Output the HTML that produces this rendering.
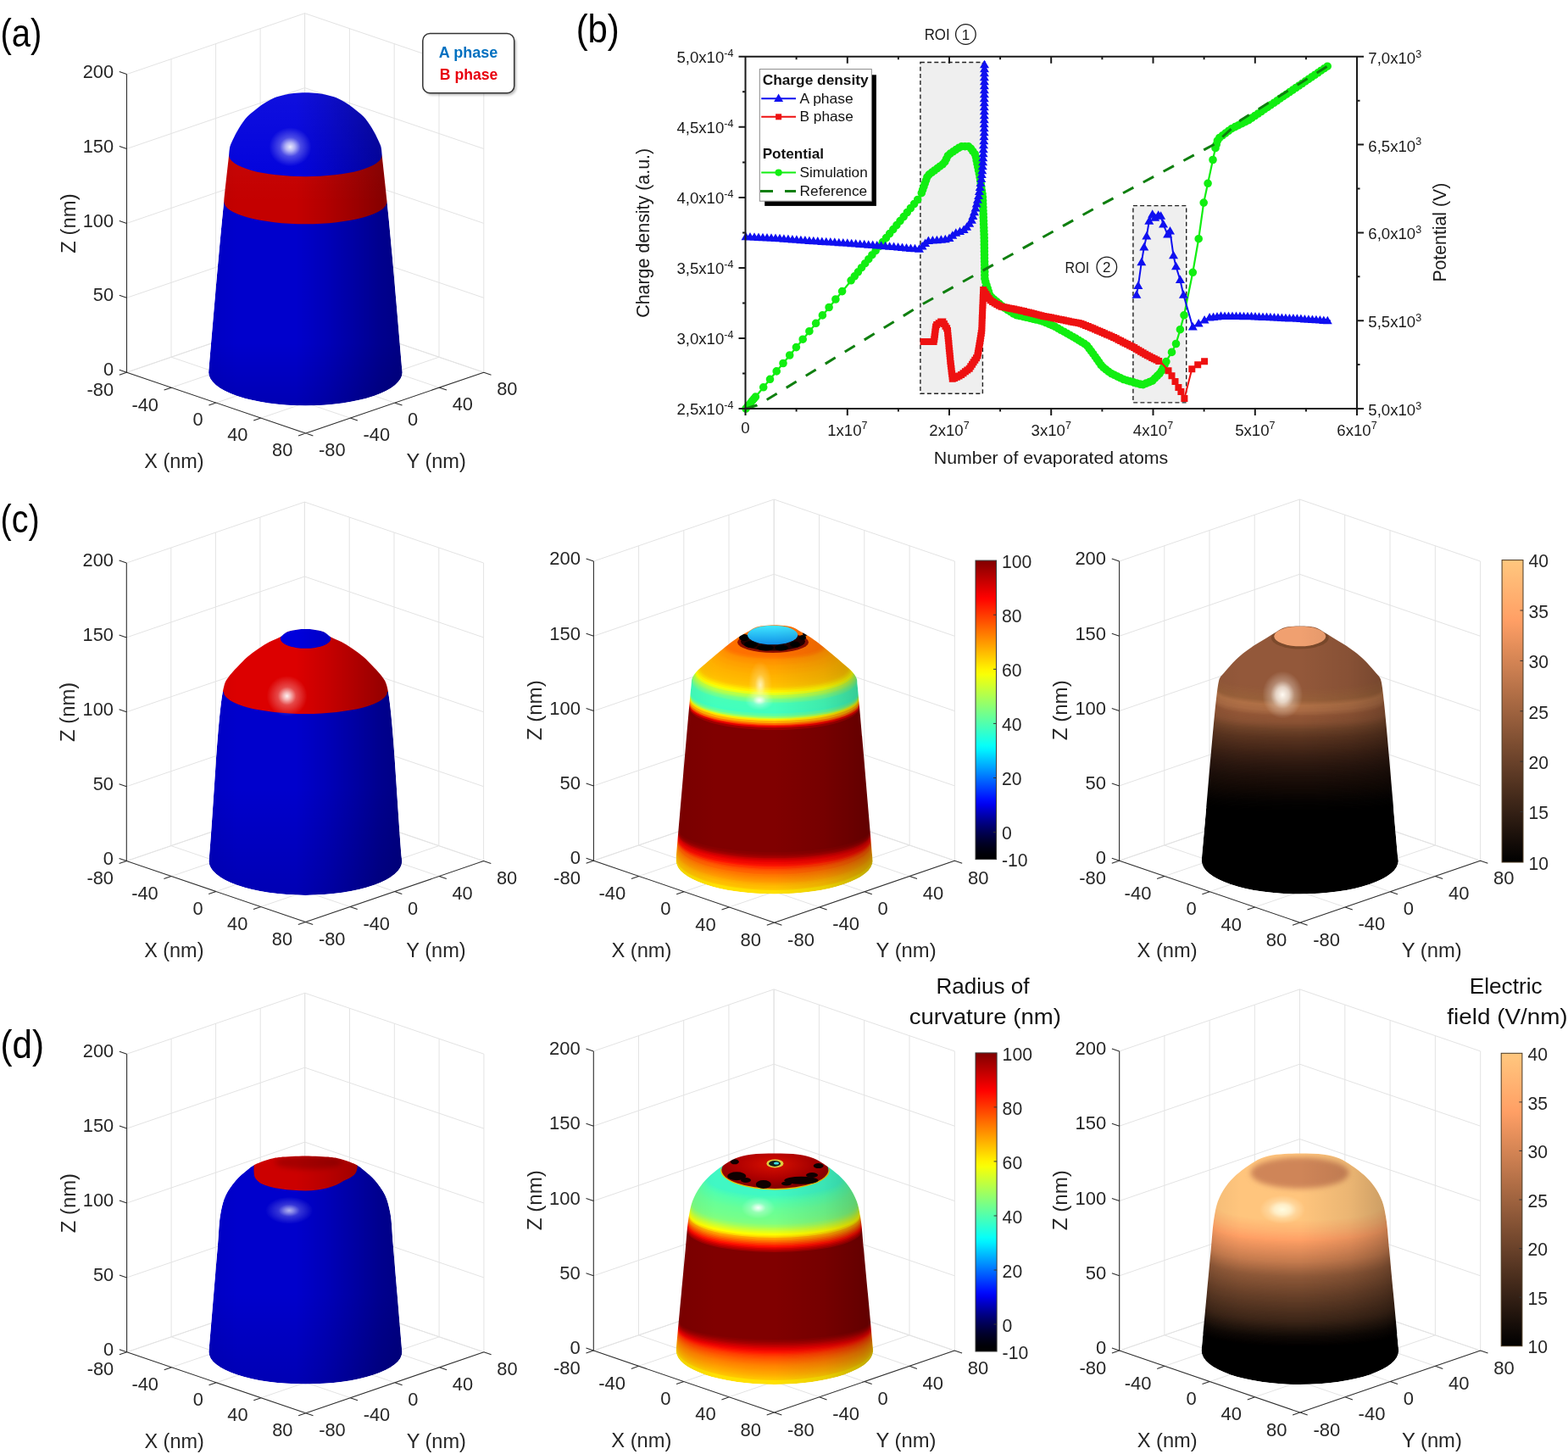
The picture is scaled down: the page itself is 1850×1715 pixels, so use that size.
<!DOCTYPE html><html><head><meta charset="utf-8"><title>Figure</title><style>html,body{margin:0;padding:0;background:#fff;}svg{display:block;}</style></head><body><svg xmlns="http://www.w3.org/2000/svg" width="1850" height="1715" viewBox="0 0 1850 1715" font-family="'Liberation Sans', Arial, Helvetica, sans-serif"><defs><mask id="cla" maskUnits="userSpaceOnUse" x="0" y="0" width="1850" height="1715"><path d="M246.1 439.2C250.1 392.8 254.8 337.2 258.2 300C260.5 275.1 262.1 257.8 264.2 237.7C266.1 218.9 269.1 193.1 270.1 183.1C270.5 179.3 270.5 177.4 270.9 175.2C271.2 173.6 271.2 173 271.9 171.2C273.4 167 278.3 157.1 281.9 151.2C285 146.1 288.2 141.4 291.9 137.5C295.3 133.9 299.2 131.1 302.9 128.2C306.5 125.4 310.2 122.7 313.9 120.5C317.2 118.5 320.4 116.7 323.9 115.3C327.5 113.8 331.6 112.8 335.4 111.9C339.1 111 342.5 110.4 346.4 109.9C350.8 109.4 355.7 109.2 360.4 109.2C365.1 109.2 370 109.4 374.4 109.9C378.3 110.4 381.7 111 385.4 111.9C389.2 112.8 393.3 113.8 396.9 115.3C400.4 116.7 403.6 118.5 406.9 120.5C410.6 122.7 414.3 125.4 417.9 128.2C421.6 131.1 425.5 133.9 428.9 137.5C432.6 141.4 435.8 146.1 438.9 151.2C442.5 157.1 447.4 167 448.9 171.2C449.6 173 449.6 173.6 449.9 175.2C450.3 177.4 450.3 179.3 450.7 183.1C451.7 193.1 454.7 218.9 456.6 237.7C458.7 257.8 460.3 275.1 462.6 300C466 337.2 470.7 392.8 474.7 439.2A114.3 39.2 0 0 1 246.1 439.2Z" fill="#fff"/></mask><linearGradient id="vsa" gradientUnits="userSpaceOnUse" x1="0" y1="109" x2="0" y2="478"><stop offset="0" stop-color="#fff" stop-opacity="0.06"/><stop offset="0.35" stop-color="#fff" stop-opacity="0.0"/><stop offset="0.8" stop-color="#000" stop-opacity="0.0"/><stop offset="1" stop-color="#000" stop-opacity="0.12"/></linearGradient><linearGradient id="sha" gradientUnits="userSpaceOnUse" x1="246.1" y1="0" x2="474.7" y2="0"><stop offset="0" stop-color="#000" stop-opacity="0.05"/><stop offset="0.15" stop-color="#000" stop-opacity="0.0"/><stop offset="0.45" stop-color="#000" stop-opacity="0.0"/><stop offset="0.6" stop-color="#000" stop-opacity="0.09"/><stop offset="0.75" stop-color="#000" stop-opacity="0.2"/><stop offset="0.88" stop-color="#000" stop-opacity="0.3"/><stop offset="1" stop-color="#000" stop-opacity="0.36"/></linearGradient><radialGradient id="hla_0"><stop offset="0" stop-color="#ffffff" stop-opacity="0.92"/><stop offset="0.22" stop-color="#ffffff" stop-opacity="0.6900000000000001"/><stop offset="0.49" stop-color="#ffffff" stop-opacity="0.276"/><stop offset="1" stop-color="#ffffff" stop-opacity="0"/></radialGradient><mask id="clc1" maskUnits="userSpaceOnUse" x="0" y="0" width="1850" height="1715"><path d="M246.5 1015.6C252.5 946.5 257.1 833.3 264.6 808.2C266.4 802.2 267.9 801.1 270.2 797.8C272.7 794.2 275.9 791.1 279.3 787.5C283.2 783.4 287.8 778.4 292.3 774.5C296.5 770.9 300.8 767.9 305.1 765C309.4 762.1 313.7 759.4 318.1 757C322.4 754.7 327.6 753.2 331.2 751C334.1 749.3 335.5 747 338.4 745.6C341.8 744 346.6 743.3 350.4 742.7C353.9 742.2 357.1 742.1 360.4 742.1C363.7 742.1 366.9 742.2 370.4 742.7C374.2 743.3 379 744 382.4 745.6C385.3 747 386.7 749.3 389.6 751C393.2 753.2 398.4 754.7 402.7 757C407.1 759.4 411.4 762.1 415.7 765C420 767.9 424.3 770.9 428.5 774.5C433 778.4 437.6 783.4 441.5 787.5C444.9 791.1 448.1 794.2 450.6 797.8C452.9 801.1 454.4 802.2 456.2 808.2C463.7 833.3 468.3 946.5 474.3 1015.6A113.9 40.3 0 0 1 246.5 1015.6Z" fill="#fff"/></mask><linearGradient id="vsc1" gradientUnits="userSpaceOnUse" x1="0" y1="742" x2="0" y2="1056"><stop offset="0" stop-color="#fff" stop-opacity="0.0"/><stop offset="0.6" stop-color="#000" stop-opacity="0.0"/><stop offset="1" stop-color="#000" stop-opacity="0.12"/></linearGradient><linearGradient id="shc1" gradientUnits="userSpaceOnUse" x1="246.5" y1="0" x2="474.3" y2="0"><stop offset="0" stop-color="#000" stop-opacity="0.05"/><stop offset="0.15" stop-color="#000" stop-opacity="0.0"/><stop offset="0.45" stop-color="#000" stop-opacity="0.0"/><stop offset="0.6" stop-color="#000" stop-opacity="0.09"/><stop offset="0.75" stop-color="#000" stop-opacity="0.2"/><stop offset="0.88" stop-color="#000" stop-opacity="0.3"/><stop offset="1" stop-color="#000" stop-opacity="0.36"/></linearGradient><radialGradient id="hlc1_0"><stop offset="0" stop-color="#ffffff" stop-opacity="0.95"/><stop offset="0.18" stop-color="#ffffff" stop-opacity="0.7124999999999999"/><stop offset="0.45" stop-color="#ffffff" stop-opacity="0.285"/><stop offset="1" stop-color="#ffffff" stop-opacity="0"/></radialGradient><mask id="cld1" maskUnits="userSpaceOnUse" x="0" y="0" width="1850" height="1715"><path d="M246.4 1594.8C249.9 1553 254.3 1499.3 256.9 1469.4C258.3 1452.7 258.3 1441.3 260.4 1430.4C261.9 1422.4 263.4 1416.1 266.4 1409.8C269.3 1403.6 273.5 1397.8 277.9 1392.7C282.1 1387.8 288 1383.1 292 1379.8C294.6 1377.6 296.5 1376.1 299.1 1374.6C301.7 1373.1 304.2 1372.1 307.6 1370.8C312.3 1369 320.7 1366.5 325 1365.6C327.4 1365.1 328.1 1365.1 330.9 1364.9C336.9 1364.4 350.5 1363.6 360.4 1363.6C370.2 1363.6 383.8 1364.4 389.9 1364.9C392.6 1365.1 393.3 1365.1 395.8 1365.6C400 1366.5 408.4 1369 413.2 1370.8C416.5 1372.1 419 1373.1 421.7 1374.6C424.2 1376.1 426.1 1377.6 428.8 1379.8C432.7 1383.1 438.6 1387.8 442.9 1392.7C447.2 1397.8 451.4 1403.6 454.4 1409.8C457.3 1416.1 458.8 1422.4 460.4 1430.4C462.4 1441.3 462.4 1452.7 463.9 1469.4C466.4 1499.3 470.9 1553 474.4 1594.8A114 37.8 0 0 1 246.4 1594.8Z" fill="#fff"/></mask><linearGradient id="vsd1" gradientUnits="userSpaceOnUse" x1="0" y1="1363" x2="0" y2="1633"><stop offset="0" stop-color="#fff" stop-opacity="0.0"/><stop offset="0.6" stop-color="#000" stop-opacity="0.0"/><stop offset="1" stop-color="#000" stop-opacity="0.12"/></linearGradient><linearGradient id="shd1" gradientUnits="userSpaceOnUse" x1="246.4" y1="0" x2="474.4" y2="0"><stop offset="0" stop-color="#000" stop-opacity="0.05"/><stop offset="0.15" stop-color="#000" stop-opacity="0.0"/><stop offset="0.45" stop-color="#000" stop-opacity="0.0"/><stop offset="0.6" stop-color="#000" stop-opacity="0.09"/><stop offset="0.75" stop-color="#000" stop-opacity="0.2"/><stop offset="0.88" stop-color="#000" stop-opacity="0.3"/><stop offset="1" stop-color="#000" stop-opacity="0.36"/></linearGradient><radialGradient id="hld1_0"><stop offset="0" stop-color="#ffffff" stop-opacity="0.7"/><stop offset="0.18" stop-color="#ffffff" stop-opacity="0.5249999999999999"/><stop offset="0.45" stop-color="#ffffff" stop-opacity="0.21"/><stop offset="1" stop-color="#ffffff" stop-opacity="0"/></radialGradient><mask id="clc2" maskUnits="userSpaceOnUse" x="0" y="0" width="1850" height="1715"><path d="M797.6 1015.2C803.6 946.1 813.2 830.7 815.6 808C816.1 803.5 815.7 802.5 816.6 800C817.6 797.5 819.1 795.4 821.1 793C823.9 789.8 828.2 786.5 832.1 783C836.5 779.2 841.5 774.9 846.1 771C850.7 767.2 855.1 763.5 859.6 760C864.2 756.5 869.3 752.7 873.6 750C877.2 747.8 880.5 746.2 883.6 744.5C886.5 742.9 888.2 741.1 891.6 740C897 738.2 906.3 737.3 913.6 737.3C921 737.3 930.3 738.2 935.6 740C939.1 741.1 940.8 742.9 943.6 744.5C946.8 746.2 950.1 747.8 953.6 750C958 752.7 963.1 756.5 967.6 760C972.2 763.5 976.6 767.2 981.1 771C985.8 774.9 990.8 779.2 995.1 783C999.1 786.5 1003.4 789.8 1006.1 793C1008.2 795.4 1009.7 797.5 1010.6 800C1011.6 802.5 1011.2 803.5 1011.6 808C1014.1 830.7 1023.7 946.1 1029.7 1015.2A116 39.4 0 0 1 797.6 1015.2Z" fill="#fff"/></mask><linearGradient id="cyc2" x1="0" y1="0" x2="0" y2="1"><stop offset="0" stop-color="#40e8ff"/><stop offset="1" stop-color="#1090e8"/></linearGradient><linearGradient id="shc2" gradientUnits="userSpaceOnUse" x1="797.6" y1="0" x2="1029.7" y2="0"><stop offset="0" stop-color="#000" stop-opacity="0.06"/><stop offset="0.2" stop-color="#000" stop-opacity="0.0"/><stop offset="0.5" stop-color="#000" stop-opacity="0.0"/><stop offset="0.75" stop-color="#000" stop-opacity="0.08"/><stop offset="0.9" stop-color="#000" stop-opacity="0.18"/><stop offset="1" stop-color="#000" stop-opacity="0.25"/></linearGradient><radialGradient id="hlc2_0"><stop offset="0" stop-color="#ffffe0" stop-opacity="0.8"/><stop offset="0.18" stop-color="#ffffe0" stop-opacity="0.6000000000000001"/><stop offset="0.45" stop-color="#ffffe0" stop-opacity="0.24"/><stop offset="1" stop-color="#ffffe0" stop-opacity="0"/></radialGradient><radialGradient id="hlc2_1"><stop offset="0" stop-color="#ffffff" stop-opacity="0.95"/><stop offset="0.18" stop-color="#ffffff" stop-opacity="0.7124999999999999"/><stop offset="0.45" stop-color="#ffffff" stop-opacity="0.285"/><stop offset="1" stop-color="#ffffff" stop-opacity="0"/></radialGradient><mask id="cld2" maskUnits="userSpaceOnUse" x="0" y="0" width="1850" height="1715"><path d="M797.6 1593.1C801.3 1553.5 806 1502.7 808.7 1474.3C810.2 1458.4 810.7 1447.5 812.4 1437.1C813.7 1429.4 814.6 1423.4 816.9 1417.1C819.2 1410.9 822.4 1404.9 826.1 1399.7C829.6 1394.6 833.9 1390.2 838.3 1386.1C842.8 1382 847.8 1378.3 852.8 1374.9C857.7 1371.6 862.4 1368.4 867.8 1366.2C873.4 1364 879.2 1362.8 885.9 1361.8C894.2 1360.6 904.6 1360.6 913.9 1360.6C923.2 1360.6 933.6 1360.6 941.9 1361.8C948.6 1362.8 954.4 1364 960 1366.2C965.4 1368.4 970.1 1371.6 975 1374.9C980 1378.3 985 1382 989.5 1386.1C993.9 1390.2 998.2 1394.6 1001.7 1399.7C1005.4 1404.9 1008.6 1410.9 1010.9 1417.1C1013.2 1423.4 1014.1 1429.4 1015.4 1437.1C1017.1 1447.5 1017.6 1458.4 1019.1 1474.3C1021.8 1502.7 1026.5 1553.5 1030.2 1593.1A116.3 40 0 0 1 797.6 1593.1Z" fill="#fff"/></mask><radialGradient id="rcd2" cx="0.5" cy="0.35" r="0.6"><stop offset="0" stop-color="#d81000"/><stop offset="0.6" stop-color="#b00000"/><stop offset="1" stop-color="#880000"/></radialGradient><linearGradient id="shd2" gradientUnits="userSpaceOnUse" x1="797.6" y1="0" x2="1030.2" y2="0"><stop offset="0" stop-color="#000" stop-opacity="0.06"/><stop offset="0.2" stop-color="#000" stop-opacity="0.0"/><stop offset="0.5" stop-color="#000" stop-opacity="0.0"/><stop offset="0.75" stop-color="#000" stop-opacity="0.08"/><stop offset="0.9" stop-color="#000" stop-opacity="0.18"/><stop offset="1" stop-color="#000" stop-opacity="0.25"/></linearGradient><radialGradient id="hld2_0"><stop offset="0" stop-color="#ffffff" stop-opacity="0.95"/><stop offset="0.18" stop-color="#ffffff" stop-opacity="0.7124999999999999"/><stop offset="0.45" stop-color="#ffffff" stop-opacity="0.285"/><stop offset="1" stop-color="#ffffff" stop-opacity="0"/></radialGradient><mask id="clc3" maskUnits="userSpaceOnUse" x="0" y="0" width="1850" height="1715"><path d="M1417.8 1015.2C1424.4 944.9 1433.6 822.9 1437.8 804.2C1438.4 801.2 1438.6 800.9 1439.5 799.2C1440.8 797 1443 794.9 1445.3 792.2C1448.7 788.3 1453.6 782.5 1457.8 778.4C1461.7 774.7 1465.4 771.6 1469.5 768.5C1473.5 765.4 1477.9 762.5 1482.2 759.8C1486.3 757.1 1490.7 754.7 1494.7 752.3C1498.2 750.1 1501.5 748.1 1504.8 746.1C1508.1 744.2 1510.5 741.8 1514.5 740.5C1519.6 738.8 1527.3 738.6 1533.8 738.6C1540.2 738.6 1547.9 738.8 1553 740.5C1557 741.8 1559.4 744.2 1562.7 746.1C1566 748.1 1569.3 750.1 1572.8 752.3C1576.8 754.7 1581.2 757.1 1585.3 759.8C1589.6 762.5 1594 765.4 1598 768.5C1602.1 771.6 1605.8 774.7 1609.7 778.4C1613.9 782.5 1618.8 788.3 1622.2 792.2C1624.5 794.9 1626.7 797 1628 799.2C1628.9 800.9 1629.1 801.2 1629.8 804.2C1633.9 822.9 1643.1 944.9 1649.8 1015.2A116 39.4 0 0 1 1417.8 1015.2Z" fill="#fff"/></mask><linearGradient id="shc3" gradientUnits="userSpaceOnUse" x1="1417.8" y1="0" x2="1649.8" y2="0"><stop offset="0" stop-color="#000" stop-opacity="0.06"/><stop offset="0.2" stop-color="#000" stop-opacity="0.0"/><stop offset="0.5" stop-color="#000" stop-opacity="0.0"/><stop offset="0.75" stop-color="#000" stop-opacity="0.08"/><stop offset="0.9" stop-color="#000" stop-opacity="0.18"/><stop offset="1" stop-color="#000" stop-opacity="0.25"/></linearGradient><radialGradient id="hlc3_0"><stop offset="0" stop-color="#fffaf2" stop-opacity="1.0"/><stop offset="0.32" stop-color="#fffaf2" stop-opacity="0.75"/><stop offset="0.59" stop-color="#fffaf2" stop-opacity="0.3"/><stop offset="1" stop-color="#fffaf2" stop-opacity="0"/></radialGradient><mask id="cld3" maskUnits="userSpaceOnUse" x="0" y="0" width="1850" height="1715"><path d="M1417.6 1593.1C1421.3 1553.5 1426 1502.7 1428.7 1474.3C1430.2 1458.4 1430.7 1447.5 1432.4 1437.1C1433.7 1429.4 1434.6 1423.4 1436.9 1417.1C1439.2 1410.9 1442.4 1404.9 1446.1 1399.7C1449.6 1394.6 1453.9 1390.2 1458.3 1386.1C1462.8 1382 1467.8 1378.3 1472.8 1374.9C1477.7 1371.6 1482.4 1368.4 1487.8 1366.2C1493.4 1364 1499.2 1362.8 1505.9 1361.8C1514.2 1360.6 1524.6 1360.6 1533.9 1360.6C1543.2 1360.6 1553.6 1360.6 1561.9 1361.8C1568.6 1362.8 1574.4 1364 1580 1366.2C1585.4 1368.4 1590.1 1371.6 1595 1374.9C1600 1378.3 1605 1382 1609.5 1386.1C1613.9 1390.2 1618.2 1394.6 1621.7 1399.7C1625.4 1404.9 1628.6 1410.9 1630.9 1417.1C1633.2 1423.4 1634.1 1429.4 1635.4 1437.1C1637.1 1447.5 1637.6 1458.4 1639.1 1474.3C1641.8 1502.7 1646.5 1553.5 1650.2 1593.1A116.3 40 0 0 1 1417.6 1593.1Z" fill="#fff"/></mask><filter id="blur3" x="-20%" y="-50%" width="140%" height="200%"><feGaussianBlur stdDeviation="3"/></filter><linearGradient id="shd3" gradientUnits="userSpaceOnUse" x1="1417.6" y1="0" x2="1650.2" y2="0"><stop offset="0" stop-color="#000" stop-opacity="0.06"/><stop offset="0.2" stop-color="#000" stop-opacity="0.0"/><stop offset="0.5" stop-color="#000" stop-opacity="0.0"/><stop offset="0.75" stop-color="#000" stop-opacity="0.08"/><stop offset="0.9" stop-color="#000" stop-opacity="0.18"/><stop offset="1" stop-color="#000" stop-opacity="0.25"/></linearGradient><radialGradient id="hld3_0"><stop offset="0" stop-color="#fffce0" stop-opacity="1.0"/><stop offset="0.35" stop-color="#fffce0" stop-opacity="0.75"/><stop offset="0.62" stop-color="#fffce0" stop-opacity="0.3"/><stop offset="1" stop-color="#fffce0" stop-opacity="0"/></radialGradient><linearGradient id="gjet" x1="0" y1="0" x2="0" y2="1"><stop offset="0.0000" stop-color="#800000"/><stop offset="0.0182" stop-color="#920000"/><stop offset="0.0364" stop-color="#a50000"/><stop offset="0.0545" stop-color="#b70000"/><stop offset="0.0727" stop-color="#ca0000"/><stop offset="0.0909" stop-color="#dc0000"/><stop offset="0.1091" stop-color="#ef0000"/><stop offset="0.1273" stop-color="#ff0200"/><stop offset="0.1455" stop-color="#ff1500"/><stop offset="0.1636" stop-color="#ff2700"/><stop offset="0.1818" stop-color="#ff3a00"/><stop offset="0.2000" stop-color="#ff4c00"/><stop offset="0.2182" stop-color="#ff5f00"/><stop offset="0.2364" stop-color="#ff7200"/><stop offset="0.2545" stop-color="#ff8400"/><stop offset="0.2727" stop-color="#ff9700"/><stop offset="0.2909" stop-color="#ffa900"/><stop offset="0.3091" stop-color="#ffbc00"/><stop offset="0.3273" stop-color="#ffce00"/><stop offset="0.3455" stop-color="#ffe100"/><stop offset="0.3636" stop-color="#fff300"/><stop offset="0.3818" stop-color="#f8ff07"/><stop offset="0.4000" stop-color="#e5ff1a"/><stop offset="0.4182" stop-color="#d3ff2c"/><stop offset="0.4364" stop-color="#c0ff3f"/><stop offset="0.4545" stop-color="#aeff51"/><stop offset="0.4727" stop-color="#9bff64"/><stop offset="0.4909" stop-color="#89ff76"/><stop offset="0.5091" stop-color="#76ff89"/><stop offset="0.5273" stop-color="#64ff9b"/><stop offset="0.5455" stop-color="#51ffae"/><stop offset="0.5636" stop-color="#3fffc0"/><stop offset="0.5818" stop-color="#2cffd3"/><stop offset="0.6000" stop-color="#1affe5"/><stop offset="0.6182" stop-color="#07fff8"/><stop offset="0.6364" stop-color="#00efff"/><stop offset="0.6545" stop-color="#00d6ff"/><stop offset="0.6727" stop-color="#00bdff"/><stop offset="0.6909" stop-color="#00a4ff"/><stop offset="0.7091" stop-color="#008bff"/><stop offset="0.7273" stop-color="#0071ff"/><stop offset="0.7455" stop-color="#0058ff"/><stop offset="0.7636" stop-color="#003fff"/><stop offset="0.7818" stop-color="#0026ff"/><stop offset="0.8000" stop-color="#000dff"/><stop offset="0.8182" stop-color="#0000ed"/><stop offset="0.8364" stop-color="#0000ca"/><stop offset="0.8545" stop-color="#0000aa"/><stop offset="0.8727" stop-color="#00008b"/><stop offset="0.8909" stop-color="#00006e"/><stop offset="0.9091" stop-color="#000054"/><stop offset="0.9273" stop-color="#00003c"/><stop offset="0.9455" stop-color="#000027"/><stop offset="0.9636" stop-color="#000015"/><stop offset="0.9818" stop-color="#000007"/><stop offset="1.0000" stop-color="#000000"/></linearGradient><linearGradient id="gcop" x1="0" y1="0" x2="0" y2="1"><stop offset="0.0000" stop-color="#ffc77e"/><stop offset="0.0500" stop-color="#ffbd78"/><stop offset="0.1000" stop-color="#ffb372"/><stop offset="0.1500" stop-color="#ffa96b"/><stop offset="0.2000" stop-color="#ff9f65"/><stop offset="0.2500" stop-color="#ef955f"/><stop offset="0.3000" stop-color="#df8b58"/><stop offset="0.3500" stop-color="#cf8152"/><stop offset="0.4000" stop-color="#bf774c"/><stop offset="0.4500" stop-color="#af6d45"/><stop offset="0.5000" stop-color="#9f633f"/><stop offset="0.5500" stop-color="#8f5939"/><stop offset="0.6000" stop-color="#7f4f32"/><stop offset="0.6500" stop-color="#6f452c"/><stop offset="0.7000" stop-color="#5f3b26"/><stop offset="0.7500" stop-color="#4f311f"/><stop offset="0.8000" stop-color="#3f2719"/><stop offset="0.8500" stop-color="#2f1d13"/><stop offset="0.9000" stop-color="#1f130c"/><stop offset="0.9500" stop-color="#0f0906"/><stop offset="1.0000" stop-color="#000000"/></linearGradient><filter id="blur2" x="-20%" y="-20%" width="140%" height="140%"><feGaussianBlur stdDeviation="1.8"/></filter></defs><rect width="1850" height="1715" fill="#fff"/><path d="M149.5 439.2L359.6 367.3M202.3 457.2L412.4 385.3M255.1 475.1L465.2 403.2M307.9 493.1L518 421.2M202 421.2L413.2 493.1M254.6 403.2L465.8 475.2M307.1 385.3L518.3 457.2M359.6 367.3L570.8 439.2M202 421.2L202 69.6M254.6 403.2L254.6 51.6M307.1 385.3L307.1 33.7M359.6 367.3L359.6 15.7M149.5 439.2L359.6 367.3M149.5 351.3L359.6 279.4M149.5 263.4L359.6 191.5M149.5 175.5L359.6 103.6M149.5 87.6L359.6 15.7M359.6 367.3L359.6 15.7M412.4 385.3L412.4 33.7M465.2 403.2L465.2 51.6M518 421.2L518 69.6M570.8 439.2L570.8 87.6M359.6 367.3L570.8 439.2M359.6 279.4L570.8 351.3M359.6 191.5L570.8 263.4M359.6 103.6L570.8 175.5M359.6 15.7L570.8 87.6" stroke="#e3e3e3" stroke-width="1" fill="none"/><g mask="url(#cla)"><path d="M246.1 439.2C250.1 392.8 254.8 337.2 258.2 300C260.5 275.1 262.1 257.8 264.2 237.7C266.1 218.9 269.1 193.1 270.1 183.1C270.5 179.3 270.5 177.4 270.9 175.2C271.2 173.6 271.2 173 271.9 171.2C273.4 167 278.3 157.1 281.9 151.2C285 146.1 288.2 141.4 291.9 137.5C295.3 133.9 299.2 131.1 302.9 128.2C306.5 125.4 310.2 122.7 313.9 120.5C317.2 118.5 320.4 116.7 323.9 115.3C327.5 113.8 331.6 112.8 335.4 111.9C339.1 111 342.5 110.4 346.4 109.9C350.8 109.4 355.7 109.2 360.4 109.2C365.1 109.2 370 109.4 374.4 109.9C378.3 110.4 381.7 111 385.4 111.9C389.2 112.8 393.3 113.8 396.9 115.3C400.4 116.7 403.6 118.5 406.9 120.5C410.6 122.7 414.3 125.4 417.9 128.2C421.6 131.1 425.5 133.9 428.9 137.5C432.6 141.4 435.8 146.1 438.9 151.2C442.5 157.1 447.4 167 448.9 171.2C449.6 173 449.6 173.6 449.9 175.2C450.3 177.4 450.3 179.3 450.7 183.1C451.7 193.1 454.7 218.9 456.6 237.7C458.7 257.8 460.3 275.1 462.6 300C466 337.2 470.7 392.8 474.7 439.2A114.3 39.2 0 0 1 246.1 439.2Z" fill="#0000cc"/><path d="M206.1 237.7L264.2 237.7A96.2 26.6 0 0 0 456.6 237.7L514.7 237.7L514.7 79.2L206.1 79.2Z" fill="#c40000"/><path d="M206.1 183.1L270.1 183.1A90.3 25.2 0 0 0 450.7 183.1L514.7 183.1L514.7 79.2L206.1 79.2Z" fill="#0000dc"/><path d="M246.1 439.2C250.1 392.8 254.8 337.2 258.2 300C260.5 275.1 262.1 257.8 264.2 237.7C266.1 218.9 269.1 193.1 270.1 183.1C270.5 179.3 270.5 177.4 270.9 175.2C271.2 173.6 271.2 173 271.9 171.2C273.4 167 278.3 157.1 281.9 151.2C285 146.1 288.2 141.4 291.9 137.5C295.3 133.9 299.2 131.1 302.9 128.2C306.5 125.4 310.2 122.7 313.9 120.5C317.2 118.5 320.4 116.7 323.9 115.3C327.5 113.8 331.6 112.8 335.4 111.9C339.1 111 342.5 110.4 346.4 109.9C350.8 109.4 355.7 109.2 360.4 109.2C365.1 109.2 370 109.4 374.4 109.9C378.3 110.4 381.7 111 385.4 111.9C389.2 112.8 393.3 113.8 396.9 115.3C400.4 116.7 403.6 118.5 406.9 120.5C410.6 122.7 414.3 125.4 417.9 128.2C421.6 131.1 425.5 133.9 428.9 137.5C432.6 141.4 435.8 146.1 438.9 151.2C442.5 157.1 447.4 167 448.9 171.2C449.6 173 449.6 173.6 449.9 175.2C450.3 177.4 450.3 179.3 450.7 183.1C451.7 193.1 454.7 218.9 456.6 237.7C458.7 257.8 460.3 275.1 462.6 300C466 337.2 470.7 392.8 474.7 439.2A114.3 39.2 0 0 1 246.1 439.2Z" fill="url(#vsa)"/><path d="M246.1 439.2C250.1 392.8 254.8 337.2 258.2 300C260.5 275.1 262.1 257.8 264.2 237.7C266.1 218.9 269.1 193.1 270.1 183.1C270.5 179.3 270.5 177.4 270.9 175.2C271.2 173.6 271.2 173 271.9 171.2C273.4 167 278.3 157.1 281.9 151.2C285 146.1 288.2 141.4 291.9 137.5C295.3 133.9 299.2 131.1 302.9 128.2C306.5 125.4 310.2 122.7 313.9 120.5C317.2 118.5 320.4 116.7 323.9 115.3C327.5 113.8 331.6 112.8 335.4 111.9C339.1 111 342.5 110.4 346.4 109.9C350.8 109.4 355.7 109.2 360.4 109.2C365.1 109.2 370 109.4 374.4 109.9C378.3 110.4 381.7 111 385.4 111.9C389.2 112.8 393.3 113.8 396.9 115.3C400.4 116.7 403.6 118.5 406.9 120.5C410.6 122.7 414.3 125.4 417.9 128.2C421.6 131.1 425.5 133.9 428.9 137.5C432.6 141.4 435.8 146.1 438.9 151.2C442.5 157.1 447.4 167 448.9 171.2C449.6 173 449.6 173.6 449.9 175.2C450.3 177.4 450.3 179.3 450.7 183.1C451.7 193.1 454.7 218.9 456.6 237.7C458.7 257.8 460.3 275.1 462.6 300C466 337.2 470.7 392.8 474.7 439.2A114.3 39.2 0 0 1 246.1 439.2Z" fill="url(#sha)"/><ellipse cx="342.4" cy="173.3" rx="25" ry="23" fill="url(#hla_0)"/></g><path d="M149.5 439.2L149.5 87.6M149.5 439.2L360.7 511.1M360.7 511.1L570.8 439.2M149.5 439.2L140.8 436.2M149.5 351.3L140.8 348.3M149.5 263.4L140.8 260.4M149.5 175.5L140.8 172.5M149.5 87.6L140.8 84.6M149.5 439.2L140.8 442.2M202.3 457.2L193.6 460.1M255.1 475.1L246.4 478.1M307.9 493.1L299.2 496.1M360.7 511.1L352 514.1M360.7 511.1L369.4 514.1M413.2 493.1L421.9 496.1M465.8 475.2L474.5 478.1M518.3 457.2L527 460.1M570.8 439.2L579.5 442.2" stroke="#2e2e2e" stroke-width="1.1" fill="none"/><text x="134.1" y="443.3" font-size="21.8" text-anchor="end" fill="#262626">0</text><text x="134.1" y="355.4" font-size="21.8" text-anchor="end" fill="#262626">50</text><text x="134.1" y="267.5" font-size="21.8" text-anchor="end" fill="#262626">100</text><text x="134.1" y="179.6" font-size="21.8" text-anchor="end" fill="#262626">150</text><text x="134.1" y="91.7" font-size="21.8" text-anchor="end" fill="#262626">200</text><text x="134.1" y="466.5" font-size="21.8" text-anchor="end" fill="#262626">-80</text><text x="186.9" y="484.5" font-size="21.8" text-anchor="end" fill="#262626">-40</text><text x="239.7" y="502.4" font-size="21.8" text-anchor="end" fill="#262626">0</text><text x="292.5" y="520.4" font-size="21.8" text-anchor="end" fill="#262626">40</text><text x="345.3" y="538.4" font-size="21.8" text-anchor="end" fill="#262626">80</text><text x="376.1" y="538.3" font-size="21.8" fill="#262626">-80</text><text x="428.6" y="520.3" font-size="21.8" fill="#262626">-40</text><text x="481.1" y="502.3" font-size="21.8" fill="#262626">0</text><text x="533.7" y="484.4" font-size="21.8" fill="#262626">40</text><text x="586.2" y="466.4" font-size="21.8" fill="#262626">80</text><text x="205.5" y="552.4" font-size="23" text-anchor="middle" fill="#262626" textLength="70.3" lengthAdjust="spacingAndGlyphs">X (nm)</text><text x="514.7" y="552.4" font-size="23" text-anchor="middle" fill="#262626" textLength="70.3" lengthAdjust="spacingAndGlyphs">Y (nm)</text><text transform="translate(88.6 263.5) rotate(-90)" font-size="23" text-anchor="middle" fill="#262626" textLength="70.3" lengthAdjust="spacingAndGlyphs">Z (nm)</text><path d="M149.3 1015.6L359.4 943.7M202.1 1033.6L412.2 961.7M254.9 1051.5L465 979.6M307.7 1069.5L517.8 997.6M201.8 997.6L413 1069.5M254.4 979.6L465.6 1051.5M306.9 961.7L518.1 1033.6M359.4 943.7L570.6 1015.6M201.8 997.6L201.8 646M254.4 979.6L254.4 628M306.9 961.7L306.9 610.1M359.4 943.7L359.4 592.1M149.3 1015.6L359.4 943.7M149.3 927.7L359.4 855.8M149.3 839.8L359.4 767.9M149.3 751.9L359.4 680M149.3 664L359.4 592.1M359.4 943.7L359.4 592.1M412.2 961.7L412.2 610.1M465 979.6L465 628M517.8 997.6L517.8 646M570.6 1015.6L570.6 664M359.4 943.7L570.6 1015.6M359.4 855.8L570.6 927.7M359.4 767.9L570.6 839.8M359.4 680L570.6 751.9M359.4 592.1L570.6 664" stroke="#e3e3e3" stroke-width="1" fill="none"/><g mask="url(#clc1)"><path d="M246.5 1015.6C252.5 946.5 257.1 833.3 264.6 808.2C266.4 802.2 267.9 801.1 270.2 797.8C272.7 794.2 275.9 791.1 279.3 787.5C283.2 783.4 287.8 778.4 292.3 774.5C296.5 770.9 300.8 767.9 305.1 765C309.4 762.1 313.7 759.4 318.1 757C322.4 754.7 327.6 753.2 331.2 751C334.1 749.3 335.5 747 338.4 745.6C341.8 744 346.6 743.3 350.4 742.7C353.9 742.2 357.1 742.1 360.4 742.1C363.7 742.1 366.9 742.2 370.4 742.7C374.2 743.3 379 744 382.4 745.6C385.3 747 386.7 749.3 389.6 751C393.2 753.2 398.4 754.7 402.7 757C407.1 759.4 411.4 762.1 415.7 765C420 767.9 424.3 770.9 428.5 774.5C433 778.4 437.6 783.4 441.5 787.5C444.9 791.1 448.1 794.2 450.6 797.8C452.9 801.1 454.4 802.2 456.2 808.2C463.7 833.3 468.3 946.5 474.3 1015.6A113.9 40.3 0 0 1 246.5 1015.6Z" fill="#0000cc"/><path d="M206.5 816L263.9 816A96.5 26 0 0 0 456.9 816L514.3 816L514.3 712.1L206.5 712.1Z" fill="#dc0000"/><ellipse cx="360.6" cy="753.2" rx="29.7" ry="11.6" fill="#0000dc"/><path d="M246.5 1015.6C252.5 946.5 257.1 833.3 264.6 808.2C266.4 802.2 267.9 801.1 270.2 797.8C272.7 794.2 275.9 791.1 279.3 787.5C283.2 783.4 287.8 778.4 292.3 774.5C296.5 770.9 300.8 767.9 305.1 765C309.4 762.1 313.7 759.4 318.1 757C322.4 754.7 327.6 753.2 331.2 751C334.1 749.3 335.5 747 338.4 745.6C341.8 744 346.6 743.3 350.4 742.7C353.9 742.2 357.1 742.1 360.4 742.1C363.7 742.1 366.9 742.2 370.4 742.7C374.2 743.3 379 744 382.4 745.6C385.3 747 386.7 749.3 389.6 751C393.2 753.2 398.4 754.7 402.7 757C407.1 759.4 411.4 762.1 415.7 765C420 767.9 424.3 770.9 428.5 774.5C433 778.4 437.6 783.4 441.5 787.5C444.9 791.1 448.1 794.2 450.6 797.8C452.9 801.1 454.4 802.2 456.2 808.2C463.7 833.3 468.3 946.5 474.3 1015.6A113.9 40.3 0 0 1 246.5 1015.6Z" fill="url(#vsc1)"/><path d="M246.5 1015.6C252.5 946.5 257.1 833.3 264.6 808.2C266.4 802.2 267.9 801.1 270.2 797.8C272.7 794.2 275.9 791.1 279.3 787.5C283.2 783.4 287.8 778.4 292.3 774.5C296.5 770.9 300.8 767.9 305.1 765C309.4 762.1 313.7 759.4 318.1 757C322.4 754.7 327.6 753.2 331.2 751C334.1 749.3 335.5 747 338.4 745.6C341.8 744 346.6 743.3 350.4 742.7C353.9 742.2 357.1 742.1 360.4 742.1C363.7 742.1 366.9 742.2 370.4 742.7C374.2 743.3 379 744 382.4 745.6C385.3 747 386.7 749.3 389.6 751C393.2 753.2 398.4 754.7 402.7 757C407.1 759.4 411.4 762.1 415.7 765C420 767.9 424.3 770.9 428.5 774.5C433 778.4 437.6 783.4 441.5 787.5C444.9 791.1 448.1 794.2 450.6 797.8C452.9 801.1 454.4 802.2 456.2 808.2C463.7 833.3 468.3 946.5 474.3 1015.6A113.9 40.3 0 0 1 246.5 1015.6Z" fill="url(#shc1)"/><ellipse cx="338.6" cy="821" rx="24" ry="24" fill="url(#hlc1_0)"/></g><path d="M149.3 1015.6L149.3 664M149.3 1015.6L360.5 1087.5M360.5 1087.5L570.6 1015.6M149.3 1015.6L140.6 1012.6M149.3 927.7L140.6 924.7M149.3 839.8L140.6 836.8M149.3 751.9L140.6 748.9M149.3 664L140.6 661M149.3 1015.6L140.6 1018.6M202.1 1033.6L193.4 1036.5M254.9 1051.5L246.2 1054.5M307.7 1069.5L299 1072.5M360.5 1087.5L351.8 1090.5M360.5 1087.5L369.2 1090.5M413 1069.5L421.7 1072.5M465.6 1051.5L474.3 1054.5M518.1 1033.6L526.8 1036.5M570.6 1015.6L579.3 1018.6" stroke="#2e2e2e" stroke-width="1.1" fill="none"/><text x="133.9" y="1019.7" font-size="21.8" text-anchor="end" fill="#262626">0</text><text x="133.9" y="931.8" font-size="21.8" text-anchor="end" fill="#262626">50</text><text x="133.9" y="843.9" font-size="21.8" text-anchor="end" fill="#262626">100</text><text x="133.9" y="756" font-size="21.8" text-anchor="end" fill="#262626">150</text><text x="133.9" y="668.1" font-size="21.8" text-anchor="end" fill="#262626">200</text><text x="133.9" y="1042.9" font-size="21.8" text-anchor="end" fill="#262626">-80</text><text x="186.7" y="1060.9" font-size="21.8" text-anchor="end" fill="#262626">-40</text><text x="239.5" y="1078.8" font-size="21.8" text-anchor="end" fill="#262626">0</text><text x="292.3" y="1096.8" font-size="21.8" text-anchor="end" fill="#262626">40</text><text x="345.1" y="1114.8" font-size="21.8" text-anchor="end" fill="#262626">80</text><text x="375.9" y="1114.7" font-size="21.8" fill="#262626">-80</text><text x="428.4" y="1096.7" font-size="21.8" fill="#262626">-40</text><text x="480.9" y="1078.7" font-size="21.8" fill="#262626">0</text><text x="533.5" y="1060.8" font-size="21.8" fill="#262626">40</text><text x="586" y="1042.8" font-size="21.8" fill="#262626">80</text><text x="205.3" y="1128.8" font-size="23" text-anchor="middle" fill="#262626" textLength="70.3" lengthAdjust="spacingAndGlyphs">X (nm)</text><text x="514.5" y="1128.8" font-size="23" text-anchor="middle" fill="#262626" textLength="70.3" lengthAdjust="spacingAndGlyphs">Y (nm)</text><text transform="translate(88.4 839.9) rotate(-90)" font-size="23" text-anchor="middle" fill="#262626" textLength="70.3" lengthAdjust="spacingAndGlyphs">Z (nm)</text><path d="M149.6 1594.8L359.7 1522.9M202.4 1612.8L412.5 1540.9M255.2 1630.8L465.3 1558.8M308 1648.7L518.1 1576.8M202.1 1576.8L413.3 1648.7M254.6 1558.8L465.8 1630.8M307.2 1540.9L518.4 1612.8M359.7 1522.9L570.9 1594.8M202.1 1576.8L202.1 1225.2M254.6 1558.8L254.6 1207.2M307.2 1540.9L307.2 1189.3M359.7 1522.9L359.7 1171.3M149.6 1594.8L359.7 1522.9M149.6 1506.9L359.7 1435M149.6 1419L359.7 1347.1M149.6 1331.1L359.7 1259.2M149.6 1243.2L359.7 1171.3M359.7 1522.9L359.7 1171.3M412.5 1540.9L412.5 1189.3M465.3 1558.8L465.3 1207.2M518.1 1576.8L518.1 1225.2M570.9 1594.8L570.9 1243.2M359.7 1522.9L570.9 1594.8M359.7 1435L570.9 1506.9M359.7 1347.1L570.9 1419M359.7 1259.2L570.9 1331.1M359.7 1171.3L570.9 1243.2" stroke="#e3e3e3" stroke-width="1" fill="none"/><g mask="url(#cld1)"><path d="M246.4 1594.8C249.9 1553 254.3 1499.3 256.9 1469.4C258.3 1452.7 258.3 1441.3 260.4 1430.4C261.9 1422.4 263.4 1416.1 266.4 1409.8C269.3 1403.6 273.5 1397.8 277.9 1392.7C282.1 1387.8 288 1383.1 292 1379.8C294.6 1377.6 296.5 1376.1 299.1 1374.6C301.7 1373.1 304.2 1372.1 307.6 1370.8C312.3 1369 320.7 1366.5 325 1365.6C327.4 1365.1 328.1 1365.1 330.9 1364.9C336.9 1364.4 350.5 1363.6 360.4 1363.6C370.2 1363.6 383.8 1364.4 389.9 1364.9C392.6 1365.1 393.3 1365.1 395.8 1365.6C400 1366.5 408.4 1369 413.2 1370.8C416.5 1372.1 419 1373.1 421.7 1374.6C424.2 1376.1 426.1 1377.6 428.8 1379.8C432.7 1383.1 438.6 1387.8 442.9 1392.7C447.2 1397.8 451.4 1403.6 454.4 1409.8C457.3 1416.1 458.8 1422.4 460.4 1430.4C462.4 1441.3 462.4 1452.7 463.9 1469.4C466.4 1499.3 470.9 1553 474.4 1594.8A114 37.8 0 0 1 246.4 1594.8Z" fill="#0000cc"/><path d="M299.7 1383.7C299 1378 300 1362 304 1350L418 1350C421 1362 423 1374 421 1380C420 1386 414 1389 405 1393C395 1400 380 1404 360.7 1404.5C340 1404 320 1402 308 1396C302 1392 299.5 1388 299.7 1383.7Z" fill="#cc0000"/><ellipse cx="364" cy="1371" rx="40" ry="8" fill="#800000" opacity="0.5" filter="url(#blur3)"/><path d="M246.4 1594.8C249.9 1553 254.3 1499.3 256.9 1469.4C258.3 1452.7 258.3 1441.3 260.4 1430.4C261.9 1422.4 263.4 1416.1 266.4 1409.8C269.3 1403.6 273.5 1397.8 277.9 1392.7C282.1 1387.8 288 1383.1 292 1379.8C294.6 1377.6 296.5 1376.1 299.1 1374.6C301.7 1373.1 304.2 1372.1 307.6 1370.8C312.3 1369 320.7 1366.5 325 1365.6C327.4 1365.1 328.1 1365.1 330.9 1364.9C336.9 1364.4 350.5 1363.6 360.4 1363.6C370.2 1363.6 383.8 1364.4 389.9 1364.9C392.6 1365.1 393.3 1365.1 395.8 1365.6C400 1366.5 408.4 1369 413.2 1370.8C416.5 1372.1 419 1373.1 421.7 1374.6C424.2 1376.1 426.1 1377.6 428.8 1379.8C432.7 1383.1 438.6 1387.8 442.9 1392.7C447.2 1397.8 451.4 1403.6 454.4 1409.8C457.3 1416.1 458.8 1422.4 460.4 1430.4C462.4 1441.3 462.4 1452.7 463.9 1469.4C466.4 1499.3 470.9 1553 474.4 1594.8A114 37.8 0 0 1 246.4 1594.8Z" fill="url(#vsd1)"/><path d="M246.4 1594.8C249.9 1553 254.3 1499.3 256.9 1469.4C258.3 1452.7 258.3 1441.3 260.4 1430.4C261.9 1422.4 263.4 1416.1 266.4 1409.8C269.3 1403.6 273.5 1397.8 277.9 1392.7C282.1 1387.8 288 1383.1 292 1379.8C294.6 1377.6 296.5 1376.1 299.1 1374.6C301.7 1373.1 304.2 1372.1 307.6 1370.8C312.3 1369 320.7 1366.5 325 1365.6C327.4 1365.1 328.1 1365.1 330.9 1364.9C336.9 1364.4 350.5 1363.6 360.4 1363.6C370.2 1363.6 383.8 1364.4 389.9 1364.9C392.6 1365.1 393.3 1365.1 395.8 1365.6C400 1366.5 408.4 1369 413.2 1370.8C416.5 1372.1 419 1373.1 421.7 1374.6C424.2 1376.1 426.1 1377.6 428.8 1379.8C432.7 1383.1 438.6 1387.8 442.9 1392.7C447.2 1397.8 451.4 1403.6 454.4 1409.8C457.3 1416.1 458.8 1422.4 460.4 1430.4C462.4 1441.3 462.4 1452.7 463.9 1469.4C466.4 1499.3 470.9 1553 474.4 1594.8A114 37.8 0 0 1 246.4 1594.8Z" fill="url(#shd1)"/><ellipse cx="341.2" cy="1427.8" rx="28" ry="16" fill="url(#hld1_0)"/></g><path d="M149.6 1594.8L149.6 1243.2M149.6 1594.8L360.8 1666.7M360.8 1666.7L570.9 1594.8M149.6 1594.8L140.9 1591.8M149.6 1506.9L140.9 1503.9M149.6 1419L140.9 1416M149.6 1331.1L140.9 1328.1M149.6 1243.2L140.9 1240.2M149.6 1594.8L140.9 1597.8M202.4 1612.8L193.7 1615.7M255.2 1630.8L246.5 1633.7M308 1648.7L299.3 1651.7M360.8 1666.7L352.1 1669.7M360.8 1666.7L369.5 1669.7M413.3 1648.7L422 1651.7M465.8 1630.8L474.6 1633.7M518.4 1612.8L527.1 1615.7M570.9 1594.8L579.6 1597.8" stroke="#2e2e2e" stroke-width="1.1" fill="none"/><text x="134.2" y="1598.9" font-size="21.8" text-anchor="end" fill="#262626">0</text><text x="134.2" y="1511" font-size="21.8" text-anchor="end" fill="#262626">50</text><text x="134.2" y="1423.1" font-size="21.8" text-anchor="end" fill="#262626">100</text><text x="134.2" y="1335.2" font-size="21.8" text-anchor="end" fill="#262626">150</text><text x="134.2" y="1247.3" font-size="21.8" text-anchor="end" fill="#262626">200</text><text x="134.2" y="1622.1" font-size="21.8" text-anchor="end" fill="#262626">-80</text><text x="187" y="1640.1" font-size="21.8" text-anchor="end" fill="#262626">-40</text><text x="239.8" y="1658" font-size="21.8" text-anchor="end" fill="#262626">0</text><text x="292.6" y="1676" font-size="21.8" text-anchor="end" fill="#262626">40</text><text x="345.4" y="1694" font-size="21.8" text-anchor="end" fill="#262626">80</text><text x="376.2" y="1693.9" font-size="21.8" fill="#262626">-80</text><text x="428.7" y="1675.9" font-size="21.8" fill="#262626">-40</text><text x="481.2" y="1657.9" font-size="21.8" fill="#262626">0</text><text x="533.8" y="1640" font-size="21.8" fill="#262626">40</text><text x="586.3" y="1622" font-size="21.8" fill="#262626">80</text><text x="205.6" y="1708" font-size="23" text-anchor="middle" fill="#262626" textLength="70.3" lengthAdjust="spacingAndGlyphs">X (nm)</text><text x="514.8" y="1708" font-size="23" text-anchor="middle" fill="#262626" textLength="70.3" lengthAdjust="spacingAndGlyphs">Y (nm)</text><text transform="translate(88.7 1419.1) rotate(-90)" font-size="23" text-anchor="middle" fill="#262626" textLength="70.3" lengthAdjust="spacingAndGlyphs">Z (nm)</text><path d="M700.4 1015.2L913.2 942.2M753.7 1033.5L966.5 960.5M807 1051.7L1019.8 978.7M860.3 1070L1073.1 997M753.6 997L966.8 1070M806.8 978.7L1020 1051.7M860 960.5L1073.2 1033.5M913.2 942.2L1126.4 1015.2M753.6 997L753.6 643.8M806.8 978.7L806.8 625.5M860 960.5L860 607.2M913.2 942.2L913.2 589M700.4 1015.2L913.2 942.2M700.4 926.9L913.2 853.9M700.4 838.6L913.2 765.6M700.4 750.3L913.2 677.3M700.4 662L913.2 589M913.2 942.2L913.2 589M966.5 960.5L966.5 607.2M1019.8 978.7L1019.8 625.5M1073.1 997L1073.1 643.8M1126.4 1015.2L1126.4 662M913.2 942.2L1126.4 1015.2M913.2 853.9L1126.4 926.9M913.2 765.6L1126.4 838.6M913.2 677.3L1126.4 750.3M913.2 589L1126.4 662" stroke="#e3e3e3" stroke-width="1" fill="none"/><g mask="url(#clc2)"><path d="M797.6 1015.2C803.6 946.1 813.2 830.7 815.6 808C816.1 803.5 815.7 802.5 816.6 800C817.6 797.5 819.1 795.4 821.1 793C823.9 789.8 828.2 786.5 832.1 783C836.5 779.2 841.5 774.9 846.1 771C850.7 767.2 855.1 763.5 859.6 760C864.2 756.5 869.3 752.7 873.6 750C877.2 747.8 880.5 746.2 883.6 744.5C886.5 742.9 888.2 741.1 891.6 740C897 738.2 906.3 737.3 913.6 737.3C921 737.3 930.3 738.2 935.6 740C939.1 741.1 940.8 742.9 943.6 744.5C946.8 746.2 950.1 747.8 953.6 750C958 752.7 963.1 756.5 967.6 760C972.2 763.5 976.6 767.2 981.1 771C985.8 774.9 990.8 779.2 995.1 783C999.1 786.5 1003.4 789.8 1006.1 793C1008.2 795.4 1009.7 797.5 1010.6 800C1011.6 802.5 1011.2 803.5 1011.6 808C1014.1 830.7 1023.7 946.1 1029.7 1015.2A116 39.4 0 0 1 797.6 1015.2Z" fill="#ffe000"/><path d="M757.6 1012L797.9 1012A115.7 38 0 0 0 1029.4 1012L1069.7 1012L1069.7 707.3L757.6 707.3Z" fill="#ffc800"/><path d="M757.6 1011L798 1011A115.6 37.8 0 0 0 1029.3 1011L1069.7 1011L1069.7 707.3L757.6 707.3Z" fill="#ffc200"/><path d="M757.6 1010L798.1 1010A115.5 37.5 0 0 0 1029.2 1010L1069.7 1010L1069.7 707.3L757.6 707.3Z" fill="#ffbc00"/><path d="M757.6 1009L798.2 1009A115.5 37.2 0 0 0 1029.1 1009L1069.7 1009L1069.7 707.3L757.6 707.3Z" fill="#ffb600"/><path d="M757.6 1008L798.3 1008A115.4 37 0 0 0 1029 1008L1069.7 1008L1069.7 707.3L757.6 707.3Z" fill="#ffb000"/><path d="M757.6 1006.8L798.4 1006.8A115.3 37 0 0 0 1028.9 1006.8L1069.7 1006.8L1069.7 707.3L757.6 707.3Z" fill="#ffaa00"/><path d="M757.6 1005.5L798.5 1005.5A115.2 37 0 0 0 1028.8 1005.5L1069.7 1005.5L1069.7 707.3L757.6 707.3Z" fill="#ffa400"/><path d="M757.6 1004.2L798.6 1004.2A115 37 0 0 0 1028.7 1004.2L1069.7 1004.2L1069.7 707.3L757.6 707.3Z" fill="#ff9e00"/><path d="M757.6 1003L798.7 1003A114.9 37 0 0 0 1028.6 1003L1069.7 1003L1069.7 707.3L757.6 707.3Z" fill="#ff9800"/><path d="M757.6 1001.8L798.8 1001.8A114.8 37 0 0 0 1028.5 1001.8L1069.7 1001.8L1069.7 707.3L757.6 707.3Z" fill="#ff9200"/><path d="M757.6 1000.5L798.9 1000.5A114.7 37 0 0 0 1028.4 1000.5L1069.7 1000.5L1069.7 707.3L757.6 707.3Z" fill="#ff8c00"/><path d="M757.6 999.2L799 999.2A114.6 37 0 0 0 1028.3 999.2L1069.7 999.2L1069.7 707.3L757.6 707.3Z" fill="#ff8600"/><path d="M757.6 998L799.1 998A114.5 37 0 0 0 1028.2 998L1069.7 998L1069.7 707.3L757.6 707.3Z" fill="#ff8000"/><path d="M757.6 997.2L799.2 997.2A114.4 36.5 0 0 0 1028.1 997.2L1069.7 997.2L1069.7 707.3L757.6 707.3Z" fill="#ff7800"/><path d="M757.6 996.5L799.3 996.5A114.4 36 0 0 0 1028 996.5L1069.7 996.5L1069.7 707.3L757.6 707.3Z" fill="#ff7000"/><path d="M757.6 995.8L799.3 995.8A114.3 35.5 0 0 0 1028 995.8L1069.7 995.8L1069.7 707.3L757.6 707.3Z" fill="#ff6800"/><path d="M757.6 995L799.4 995A114.2 35 0 0 0 1027.9 995L1069.7 995L1069.7 707.3L757.6 707.3Z" fill="#ff6000"/><path d="M757.6 994L799.5 994A114.2 34.7 0 0 0 1027.8 994L1069.7 994L1069.7 707.3L757.6 707.3Z" fill="#ff5500"/><path d="M757.6 993L799.6 993A114.1 34.3 0 0 0 1027.7 993L1069.7 993L1069.7 707.3L757.6 707.3Z" fill="#ff4b00"/><path d="M757.6 992L799.7 992A114 34 0 0 0 1027.6 992L1069.7 992L1069.7 707.3L757.6 707.3Z" fill="#ff4000"/><path d="M757.6 991.3L799.7 991.3A113.9 33.3 0 0 0 1027.6 991.3L1069.7 991.3L1069.7 707.3L757.6 707.3Z" fill="#ff3300"/><path d="M757.6 990.7L799.8 990.7A113.9 32.7 0 0 0 1027.5 990.7L1069.7 990.7L1069.7 707.3L757.6 707.3Z" fill="#ff2500"/><path d="M757.6 990L799.8 990A113.8 32 0 0 0 1027.5 990L1069.7 990L1069.7 707.3L757.6 707.3Z" fill="#ff1800"/><path d="M757.6 989L799.9 989A113.7 31.7 0 0 0 1027.4 989L1069.7 989L1069.7 707.3L757.6 707.3Z" fill="#f71000"/><path d="M757.6 988L800 988A113.6 31.3 0 0 0 1027.3 988L1069.7 988L1069.7 707.3L757.6 707.3Z" fill="#f00800"/><path d="M757.6 987L800.1 987A113.6 31 0 0 0 1027.2 987L1069.7 987L1069.7 707.3L757.6 707.3Z" fill="#e80000"/><path d="M757.6 986L800.2 986A113.5 30.5 0 0 0 1027.1 986L1069.7 986L1069.7 707.3L757.6 707.3Z" fill="#d80000"/><path d="M757.6 985L800.3 985A113.4 30 0 0 0 1027 985L1069.7 985L1069.7 707.3L757.6 707.3Z" fill="#c80000"/><path d="M757.6 984L800.4 984A113.3 29.5 0 0 0 1026.9 984L1069.7 984L1069.7 707.3L757.6 707.3Z" fill="#b80000"/><path d="M757.6 983L800.4 983A113.2 29 0 0 0 1026.9 983L1069.7 983L1069.7 707.3L757.6 707.3Z" fill="#a80000"/><path d="M757.6 982L800.5 982A113.1 28.5 0 0 0 1026.8 982L1069.7 982L1069.7 707.3L757.6 707.3Z" fill="#9c0000"/><path d="M757.6 981L800.6 981A113 28 0 0 0 1026.7 981L1069.7 981L1069.7 707.3L757.6 707.3Z" fill="#900000"/><path d="M757.6 980L800.7 980A112.9 27.5 0 0 0 1026.6 980L1069.7 980L1069.7 707.3L757.6 707.3Z" fill="#880000"/><path d="M757.6 979L800.8 979A112.9 27 0 0 0 1026.5 979L1069.7 979L1069.7 707.3L757.6 707.3Z" fill="#800000"/><path d="M757.6 836L813.2 836A100.4 26.5 0 0 0 1014.1 836L1069.7 836L1069.7 707.3L757.6 707.3Z" fill="#800000"/><path d="M757.6 835L813.3 835A100.3 26 0 0 0 1014 835L1069.7 835L1069.7 707.3L757.6 707.3Z" fill="#a00000"/><path d="M757.6 834L813.4 834A100.3 25 0 0 0 1013.9 834L1069.7 834L1069.7 707.3L757.6 707.3Z" fill="#e00000"/><path d="M757.6 832L813.6 832A100.1 25 0 0 0 1013.7 832L1069.7 832L1069.7 707.3L757.6 707.3Z" fill="#ff3000"/><path d="M757.6 830L813.7 830A99.9 25 0 0 0 1013.6 830L1069.7 830L1069.7 707.3L757.6 707.3Z" fill="#ff7000"/><path d="M757.6 828L813.9 828A99.7 25 0 0 0 1013.4 828L1069.7 828L1069.7 707.3L757.6 707.3Z" fill="#ffb000"/><path d="M757.6 826L814.1 826A99.6 25 0 0 0 1013.2 826L1069.7 826L1069.7 707.3L757.6 707.3Z" fill="#ffe800"/><path d="M757.6 824L814.3 824A99.4 25 0 0 0 1013 824L1069.7 824L1069.7 707.3L757.6 707.3Z" fill="#d0ff30"/><path d="M757.6 822L814.4 822A99.2 25 0 0 0 1012.9 822L1069.7 822L1069.7 707.3L757.6 707.3Z" fill="#90ff70"/><path d="M757.6 820L814.6 820A99 25 0 0 0 1012.7 820L1069.7 820L1069.7 707.3L757.6 707.3Z" fill="#60ffa0"/><path d="M757.6 819L814.7 819A99 24.5 0 0 0 1012.6 819L1069.7 819L1069.7 707.3L757.6 707.3Z" fill="#50ffb0"/><path d="M757.6 818L814.8 818A98.9 24 0 0 0 1012.5 818L1069.7 818L1069.7 707.3L757.6 707.3Z" fill="#40ffc0"/><path d="M757.6 816.7L814.9 816.7A98.8 24.1 0 0 0 1012.4 816.7L1069.7 816.7L1069.7 707.3L757.6 707.3Z" fill="#41ffbf"/><path d="M757.6 815.3L815 815.3A98.6 24.2 0 0 0 1012.3 815.3L1069.7 815.3L1069.7 707.3L757.6 707.3Z" fill="#42ffbe"/><path d="M757.6 814L815.1 814A98.5 24.3 0 0 0 1012.2 814L1069.7 814L1069.7 707.3L757.6 707.3Z" fill="#43ffbd"/><path d="M757.6 812.7L815.2 812.7A98.4 24.4 0 0 0 1012.1 812.7L1069.7 812.7L1069.7 707.3L757.6 707.3Z" fill="#44ffbc"/><path d="M757.6 811.3L815.4 811.3A98.3 24.6 0 0 0 1011.9 811.3L1069.7 811.3L1069.7 707.3L757.6 707.3Z" fill="#44ffbc"/><path d="M757.6 810L815.5 810A98.2 24.7 0 0 0 1011.8 810L1069.7 810L1069.7 707.3L757.6 707.3Z" fill="#45ffbb"/><path d="M757.6 808.7L815.6 808.7A98.1 24.8 0 0 0 1011.7 808.7L1069.7 808.7L1069.7 707.3L757.6 707.3Z" fill="#46ffba"/><path d="M757.6 807.3L815.7 807.3A97.9 24.9 0 0 0 1011.6 807.3L1069.7 807.3L1069.7 707.3L757.6 707.3Z" fill="#47ffb9"/><path d="M757.6 806L815.9 806A97.8 25 0 0 0 1011.4 806L1069.7 806L1069.7 707.3L757.6 707.3Z" fill="#48ffb8"/><path d="M757.6 804L816.1 804A97.5 25.5 0 0 0 1011.1 804L1069.7 804L1069.7 707.3L757.6 707.3Z" fill="#5cffa4"/><path d="M757.6 802L816.4 802A97.2 26 0 0 0 1010.9 802L1069.7 802L1069.7 707.3L757.6 707.3Z" fill="#70ff90"/><path d="M757.6 800.7L816.6 800.7A97.1 26 0 0 0 1010.7 800.7L1069.7 800.7L1069.7 707.3L757.6 707.3Z" fill="#80ff80"/><path d="M757.6 799.3L817.1 799.3A96.6 26 0 0 0 1010.2 799.3L1069.7 799.3L1069.7 707.3L757.6 707.3Z" fill="#90ff70"/><path d="M757.6 798L817.9 798A95.7 26 0 0 0 1009.4 798L1069.7 798L1069.7 707.3L757.6 707.3Z" fill="#a0ff60"/><path d="M757.6 796.5L818.9 796.5A94.7 26 0 0 0 1008.4 796.5L1069.7 796.5L1069.7 707.3L757.6 707.3Z" fill="#b8ff48"/><path d="M757.6 795L819.9 795A93.8 26 0 0 0 1007.4 795L1069.7 795L1069.7 707.3L757.6 707.3Z" fill="#d0ff30"/><path d="M757.6 794L820.5 794A93.1 25.5 0 0 0 1006.8 794L1069.7 794L1069.7 707.3L757.6 707.3Z" fill="#e8ff18"/><path d="M757.6 793L821.2 793A92.5 25 0 0 0 1006.1 793L1069.7 793L1069.7 707.3L757.6 707.3Z" fill="#ffff00"/><path d="M757.6 792L822.2 792A91.4 24.5 0 0 0 1005 792L1069.7 792L1069.7 707.3L757.6 707.3Z" fill="#fff000"/><path d="M757.6 791L823.4 791A90.3 24 0 0 0 1003.9 791L1069.7 791L1069.7 707.3L757.6 707.3Z" fill="#ffe000"/><path d="M757.6 790L824.5 790A89.2 23.5 0 0 0 1002.8 790L1069.7 790L1069.7 707.3L757.6 707.3Z" fill="#ffd400"/><path d="M757.6 789L825.6 789A88.1 23 0 0 0 1001.7 789L1069.7 789L1069.7 707.3L757.6 707.3Z" fill="#ffc800"/><path d="M757.6 788.2L826.4 788.2A87.3 22.5 0 0 0 1000.9 788.2L1069.7 788.2L1069.7 707.3L757.6 707.3Z" fill="#ffc500"/><path d="M757.6 787.5L827.2 787.5A86.4 22 0 0 0 1000.1 787.5L1069.7 787.5L1069.7 707.3L757.6 707.3Z" fill="#ffc200"/><path d="M757.6 786.8L828 786.8A85.6 21.5 0 0 0 999.3 786.8L1069.7 786.8L1069.7 707.3L757.6 707.3Z" fill="#ffbf00"/><path d="M757.6 786L828.9 786A84.8 21 0 0 0 998.4 786L1069.7 786L1069.7 707.3L757.6 707.3Z" fill="#ffbc00"/><path d="M757.6 785L830 785A83.7 20.8 0 0 0 997.3 785L1069.7 785L1069.7 707.3L757.6 707.3Z" fill="#ffba00"/><path d="M757.6 784L831.1 784A82.6 20.5 0 0 0 996.2 784L1069.7 784L1069.7 707.3L757.6 707.3Z" fill="#ffb900"/><path d="M757.6 783L832.2 783A81.5 20.2 0 0 0 995.1 783L1069.7 783L1069.7 707.3L757.6 707.3Z" fill="#ffb800"/><path d="M757.6 782L833.3 782A80.3 20 0 0 0 994 782L1069.7 782L1069.7 707.3L757.6 707.3Z" fill="#ffb600"/><path d="M757.6 781L834.5 781A79.2 19.8 0 0 0 992.8 781L1069.7 781L1069.7 707.3L757.6 707.3Z" fill="#ffb400"/><path d="M757.6 780L835.7 780A78 19.5 0 0 0 991.6 780L1069.7 780L1069.7 707.3L757.6 707.3Z" fill="#ffb300"/><path d="M757.6 779L836.8 779A76.8 19.2 0 0 0 990.5 779L1069.7 779L1069.7 707.3L757.6 707.3Z" fill="#ffb200"/><path d="M757.6 778L838 778A75.7 19 0 0 0 989.3 778L1069.7 778L1069.7 707.3L757.6 707.3Z" fill="#ffb000"/><path d="M757.6 777.1L839 777.1A74.6 18.6 0 0 0 988.3 777.1L1069.7 777.1L1069.7 707.3L757.6 707.3Z" fill="#ffae00"/><path d="M757.6 776.2L840 776.2A73.6 18.2 0 0 0 987.3 776.2L1069.7 776.2L1069.7 707.3L757.6 707.3Z" fill="#ffac00"/><path d="M757.6 775.4L841 775.4A72.6 17.9 0 0 0 986.3 775.4L1069.7 775.4L1069.7 707.3L757.6 707.3Z" fill="#ffaa00"/><path d="M757.6 774.5L842.1 774.5A71.6 17.5 0 0 0 985.2 774.5L1069.7 774.5L1069.7 707.3L757.6 707.3Z" fill="#ffa800"/><path d="M757.6 773.6L843.1 773.6A70.6 17.1 0 0 0 984.2 773.6L1069.7 773.6L1069.7 707.3L757.6 707.3Z" fill="#ffa600"/><path d="M757.6 772.8L844.1 772.8A69.5 16.8 0 0 0 983.2 772.8L1069.7 772.8L1069.7 707.3L757.6 707.3Z" fill="#ffa400"/><path d="M757.6 771.9L845.1 771.9A68.5 16.4 0 0 0 982.2 771.9L1069.7 771.9L1069.7 707.3L757.6 707.3Z" fill="#ffa200"/><path d="M757.6 771L846.2 771A67.5 16 0 0 0 981.1 771L1069.7 771L1069.7 707.3L757.6 707.3Z" fill="#ffa000"/><path d="M757.6 770L847.4 770A66.3 15.6 0 0 0 979.9 770L1069.7 770L1069.7 707.3L757.6 707.3Z" fill="#ff9d00"/><path d="M757.6 769L848.6 769A65 15.2 0 0 0 978.7 769L1069.7 769L1069.7 707.3L757.6 707.3Z" fill="#ff9a00"/><path d="M757.6 768L849.8 768A63.8 14.8 0 0 0 977.5 768L1069.7 768L1069.7 707.3L757.6 707.3Z" fill="#ff9600"/><path d="M757.6 767L851.1 767A62.6 14.4 0 0 0 976.2 767L1069.7 767L1069.7 707.3L757.6 707.3Z" fill="#ff9300"/><path d="M757.6 766L852.3 766A61.4 14 0 0 0 975 766L1069.7 766L1069.7 707.3L757.6 707.3Z" fill="#ff9000"/><path d="M757.6 765.2L853.3 765.2A60.4 13.6 0 0 0 974 765.2L1069.7 765.2L1069.7 707.3L757.6 707.3Z" fill="#ff8a00"/><path d="M757.6 764.4L854.3 764.4A59.4 13.2 0 0 0 973 764.4L1069.7 764.4L1069.7 707.3L757.6 707.3Z" fill="#ff8300"/><path d="M757.6 763.6L855.2 763.6A58.4 12.8 0 0 0 972.1 763.6L1069.7 763.6L1069.7 707.3L757.6 707.3Z" fill="#ff7d00"/><path d="M757.6 762.8L856.2 762.8A57.4 12.4 0 0 0 971.1 762.8L1069.7 762.8L1069.7 707.3L757.6 707.3Z" fill="#ff7600"/><path d="M757.6 762L857.2 762A56.5 12 0 0 0 970.1 762L1069.7 762L1069.7 707.3L757.6 707.3Z" fill="#ff7000"/><ellipse cx="912" cy="757.5" rx="42" ry="12.5" fill="#901000"/><ellipse cx="912" cy="756.5" rx="38" ry="11" fill="#200000"/><ellipse cx="878" cy="752" rx="6" ry="4" fill="#000"/><ellipse cx="886" cy="760" rx="8" ry="4" fill="#000"/><ellipse cx="903" cy="764" rx="10" ry="3.5" fill="#000"/><ellipse cx="922" cy="764" rx="8" ry="3.5" fill="#000"/><ellipse cx="938" cy="760" rx="6" ry="3.5" fill="#000"/><ellipse cx="947" cy="752" rx="4" ry="3" fill="#000"/><ellipse cx="950" cy="747" rx="3" ry="3" fill="#000"/><ellipse cx="911.6" cy="749" rx="29.7" ry="11.3" fill="url(#cyc2)"/><path d="M797.6 1015.2C803.6 946.1 813.2 830.7 815.6 808C816.1 803.5 815.7 802.5 816.6 800C817.6 797.5 819.1 795.4 821.1 793C823.9 789.8 828.2 786.5 832.1 783C836.5 779.2 841.5 774.9 846.1 771C850.7 767.2 855.1 763.5 859.6 760C864.2 756.5 869.3 752.7 873.6 750C877.2 747.8 880.5 746.2 883.6 744.5C886.5 742.9 888.2 741.1 891.6 740C897 738.2 906.3 737.3 913.6 737.3C921 737.3 930.3 738.2 935.6 740C939.1 741.1 940.8 742.9 943.6 744.5C946.8 746.2 950.1 747.8 953.6 750C958 752.7 963.1 756.5 967.6 760C972.2 763.5 976.6 767.2 981.1 771C985.8 774.9 990.8 779.2 995.1 783C999.1 786.5 1003.4 789.8 1006.1 793C1008.2 795.4 1009.7 797.5 1010.6 800C1011.6 802.5 1011.2 803.5 1011.6 808C1014.1 830.7 1023.7 946.1 1029.7 1015.2A116 39.4 0 0 1 797.6 1015.2Z" fill="url(#shc2)"/><ellipse cx="897" cy="808" rx="14" ry="28" fill="url(#hlc2_0)"/><ellipse cx="896" cy="826" rx="17" ry="12" fill="url(#hlc2_1)"/></g><path d="M700.4 1015.2L700.4 662M700.4 1015.2L913.6 1088.2M913.6 1088.2L1126.4 1015.2M700.4 1015.2L691.6 1012.2M700.4 926.9L691.6 923.9M700.4 838.6L691.6 835.6M700.4 750.3L691.6 747.3M700.4 662L691.6 659M700.4 1015.2L691.6 1018.2M753.7 1033.5L744.9 1036.5M807 1051.7L798.2 1054.7M860.3 1070L851.5 1073M913.6 1088.2L904.8 1091.2M913.6 1088.2L922.4 1091.2M966.8 1070L975.6 1073M1020 1051.7L1028.8 1054.7M1073.2 1033.5L1082 1036.5M1126.4 1015.2L1135.2 1018.2" stroke="#2e2e2e" stroke-width="1.1" fill="none"/><text x="684.9" y="1019.4" font-size="22" text-anchor="end" fill="#262626">0</text><text x="684.9" y="931.1" font-size="22" text-anchor="end" fill="#262626">50</text><text x="684.9" y="842.8" font-size="22" text-anchor="end" fill="#262626">100</text><text x="684.9" y="754.5" font-size="22" text-anchor="end" fill="#262626">150</text><text x="684.9" y="666.2" font-size="22" text-anchor="end" fill="#262626">200</text><text x="684.9" y="1042.8" font-size="22" text-anchor="end" fill="#262626">-80</text><text x="738.2" y="1061" font-size="22" text-anchor="end" fill="#262626">-40</text><text x="791.5" y="1079.3" font-size="22" text-anchor="end" fill="#262626">0</text><text x="844.8" y="1097.5" font-size="22" text-anchor="end" fill="#262626">40</text><text x="898.1" y="1115.8" font-size="22" text-anchor="end" fill="#262626">80</text><text x="929.1" y="1115.7" font-size="22" fill="#262626">-80</text><text x="982.3" y="1097.4" font-size="22" fill="#262626">-40</text><text x="1035.5" y="1079.2" font-size="22" fill="#262626">0</text><text x="1088.7" y="1060.9" font-size="22" fill="#262626">40</text><text x="1141.9" y="1042.7" font-size="22" fill="#262626">80</text><text x="756.9" y="1129.4" font-size="23.2" text-anchor="middle" fill="#262626" textLength="71" lengthAdjust="spacingAndGlyphs">X (nm)</text><text x="1069.1" y="1129.4" font-size="23.2" text-anchor="middle" fill="#262626" textLength="71" lengthAdjust="spacingAndGlyphs">Y (nm)</text><text transform="translate(638.9 837.8) rotate(-90)" font-size="23.2" text-anchor="middle" fill="#262626" textLength="71" lengthAdjust="spacingAndGlyphs">Z (nm)</text><path d="M1320.6 1015.2L1533.4 942.2M1373.9 1033.5L1586.7 960.5M1427.2 1051.7L1640 978.7M1480.5 1070L1693.3 997M1373.8 997L1587 1070M1427 978.7L1640.2 1051.7M1480.2 960.5L1693.4 1033.5M1533.4 942.2L1746.6 1015.2M1373.8 997L1373.8 643.8M1427 978.7L1427 625.5M1480.2 960.5L1480.2 607.2M1533.4 942.2L1533.4 589M1320.6 1015.2L1533.4 942.2M1320.6 926.9L1533.4 853.9M1320.6 838.6L1533.4 765.6M1320.6 750.3L1533.4 677.3M1320.6 662L1533.4 589M1533.4 942.2L1533.4 589M1586.7 960.5L1586.7 607.2M1640 978.7L1640 625.5M1693.3 997L1693.3 643.8M1746.6 1015.2L1746.6 662M1533.4 942.2L1746.6 1015.2M1533.4 853.9L1746.6 926.9M1533.4 765.6L1746.6 838.6M1533.4 677.3L1746.6 750.3M1533.4 589L1746.6 662" stroke="#e3e3e3" stroke-width="1" fill="none"/><g mask="url(#clc3)"><path d="M1417.8 1015.2C1424.4 944.9 1433.6 822.9 1437.8 804.2C1438.4 801.2 1438.6 800.9 1439.5 799.2C1440.8 797 1443 794.9 1445.3 792.2C1448.7 788.3 1453.6 782.5 1457.8 778.4C1461.7 774.7 1465.4 771.6 1469.5 768.5C1473.5 765.4 1477.9 762.5 1482.2 759.8C1486.3 757.1 1490.7 754.7 1494.7 752.3C1498.2 750.1 1501.5 748.1 1504.8 746.1C1508.1 744.2 1510.5 741.8 1514.5 740.5C1519.6 738.8 1527.3 738.6 1533.8 738.6C1540.2 738.6 1547.9 738.8 1553 740.5C1557 741.8 1559.4 744.2 1562.7 746.1C1566 748.1 1569.3 750.1 1572.8 752.3C1576.8 754.7 1581.2 757.1 1585.3 759.8C1589.6 762.5 1594 765.4 1598 768.5C1602.1 771.6 1605.8 774.7 1609.7 778.4C1613.9 782.5 1618.8 788.3 1622.2 792.2C1624.5 794.9 1626.7 797 1628 799.2C1628.9 800.9 1629.1 801.2 1629.8 804.2C1633.9 822.9 1643.1 944.9 1649.8 1015.2A116 39.4 0 0 1 1417.8 1015.2Z" fill="#000000"/><path d="M1377.8 952L1423.7 952A110 6 0 0 0 1643.8 952L1689.8 952L1689.8 708.6L1377.8 708.6Z" fill="#000000"/><path d="M1377.8 950.8L1423.9 950.8A109.9 6 0 0 0 1643.6 950.8L1689.8 950.8L1689.8 708.6L1377.8 708.6Z" fill="#010000"/><path d="M1377.8 949.6L1424 949.6A109.8 6 0 0 0 1643.5 949.6L1689.8 949.6L1689.8 708.6L1377.8 708.6Z" fill="#010100"/><path d="M1377.8 948.3L1424.1 948.3A109.7 6 0 0 0 1643.4 948.3L1689.8 948.3L1689.8 708.6L1377.8 708.6Z" fill="#020101"/><path d="M1377.8 947.1L1424.2 947.1A109.5 6 0 0 0 1643.3 947.1L1689.8 947.1L1689.8 708.6L1377.8 708.6Z" fill="#020101"/><path d="M1377.8 945.9L1424.3 945.9A109.4 6 0 0 0 1643.2 945.9L1689.8 945.9L1689.8 708.6L1377.8 708.6Z" fill="#030201"/><path d="M1377.8 944.7L1424.4 944.7A109.3 6 0 0 0 1643.1 944.7L1689.8 944.7L1689.8 708.6L1377.8 708.6Z" fill="#030201"/><path d="M1377.8 943.4L1424.6 943.4A109.2 6 0 0 0 1642.9 943.4L1689.8 943.4L1689.8 708.6L1377.8 708.6Z" fill="#040202"/><path d="M1377.8 942.2L1424.7 942.2A109.1 6 0 0 0 1642.8 942.2L1689.8 942.2L1689.8 708.6L1377.8 708.6Z" fill="#040302"/><path d="M1377.8 941L1424.8 941A109 6 0 0 0 1642.7 941L1689.8 941L1689.8 708.6L1377.8 708.6Z" fill="#050302"/><path d="M1377.8 939.8L1424.9 939.8A108.9 6 0 0 0 1642.6 939.8L1689.8 939.8L1689.8 708.6L1377.8 708.6Z" fill="#060302"/><path d="M1377.8 938.6L1425 938.6A108.7 6 0 0 0 1642.5 938.6L1689.8 938.6L1689.8 708.6L1377.8 708.6Z" fill="#070403"/><path d="M1377.8 937.4L1425.1 937.4A108.6 6 0 0 0 1642.4 937.4L1689.8 937.4L1689.8 708.6L1377.8 708.6Z" fill="#080403"/><path d="M1377.8 936.2L1425.2 936.2A108.5 6 0 0 0 1642.3 936.2L1689.8 936.2L1689.8 708.6L1377.8 708.6Z" fill="#090503"/><path d="M1377.8 935L1425.4 935A108.4 6 0 0 0 1642.1 935L1689.8 935L1689.8 708.6L1377.8 708.6Z" fill="#0a0503"/><path d="M1377.8 933.8L1425.5 933.8A108.3 6 0 0 0 1642 933.8L1689.8 933.8L1689.8 708.6L1377.8 708.6Z" fill="#0b0604"/><path d="M1377.8 932.6L1425.6 932.6A108.2 6 0 0 0 1641.9 932.6L1689.8 932.6L1689.8 708.6L1377.8 708.6Z" fill="#0c0604"/><path d="M1377.8 931.4L1425.7 931.4A108.1 6 0 0 0 1641.8 931.4L1689.8 931.4L1689.8 708.6L1377.8 708.6Z" fill="#0d0704"/><path d="M1377.8 930.2L1425.8 930.2A107.9 6 0 0 0 1641.7 930.2L1689.8 930.2L1689.8 708.6L1377.8 708.6Z" fill="#0e0704"/><path d="M1377.8 929L1425.9 929A107.8 6 0 0 0 1641.6 929L1689.8 929L1689.8 708.6L1377.8 708.6Z" fill="#0f0805"/><path d="M1377.8 927.8L1426 927.8A107.7 6 0 0 0 1641.5 927.8L1689.8 927.8L1689.8 708.6L1377.8 708.6Z" fill="#100805"/><path d="M1377.8 926.6L1426.1 926.6A107.6 6 0 0 0 1641.4 926.6L1689.8 926.6L1689.8 708.6L1377.8 708.6Z" fill="#110905"/><path d="M1377.8 925.4L1426.3 925.4A107.5 6 0 0 0 1641.2 925.4L1689.8 925.4L1689.8 708.6L1377.8 708.6Z" fill="#120905"/><path d="M1377.8 924.2L1426.4 924.2A107.4 6 0 0 0 1641.1 924.2L1689.8 924.2L1689.8 708.6L1377.8 708.6Z" fill="#130a06"/><path d="M1377.8 923L1426.5 923A107.3 6 0 0 0 1641 923L1689.8 923L1689.8 708.6L1377.8 708.6Z" fill="#140a06"/><path d="M1377.8 921.7L1426.6 921.7A107.1 6 0 0 0 1640.9 921.7L1689.8 921.7L1689.8 708.6L1377.8 708.6Z" fill="#150b06"/><path d="M1377.8 920.4L1426.7 920.4A107 6.1 0 0 0 1640.8 920.4L1689.8 920.4L1689.8 708.6L1377.8 708.6Z" fill="#160b07"/><path d="M1377.8 919.1L1426.9 919.1A106.9 6.1 0 0 0 1640.6 919.1L1689.8 919.1L1689.8 708.6L1377.8 708.6Z" fill="#170c07"/><path d="M1377.8 917.8L1427 917.8A106.8 6.2 0 0 0 1640.5 917.8L1689.8 917.8L1689.8 708.6L1377.8 708.6Z" fill="#180c08"/><path d="M1377.8 916.5L1427.1 916.5A106.6 6.2 0 0 0 1640.4 916.5L1689.8 916.5L1689.8 708.6L1377.8 708.6Z" fill="#190d08"/><path d="M1377.8 915.2L1427.2 915.2A106.5 6.3 0 0 0 1640.3 915.2L1689.8 915.2L1689.8 708.6L1377.8 708.6Z" fill="#1a0e08"/><path d="M1377.8 913.9L1427.4 913.9A106.4 6.4 0 0 0 1640.1 913.9L1689.8 913.9L1689.8 708.6L1377.8 708.6Z" fill="#1b0e09"/><path d="M1377.8 912.6L1427.5 912.6A106.3 6.4 0 0 0 1640 912.6L1689.8 912.6L1689.8 708.6L1377.8 708.6Z" fill="#1c0f09"/><path d="M1377.8 911.3L1427.6 911.3A106.2 6.5 0 0 0 1639.9 911.3L1689.8 911.3L1689.8 708.6L1377.8 708.6Z" fill="#1d0f0a"/><path d="M1377.8 910L1427.7 910A106 6.5 0 0 0 1639.8 910L1689.8 910L1689.8 708.6L1377.8 708.6Z" fill="#1e100a"/><path d="M1377.8 908.7L1427.8 908.7A105.9 6.5 0 0 0 1639.7 908.7L1689.8 908.7L1689.8 708.6L1377.8 708.6Z" fill="#1f110b"/><path d="M1377.8 907.5L1428 907.5A105.8 6.5 0 0 0 1639.5 907.5L1689.8 907.5L1689.8 708.6L1377.8 708.6Z" fill="#21110b"/><path d="M1377.8 906.2L1428.1 906.2A105.7 6.5 0 0 0 1639.4 906.2L1689.8 906.2L1689.8 708.6L1377.8 708.6Z" fill="#22120c"/><path d="M1377.8 904.9L1428.2 904.9A105.5 6.5 0 0 0 1639.3 904.9L1689.8 904.9L1689.8 708.6L1377.8 708.6Z" fill="#23130c"/><path d="M1377.8 903.6L1428.3 903.6A105.4 6.5 0 0 0 1639.2 903.6L1689.8 903.6L1689.8 708.6L1377.8 708.6Z" fill="#24140d"/><path d="M1377.8 902.4L1428.4 902.4A105.3 6.5 0 0 0 1639.1 902.4L1689.8 902.4L1689.8 708.6L1377.8 708.6Z" fill="#26140d"/><path d="M1377.8 901.1L1428.6 901.1A105.2 6.5 0 0 0 1638.9 901.1L1689.8 901.1L1689.8 708.6L1377.8 708.6Z" fill="#27150e"/><path d="M1377.8 899.8L1428.7 899.8A105.1 6.5 0 0 0 1638.8 899.8L1689.8 899.8L1689.8 708.6L1377.8 708.6Z" fill="#28160e"/><path d="M1377.8 898.5L1428.8 898.5A104.9 6.5 0 0 0 1638.7 898.5L1689.8 898.5L1689.8 708.6L1377.8 708.6Z" fill="#29170f"/><path d="M1377.8 897.3L1428.9 897.3A104.8 6.5 0 0 0 1638.6 897.3L1689.8 897.3L1689.8 708.6L1377.8 708.6Z" fill="#2b170f"/><path d="M1377.8 896L1429 896A104.7 6.5 0 0 0 1638.5 896L1689.8 896L1689.8 708.6L1377.8 708.6Z" fill="#2c1810"/><path d="M1377.8 894.6L1429.2 894.6A104.6 6.6 0 0 0 1638.3 894.6L1689.8 894.6L1689.8 708.6L1377.8 708.6Z" fill="#2e1910"/><path d="M1377.8 893.2L1429.3 893.2A104.4 6.6 0 0 0 1638.2 893.2L1689.8 893.2L1689.8 708.6L1377.8 708.6Z" fill="#301a11"/><path d="M1377.8 891.9L1429.4 891.9A104.3 6.7 0 0 0 1638.1 891.9L1689.8 891.9L1689.8 708.6L1377.8 708.6Z" fill="#311b12"/><path d="M1377.8 890.5L1429.6 890.5A104.2 6.8 0 0 0 1637.9 890.5L1689.8 890.5L1689.8 708.6L1377.8 708.6Z" fill="#331c12"/><path d="M1377.8 889.1L1429.7 889.1A104 6.8 0 0 0 1637.8 889.1L1689.8 889.1L1689.8 708.6L1377.8 708.6Z" fill="#351d12"/><path d="M1377.8 887.8L1429.8 887.8A103.9 6.9 0 0 0 1637.7 887.8L1689.8 887.8L1689.8 708.6L1377.8 708.6Z" fill="#361e13"/><path d="M1377.8 886.4L1430 886.4A103.8 6.9 0 0 0 1637.5 886.4L1689.8 886.4L1689.8 708.6L1377.8 708.6Z" fill="#381f14"/><path d="M1377.8 885L1430.1 885A103.7 7 0 0 0 1637.4 885L1689.8 885L1689.8 708.6L1377.8 708.6Z" fill="#3a2014"/><path d="M1377.8 883.6L1430.2 883.6A103.5 7.1 0 0 0 1637.3 883.6L1689.8 883.6L1689.8 708.6L1377.8 708.6Z" fill="#3c2115"/><path d="M1377.8 882.2L1430.4 882.2A103.4 7.1 0 0 0 1637.1 882.2L1689.8 882.2L1689.8 708.6L1377.8 708.6Z" fill="#3e2216"/><path d="M1377.8 880.9L1430.5 880.9A103.3 7.2 0 0 0 1637 880.9L1689.8 880.9L1689.8 708.6L1377.8 708.6Z" fill="#402416"/><path d="M1377.8 879.5L1430.6 879.5A103.1 7.2 0 0 0 1636.9 879.5L1689.8 879.5L1689.8 708.6L1377.8 708.6Z" fill="#422517"/><path d="M1377.8 878.1L1430.7 878.1A103 7.3 0 0 0 1636.8 878.1L1689.8 878.1L1689.8 708.6L1377.8 708.6Z" fill="#442618"/><path d="M1377.8 876.8L1430.9 876.8A102.9 7.4 0 0 0 1636.6 876.8L1689.8 876.8L1689.8 708.6L1377.8 708.6Z" fill="#462818"/><path d="M1377.8 875.4L1431 875.4A102.7 7.4 0 0 0 1636.5 875.4L1689.8 875.4L1689.8 708.6L1377.8 708.6Z" fill="#482919"/><path d="M1377.8 874L1431.1 874A102.6 7.5 0 0 0 1636.4 874L1689.8 874L1689.8 708.6L1377.8 708.6Z" fill="#4a2a1a"/><path d="M1377.8 872.6L1431.3 872.6A102.5 7.6 0 0 0 1636.2 872.6L1689.8 872.6L1689.8 708.6L1377.8 708.6Z" fill="#4c2b1b"/><path d="M1377.8 871.2L1431.4 871.2A102.4 7.6 0 0 0 1636.1 871.2L1689.8 871.2L1689.8 708.6L1377.8 708.6Z" fill="#4e2c1c"/><path d="M1377.8 869.9L1431.5 869.9A102.2 7.7 0 0 0 1636 869.9L1689.8 869.9L1689.8 708.6L1377.8 708.6Z" fill="#502e1c"/><path d="M1377.8 868.5L1431.7 868.5A102.1 7.8 0 0 0 1635.8 868.5L1689.8 868.5L1689.8 708.6L1377.8 708.6Z" fill="#522f1d"/><path d="M1377.8 867.1L1431.8 867.1A102 7.8 0 0 0 1635.7 867.1L1689.8 867.1L1689.8 708.6L1377.8 708.6Z" fill="#54301e"/><path d="M1377.8 865.8L1431.9 865.8A101.8 7.9 0 0 0 1635.6 865.8L1689.8 865.8L1689.8 708.6L1377.8 708.6Z" fill="#56321e"/><path d="M1377.8 864.4L1432 864.4A101.7 7.9 0 0 0 1635.5 864.4L1689.8 864.4L1689.8 708.6L1377.8 708.6Z" fill="#58331f"/><path d="M1377.8 863L1432.2 863A101.6 8 0 0 0 1635.3 863L1689.8 863L1689.8 708.6L1377.8 708.6Z" fill="#5a3420"/><path d="M1377.8 861.6L1432.3 861.6A101.4 8.1 0 0 0 1635.2 861.6L1689.8 861.6L1689.8 708.6L1377.8 708.6Z" fill="#5d3621"/><path d="M1377.8 860.1L1432.4 860.1A101.3 8.3 0 0 0 1635.1 860.1L1689.8 860.1L1689.8 708.6L1377.8 708.6Z" fill="#603822"/><path d="M1377.8 858.7L1432.6 858.7A101.2 8.4 0 0 0 1634.9 858.7L1689.8 858.7L1689.8 708.6L1377.8 708.6Z" fill="#633a23"/><path d="M1377.8 857.3L1432.7 857.3A101 8.6 0 0 0 1634.8 857.3L1689.8 857.3L1689.8 708.6L1377.8 708.6Z" fill="#653c25"/><path d="M1377.8 855.9L1432.9 855.9A100.9 8.7 0 0 0 1634.6 855.9L1689.8 855.9L1689.8 708.6L1377.8 708.6Z" fill="#683e26"/><path d="M1377.8 854.4L1433 854.4A100.8 8.9 0 0 0 1634.5 854.4L1689.8 854.4L1689.8 708.6L1377.8 708.6Z" fill="#6b4027"/><path d="M1377.8 853L1433.1 853A100.6 9 0 0 0 1634.4 853L1689.8 853L1689.8 708.6L1377.8 708.6Z" fill="#6e4228"/><path d="M1377.8 851.6L1433.3 851.6A100.5 9.1 0 0 0 1634.2 851.6L1689.8 851.6L1689.8 708.6L1377.8 708.6Z" fill="#72442a"/><path d="M1377.8 850.1L1433.4 850.1A100.4 9.3 0 0 0 1634.1 850.1L1689.8 850.1L1689.8 708.6L1377.8 708.6Z" fill="#76472b"/><path d="M1377.8 848.7L1433.5 848.7A100.2 9.4 0 0 0 1634 848.7L1689.8 848.7L1689.8 708.6L1377.8 708.6Z" fill="#7a492d"/><path d="M1377.8 847.3L1433.7 847.3A100.1 9.6 0 0 0 1633.8 847.3L1689.8 847.3L1689.8 708.6L1377.8 708.6Z" fill="#7e4b2f"/><path d="M1377.8 845.9L1433.8 845.9A99.9 9.7 0 0 0 1633.7 845.9L1689.8 845.9L1689.8 708.6L1377.8 708.6Z" fill="#824d31"/><path d="M1377.8 844.4L1433.9 844.4A99.8 9.9 0 0 0 1633.6 844.4L1689.8 844.4L1689.8 708.6L1377.8 708.6Z" fill="#865032"/><path d="M1377.8 843L1434.1 843A99.7 10 0 0 0 1633.4 843L1689.8 843L1689.8 708.6L1377.8 708.6Z" fill="#8a5234"/><path d="M1377.8 841L1434.3 841A99.5 10.6 0 0 0 1633.2 841L1689.8 841L1689.8 708.6L1377.8 708.6Z" fill="#8c5334"/><path d="M1377.8 839L1434.5 839A99.3 11.2 0 0 0 1633 839L1689.8 839L1689.8 708.6L1377.8 708.6Z" fill="#8d5435"/><path d="M1377.8 837L1434.6 837A99.1 11.8 0 0 0 1632.9 837L1689.8 837L1689.8 708.6L1377.8 708.6Z" fill="#8f5435"/><path d="M1377.8 835L1434.8 835A98.9 12.4 0 0 0 1632.7 835L1689.8 835L1689.8 708.6L1377.8 708.6Z" fill="#905536"/><path d="M1377.8 833L1435 833A98.7 13 0 0 0 1632.5 833L1689.8 833L1689.8 708.6L1377.8 708.6Z" fill="#925636"/><path d="M1377.8 831.6L1435.2 831.6A98.6 13.2 0 0 0 1632.3 831.6L1689.8 831.6L1689.8 708.6L1377.8 708.6Z" fill="#965a39"/><path d="M1377.8 830.2L1435.3 830.2A98.5 13.4 0 0 0 1632.2 830.2L1689.8 830.2L1689.8 708.6L1377.8 708.6Z" fill="#9b5e3c"/><path d="M1377.8 828.8L1435.4 828.8A98.3 13.6 0 0 0 1632.1 828.8L1689.8 828.8L1689.8 708.6L1377.8 708.6Z" fill="#9f623e"/><path d="M1377.8 827.4L1435.6 827.4A98.2 13.8 0 0 0 1631.9 827.4L1689.8 827.4L1689.8 708.6L1377.8 708.6Z" fill="#a46641"/><path d="M1377.8 826L1435.7 826A98.1 14 0 0 0 1631.8 826L1689.8 826L1689.8 708.6L1377.8 708.6Z" fill="#a86a44"/><path d="M1377.8 824.4L1435.8 824.4A97.9 14.2 0 0 0 1631.7 824.4L1689.8 824.4L1689.8 708.6L1377.8 708.6Z" fill="#aa6b44"/><path d="M1377.8 822.8L1436 822.8A97.8 14.4 0 0 0 1631.5 822.8L1689.8 822.8L1689.8 708.6L1377.8 708.6Z" fill="#ab6c45"/><path d="M1377.8 821.2L1436.1 821.2A97.6 14.6 0 0 0 1631.4 821.2L1689.8 821.2L1689.8 708.6L1377.8 708.6Z" fill="#ad6e45"/><path d="M1377.8 819.6L1436.3 819.6A97.5 14.8 0 0 0 1631.2 819.6L1689.8 819.6L1689.8 708.6L1377.8 708.6Z" fill="#ae6f46"/><path d="M1377.8 818L1436.4 818A97.3 15 0 0 0 1631.1 818L1689.8 818L1689.8 708.6L1377.8 708.6Z" fill="#b07046"/><path d="M1377.8 817L1436.5 817A97.2 14.8 0 0 0 1631 817L1689.8 817L1689.8 708.6L1377.8 708.6Z" fill="#ab6d44"/><path d="M1377.8 816L1436.6 816A97.1 14.6 0 0 0 1630.9 816L1689.8 816L1689.8 708.6L1377.8 708.6Z" fill="#a66a41"/><path d="M1377.8 815L1436.7 815A97 14.4 0 0 0 1630.8 815L1689.8 815L1689.8 708.6L1377.8 708.6Z" fill="#a2663f"/><path d="M1377.8 814L1436.8 814A96.9 14.2 0 0 0 1630.7 814L1689.8 814L1689.8 708.6L1377.8 708.6Z" fill="#9d633c"/><path d="M1377.8 813L1436.9 813A96.8 14 0 0 0 1630.6 813L1689.8 813L1689.8 708.6L1377.8 708.6Z" fill="#98603a"/><path d="M1377.8 811.9L1437 811.9A96.7 13.8 0 0 0 1630.5 811.9L1689.8 811.9L1689.8 708.6L1377.8 708.6Z" fill="#985f3a"/><path d="M1377.8 810.8L1437.1 810.8A96.6 13.7 0 0 0 1630.4 810.8L1689.8 810.8L1689.8 708.6L1377.8 708.6Z" fill="#975f3a"/><path d="M1377.8 809.8L1437.2 809.8A96.5 13.5 0 0 0 1630.3 809.8L1689.8 809.8L1689.8 708.6L1377.8 708.6Z" fill="#975e3a"/><path d="M1377.8 808.7L1437.3 808.7A96.4 13.3 0 0 0 1630.2 808.7L1689.8 808.7L1689.8 708.6L1377.8 708.6Z" fill="#965d3a"/><path d="M1377.8 807.6L1437.4 807.6A96.3 13.2 0 0 0 1630.1 807.6L1689.8 807.6L1689.8 708.6L1377.8 708.6Z" fill="#965d3a"/><path d="M1377.8 806.5L1437.5 806.5A96.2 13 0 0 0 1630 806.5L1689.8 806.5L1689.8 708.6L1377.8 708.6Z" fill="#965c3a"/><path d="M1377.8 805.4L1437.6 805.4A96.1 12.8 0 0 0 1629.9 805.4L1689.8 805.4L1689.8 708.6L1377.8 708.6Z" fill="#955b3a"/><path d="M1377.8 804.3L1437.7 804.3A96 12.7 0 0 0 1629.8 804.3L1689.8 804.3L1689.8 708.6L1377.8 708.6Z" fill="#955b3a"/><path d="M1377.8 803.2L1438.1 803.2A95.7 12.5 0 0 0 1629.4 803.2L1689.8 803.2L1689.8 708.6L1377.8 708.6Z" fill="#945a3a"/><path d="M1377.8 802.2L1438.5 802.2A95.3 12.3 0 0 0 1629 802.2L1689.8 802.2L1689.8 708.6L1377.8 708.6Z" fill="#94593a"/><path d="M1377.8 801.1L1438.9 801.1A94.9 12.2 0 0 0 1628.6 801.1L1689.8 801.1L1689.8 708.6L1377.8 708.6Z" fill="#93593a"/><path d="M1377.8 800L1439.3 800A94.5 12 0 0 0 1628.2 800L1689.8 800L1689.8 708.6L1377.8 708.6Z" fill="#93583a"/><ellipse cx="1533.75" cy="752" rx="34" ry="13.5" fill="#7c4a2c"/><ellipse cx="1533.75" cy="750.5" rx="30.5" ry="11.8" fill="#f0a070"/><path d="M1417.8 1015.2C1424.4 944.9 1433.6 822.9 1437.8 804.2C1438.4 801.2 1438.6 800.9 1439.5 799.2C1440.8 797 1443 794.9 1445.3 792.2C1448.7 788.3 1453.6 782.5 1457.8 778.4C1461.7 774.7 1465.4 771.6 1469.5 768.5C1473.5 765.4 1477.9 762.5 1482.2 759.8C1486.3 757.1 1490.7 754.7 1494.7 752.3C1498.2 750.1 1501.5 748.1 1504.8 746.1C1508.1 744.2 1510.5 741.8 1514.5 740.5C1519.6 738.8 1527.3 738.6 1533.8 738.6C1540.2 738.6 1547.9 738.8 1553 740.5C1557 741.8 1559.4 744.2 1562.7 746.1C1566 748.1 1569.3 750.1 1572.8 752.3C1576.8 754.7 1581.2 757.1 1585.3 759.8C1589.6 762.5 1594 765.4 1598 768.5C1602.1 771.6 1605.8 774.7 1609.7 778.4C1613.9 782.5 1618.8 788.3 1622.2 792.2C1624.5 794.9 1626.7 797 1628 799.2C1628.9 800.9 1629.1 801.2 1629.8 804.2C1633.9 822.9 1643.1 944.9 1649.8 1015.2A116 39.4 0 0 1 1417.8 1015.2Z" fill="url(#shc3)"/><ellipse cx="1513.2" cy="819.5" rx="24" ry="28" fill="url(#hlc3_0)"/></g><path d="M1320.6 1015.2L1320.6 662M1320.6 1015.2L1533.8 1088.2M1533.8 1088.2L1746.6 1015.2M1320.6 1015.2L1311.8 1012.2M1320.6 926.9L1311.8 923.9M1320.6 838.6L1311.8 835.6M1320.6 750.3L1311.8 747.3M1320.6 662L1311.8 659M1320.6 1015.2L1311.8 1018.2M1373.9 1033.5L1365.1 1036.5M1427.2 1051.7L1418.4 1054.7M1480.5 1070L1471.7 1073M1533.8 1088.2L1525 1091.2M1533.8 1088.2L1542.6 1091.2M1587 1070L1595.8 1073M1640.2 1051.7L1649 1054.7M1693.4 1033.5L1702.2 1036.5M1746.6 1015.2L1755.4 1018.2" stroke="#2e2e2e" stroke-width="1.1" fill="none"/><text x="1305.1" y="1019.4" font-size="22" text-anchor="end" fill="#262626">0</text><text x="1305.1" y="931.1" font-size="22" text-anchor="end" fill="#262626">50</text><text x="1305.1" y="842.8" font-size="22" text-anchor="end" fill="#262626">100</text><text x="1305.1" y="754.5" font-size="22" text-anchor="end" fill="#262626">150</text><text x="1305.1" y="666.2" font-size="22" text-anchor="end" fill="#262626">200</text><text x="1305.1" y="1042.8" font-size="22" text-anchor="end" fill="#262626">-80</text><text x="1358.4" y="1061" font-size="22" text-anchor="end" fill="#262626">-40</text><text x="1411.7" y="1079.3" font-size="22" text-anchor="end" fill="#262626">0</text><text x="1465" y="1097.5" font-size="22" text-anchor="end" fill="#262626">40</text><text x="1518.3" y="1115.8" font-size="22" text-anchor="end" fill="#262626">80</text><text x="1549.3" y="1115.7" font-size="22" fill="#262626">-80</text><text x="1602.5" y="1097.4" font-size="22" fill="#262626">-40</text><text x="1655.7" y="1079.2" font-size="22" fill="#262626">0</text><text x="1708.9" y="1060.9" font-size="22" fill="#262626">40</text><text x="1762.1" y="1042.7" font-size="22" fill="#262626">80</text><text x="1377.1" y="1129.4" font-size="23.2" text-anchor="middle" fill="#262626" textLength="71" lengthAdjust="spacingAndGlyphs">X (nm)</text><text x="1689.3" y="1129.4" font-size="23.2" text-anchor="middle" fill="#262626" textLength="71" lengthAdjust="spacingAndGlyphs">Y (nm)</text><text transform="translate(1259.1 837.8) rotate(-90)" font-size="23.2" text-anchor="middle" fill="#262626" textLength="71" lengthAdjust="spacingAndGlyphs">Z (nm)</text><path d="M700.3 1593.1L913.1 1520.1M753.6 1611.3L966.4 1538.3M806.9 1629.6L1019.7 1556.6M860.2 1647.8L1073 1574.8M753.5 1574.8L966.7 1647.8M806.7 1556.6L1019.9 1629.6M859.9 1538.3L1073.1 1611.3M913.1 1520.1L1126.3 1593.1M753.5 1574.8L753.5 1221.6M806.7 1556.6L806.7 1203.4M859.9 1538.3L859.9 1185.1M913.1 1520.1L913.1 1166.9M700.3 1593.1L913.1 1520.1M700.3 1504.8L913.1 1431.8M700.3 1416.5L913.1 1343.5M700.3 1328.2L913.1 1255.2M700.3 1239.9L913.1 1166.9M913.1 1520.1L913.1 1166.9M966.4 1538.3L966.4 1185.1M1019.7 1556.6L1019.7 1203.4M1073 1574.8L1073 1221.6M1126.3 1593.1L1126.3 1239.9M913.1 1520.1L1126.3 1593.1M913.1 1431.8L1126.3 1504.8M913.1 1343.5L1126.3 1416.5M913.1 1255.2L1126.3 1328.2M913.1 1166.9L1126.3 1239.9" stroke="#e3e3e3" stroke-width="1" fill="none"/><g mask="url(#cld2)"><path d="M797.6 1593.1C801.3 1553.5 806 1502.7 808.7 1474.3C810.2 1458.4 810.7 1447.5 812.4 1437.1C813.7 1429.4 814.6 1423.4 816.9 1417.1C819.2 1410.9 822.4 1404.9 826.1 1399.7C829.6 1394.6 833.9 1390.2 838.3 1386.1C842.8 1382 847.8 1378.3 852.8 1374.9C857.7 1371.6 862.4 1368.4 867.8 1366.2C873.4 1364 879.2 1362.8 885.9 1361.8C894.2 1360.6 904.6 1360.6 913.9 1360.6C923.2 1360.6 933.6 1360.6 941.9 1361.8C948.6 1362.8 954.4 1364 960 1366.2C965.4 1368.4 970.1 1371.6 975 1374.9C980 1378.3 985 1382 989.5 1386.1C993.9 1390.2 998.2 1394.6 1001.7 1399.7C1005.4 1404.9 1008.6 1410.9 1010.9 1417.1C1013.2 1423.4 1014.1 1429.4 1015.4 1437.1C1017.1 1447.5 1017.6 1458.4 1019.1 1474.3C1021.8 1502.7 1026.5 1553.5 1030.2 1593.1A116.3 40 0 0 1 797.6 1593.1Z" fill="#ffe000"/><path d="M757.6 1590L797.9 1590A116 38 0 0 0 1029.9 1590L1070.2 1590L1070.2 1330.6L757.6 1330.6Z" fill="#ffc800"/><path d="M757.6 1589L798 1589A115.9 37.8 0 0 0 1029.8 1589L1070.2 1589L1070.2 1330.6L757.6 1330.6Z" fill="#ffc200"/><path d="M757.6 1588L798.1 1588A115.8 37.5 0 0 0 1029.7 1588L1070.2 1588L1070.2 1330.6L757.6 1330.6Z" fill="#ffbc00"/><path d="M757.6 1587L798.2 1587A115.7 37.2 0 0 0 1029.6 1587L1070.2 1587L1070.2 1330.6L757.6 1330.6Z" fill="#ffb600"/><path d="M757.6 1586L798.3 1586A115.6 37 0 0 0 1029.5 1586L1070.2 1586L1070.2 1330.6L757.6 1330.6Z" fill="#ffb000"/><path d="M757.6 1585.2L798.3 1585.2A115.6 36.6 0 0 0 1029.5 1585.2L1070.2 1585.2L1070.2 1330.6L757.6 1330.6Z" fill="#ffab00"/><path d="M757.6 1584.4L798.4 1584.4A115.5 36.2 0 0 0 1029.4 1584.4L1070.2 1584.4L1070.2 1330.6L757.6 1330.6Z" fill="#ffa600"/><path d="M757.6 1583.6L798.5 1583.6A115.4 35.8 0 0 0 1029.3 1583.6L1070.2 1583.6L1070.2 1330.6L757.6 1330.6Z" fill="#ffa200"/><path d="M757.6 1582.8L798.6 1582.8A115.3 35.4 0 0 0 1029.2 1582.8L1070.2 1582.8L1070.2 1330.6L757.6 1330.6Z" fill="#ff9d00"/><path d="M757.6 1582L798.6 1582A115.3 35 0 0 0 1029.2 1582L1070.2 1582L1070.2 1330.6L757.6 1330.6Z" fill="#ff9800"/><path d="M757.6 1581.2L798.7 1581.2A115.2 34.6 0 0 0 1029.1 1581.2L1070.2 1581.2L1070.2 1330.6L757.6 1330.6Z" fill="#ff9300"/><path d="M757.6 1580.4L798.8 1580.4A115.1 34.2 0 0 0 1029 1580.4L1070.2 1580.4L1070.2 1330.6L757.6 1330.6Z" fill="#ff8e00"/><path d="M757.6 1579.6L798.9 1579.6A115 33.8 0 0 0 1028.9 1579.6L1070.2 1579.6L1070.2 1330.6L757.6 1330.6Z" fill="#ff8a00"/><path d="M757.6 1578.8L798.9 1578.8A115 33.4 0 0 0 1028.9 1578.8L1070.2 1578.8L1070.2 1330.6L757.6 1330.6Z" fill="#ff8500"/><path d="M757.6 1578L799 1578A114.9 33 0 0 0 1028.8 1578L1070.2 1578L1070.2 1330.6L757.6 1330.6Z" fill="#ff8000"/><path d="M757.6 1577.2L799.1 1577.2A114.8 32.6 0 0 0 1028.7 1577.2L1070.2 1577.2L1070.2 1330.6L757.6 1330.6Z" fill="#ff7a00"/><path d="M757.6 1576.4L799.2 1576.4A114.7 32.2 0 0 0 1028.6 1576.4L1070.2 1576.4L1070.2 1330.6L757.6 1330.6Z" fill="#ff7300"/><path d="M757.6 1575.6L799.2 1575.6A114.7 31.8 0 0 0 1028.6 1575.6L1070.2 1575.6L1070.2 1330.6L757.6 1330.6Z" fill="#ff6d00"/><path d="M757.6 1574.8L799.3 1574.8A114.6 31.4 0 0 0 1028.5 1574.8L1070.2 1574.8L1070.2 1330.6L757.6 1330.6Z" fill="#ff6600"/><path d="M757.6 1574L799.4 1574A114.5 31 0 0 0 1028.4 1574L1070.2 1574L1070.2 1330.6L757.6 1330.6Z" fill="#ff6000"/><path d="M757.6 1573.2L799.5 1573.2A114.4 30.5 0 0 0 1028.3 1573.2L1070.2 1573.2L1070.2 1330.6L757.6 1330.6Z" fill="#ff5800"/><path d="M757.6 1572.5L799.5 1572.5A114.4 30 0 0 0 1028.3 1572.5L1070.2 1572.5L1070.2 1330.6L757.6 1330.6Z" fill="#ff5000"/><path d="M757.6 1571.8L799.6 1571.8A114.3 29.5 0 0 0 1028.2 1571.8L1070.2 1571.8L1070.2 1330.6L757.6 1330.6Z" fill="#ff4800"/><path d="M757.6 1571L799.7 1571A114.2 29 0 0 0 1028.1 1571L1070.2 1571L1070.2 1330.6L757.6 1330.6Z" fill="#ff4000"/><path d="M757.6 1570L799.8 1570A114.1 28.7 0 0 0 1028 1570L1070.2 1570L1070.2 1330.6L757.6 1330.6Z" fill="#ff3300"/><path d="M757.6 1569L799.9 1569A114 28.3 0 0 0 1027.9 1569L1070.2 1569L1070.2 1330.6L757.6 1330.6Z" fill="#ff2500"/><path d="M757.6 1568L799.9 1568A114 28 0 0 0 1027.9 1568L1070.2 1568L1070.2 1330.6L757.6 1330.6Z" fill="#ff1800"/><path d="M757.6 1567.3L800 1567.3A113.9 27.3 0 0 0 1027.8 1567.3L1070.2 1567.3L1070.2 1330.6L757.6 1330.6Z" fill="#f71000"/><path d="M757.6 1566.7L800.1 1566.7A113.8 26.7 0 0 0 1027.7 1566.7L1070.2 1566.7L1070.2 1330.6L757.6 1330.6Z" fill="#f00800"/><path d="M757.6 1566L800.1 1566A113.8 26 0 0 0 1027.7 1566L1070.2 1566L1070.2 1330.6L757.6 1330.6Z" fill="#e80000"/><path d="M757.6 1565L800.2 1565A113.7 25.5 0 0 0 1027.6 1565L1070.2 1565L1070.2 1330.6L757.6 1330.6Z" fill="#d80000"/><path d="M757.6 1564L800.3 1564A113.6 25 0 0 0 1027.5 1564L1070.2 1564L1070.2 1330.6L757.6 1330.6Z" fill="#c80000"/><path d="M757.6 1563L800.4 1563A113.5 24.5 0 0 0 1027.4 1563L1070.2 1563L1070.2 1330.6L757.6 1330.6Z" fill="#b80000"/><path d="M757.6 1562L800.5 1562A113.4 24 0 0 0 1027.3 1562L1070.2 1562L1070.2 1330.6L757.6 1330.6Z" fill="#a80000"/><path d="M757.6 1561L800.6 1561A113.3 23.5 0 0 0 1027.2 1561L1070.2 1561L1070.2 1330.6L757.6 1330.6Z" fill="#9c0000"/><path d="M757.6 1560L800.7 1560A113.2 23 0 0 0 1027.1 1560L1070.2 1560L1070.2 1330.6L757.6 1330.6Z" fill="#900000"/><path d="M757.6 1559L800.8 1559A113.1 22.5 0 0 0 1027 1559L1070.2 1559L1070.2 1330.6L757.6 1330.6Z" fill="#880000"/><path d="M757.6 1558L800.9 1558A113 22 0 0 0 1026.9 1558L1070.2 1558L1070.2 1330.6L757.6 1330.6Z" fill="#800000"/><path d="M757.6 1453L810.8 1453A103.1 25.5 0 0 0 1017 1453L1070.2 1453L1070.2 1330.6L757.6 1330.6Z" fill="#800000"/><path d="M757.6 1452L810.9 1452A103 25 0 0 0 1016.9 1452L1070.2 1452L1070.2 1330.6L757.6 1330.6Z" fill="#a00000"/><path d="M757.6 1450.5L811.1 1450.5A102.8 25 0 0 0 1016.7 1450.5L1070.2 1450.5L1070.2 1330.6L757.6 1330.6Z" fill="#b80000"/><path d="M757.6 1449L811.2 1449A102.7 25 0 0 0 1016.6 1449L1070.2 1449L1070.2 1330.6L757.6 1330.6Z" fill="#d00000"/><path d="M757.6 1447.5L811.4 1447.5A102.5 25 0 0 0 1016.4 1447.5L1070.2 1447.5L1070.2 1330.6L757.6 1330.6Z" fill="#e80800"/><path d="M757.6 1446L811.5 1446A102.4 25 0 0 0 1016.3 1446L1070.2 1446L1070.2 1330.6L757.6 1330.6Z" fill="#ff1000"/><path d="M757.6 1444.5L811.7 1444.5A102.2 25 0 0 0 1016.1 1444.5L1070.2 1444.5L1070.2 1330.6L757.6 1330.6Z" fill="#ff2800"/><path d="M757.6 1443L811.8 1443A102.1 25 0 0 0 1016 1443L1070.2 1443L1070.2 1330.6L757.6 1330.6Z" fill="#ff4000"/><path d="M757.6 1441.5L812 1441.5A101.9 25 0 0 0 1015.8 1441.5L1070.2 1441.5L1070.2 1330.6L757.6 1330.6Z" fill="#ff5800"/><path d="M757.6 1440L812.1 1440A101.8 25 0 0 0 1015.7 1440L1070.2 1440L1070.2 1330.6L757.6 1330.6Z" fill="#ff7000"/><path d="M757.6 1438.5L812.3 1438.5A101.6 25 0 0 0 1015.5 1438.5L1070.2 1438.5L1070.2 1330.6L757.6 1330.6Z" fill="#ff8800"/><path d="M757.6 1437L812.4 1437A101.5 25 0 0 0 1015.4 1437L1070.2 1437L1070.2 1330.6L757.6 1330.6Z" fill="#ffa000"/><path d="M757.6 1435L812.9 1435A101 25 0 0 0 1014.9 1435L1070.2 1435L1070.2 1330.6L757.6 1330.6Z" fill="#ffd000"/><path d="M757.6 1434L813.1 1434A100.8 24.5 0 0 0 1014.7 1434L1070.2 1434L1070.2 1330.6L757.6 1330.6Z" fill="#ffe800"/><path d="M757.6 1433L813.3 1433A100.6 24 0 0 0 1014.5 1433L1070.2 1433L1070.2 1330.6L757.6 1330.6Z" fill="#ffff00"/><path d="M757.6 1431.5L813.7 1431.5A100.2 24 0 0 0 1014.1 1431.5L1070.2 1431.5L1070.2 1330.6L757.6 1330.6Z" fill="#f0ff10"/><path d="M757.6 1430L814 1430A99.9 24 0 0 0 1013.8 1430L1070.2 1430L1070.2 1330.6L757.6 1330.6Z" fill="#e0ff20"/><path d="M757.6 1428.5L814.3 1428.5A99.6 24 0 0 0 1013.5 1428.5L1070.2 1428.5L1070.2 1330.6L757.6 1330.6Z" fill="#d0ff30"/><path d="M757.6 1427L814.7 1427A99.2 24 0 0 0 1013.1 1427L1070.2 1427L1070.2 1330.6L757.6 1330.6Z" fill="#c0ff40"/><path d="M757.6 1425.5L815 1425.5A98.9 24 0 0 0 1012.8 1425.5L1070.2 1425.5L1070.2 1330.6L757.6 1330.6Z" fill="#b0ff50"/><path d="M757.6 1424L815.3 1424A98.6 24 0 0 0 1012.5 1424L1070.2 1424L1070.2 1330.6L757.6 1330.6Z" fill="#a0ff60"/><path d="M757.6 1422.7L815.6 1422.7A98.3 24 0 0 0 1012.2 1422.7L1070.2 1422.7L1070.2 1330.6L757.6 1330.6Z" fill="#95ff6b"/><path d="M757.6 1421.3L815.9 1421.3A98 24 0 0 0 1011.9 1421.3L1070.2 1421.3L1070.2 1330.6L757.6 1330.6Z" fill="#8bff75"/><path d="M757.6 1420L816.2 1420A97.7 24 0 0 0 1011.6 1420L1070.2 1420L1070.2 1330.6L757.6 1330.6Z" fill="#80ff80"/><path d="M757.6 1418.8L816.5 1418.8A97.4 24 0 0 0 1011.3 1418.8L1070.2 1418.8L1070.2 1330.6L757.6 1330.6Z" fill="#7eff82"/><path d="M757.6 1417.6L816.8 1417.6A97.1 24 0 0 0 1011 1417.6L1070.2 1417.6L1070.2 1330.6L757.6 1330.6Z" fill="#7bff85"/><path d="M757.6 1416.4L817.3 1416.4A96.6 24 0 0 0 1010.5 1416.4L1070.2 1416.4L1070.2 1330.6L757.6 1330.6Z" fill="#79ff87"/><path d="M757.6 1415.2L817.9 1415.2A96 24 0 0 0 1009.9 1415.2L1070.2 1415.2L1070.2 1330.6L757.6 1330.6Z" fill="#76ff8a"/><path d="M757.6 1414L818.5 1414A95.4 24 0 0 0 1009.3 1414L1070.2 1414L1070.2 1330.6L757.6 1330.6Z" fill="#74ff8c"/><path d="M757.6 1412.9L819.1 1412.9A94.8 23.9 0 0 0 1008.7 1412.9L1070.2 1412.9L1070.2 1330.6L757.6 1330.6Z" fill="#72ff8e"/><path d="M757.6 1411.8L819.7 1411.8A94.2 23.8 0 0 0 1008.1 1411.8L1070.2 1411.8L1070.2 1330.6L757.6 1330.6Z" fill="#71ff8f"/><path d="M757.6 1410.6L820.3 1410.6A93.6 23.6 0 0 0 1007.5 1410.6L1070.2 1410.6L1070.2 1330.6L757.6 1330.6Z" fill="#70ff90"/><path d="M757.6 1409.5L820.9 1409.5A93 23.5 0 0 0 1006.9 1409.5L1070.2 1409.5L1070.2 1330.6L757.6 1330.6Z" fill="#6eff92"/><path d="M757.6 1408.4L821.5 1408.4A92.4 23.4 0 0 0 1006.3 1408.4L1070.2 1408.4L1070.2 1330.6L757.6 1330.6Z" fill="#6cff94"/><path d="M757.6 1407.2L822.1 1407.2A91.8 23.2 0 0 0 1005.7 1407.2L1070.2 1407.2L1070.2 1330.6L757.6 1330.6Z" fill="#6bff95"/><path d="M757.6 1406.1L822.7 1406.1A91.2 23.1 0 0 0 1005.1 1406.1L1070.2 1406.1L1070.2 1330.6L757.6 1330.6Z" fill="#6aff96"/><path d="M757.6 1405L823.3 1405A90.6 23 0 0 0 1004.5 1405L1070.2 1405L1070.2 1330.6L757.6 1330.6Z" fill="#68ff98"/><path d="M757.6 1403.9L823.9 1403.9A90 22.9 0 0 0 1003.9 1403.9L1070.2 1403.9L1070.2 1330.6L757.6 1330.6Z" fill="#66ff9a"/><path d="M757.6 1402.8L824.5 1402.8A89.4 22.8 0 0 0 1003.3 1402.8L1070.2 1402.8L1070.2 1330.6L757.6 1330.6Z" fill="#63ff9d"/><path d="M757.6 1401.6L825.1 1401.6A88.8 22.6 0 0 0 1002.7 1401.6L1070.2 1401.6L1070.2 1330.6L757.6 1330.6Z" fill="#60ffa0"/><path d="M757.6 1400.5L825.7 1400.5A88.2 22.5 0 0 0 1002.1 1400.5L1070.2 1400.5L1070.2 1330.6L757.6 1330.6Z" fill="#5effa2"/><path d="M757.6 1399.4L826.4 1399.4A87.5 22.4 0 0 0 1001.4 1399.4L1070.2 1399.4L1070.2 1330.6L757.6 1330.6Z" fill="#5cffa4"/><path d="M757.6 1398.2L827.4 1398.2A86.5 22.2 0 0 0 1000.4 1398.2L1070.2 1398.2L1070.2 1330.6L757.6 1330.6Z" fill="#59ffa7"/><path d="M757.6 1397.1L828.4 1397.1A85.5 22.1 0 0 0 999.4 1397.1L1070.2 1397.1L1070.2 1330.6L757.6 1330.6Z" fill="#56ffaa"/><path d="M757.6 1396L829.4 1396A84.5 22 0 0 0 998.4 1396L1070.2 1396L1070.2 1330.6L757.6 1330.6Z" fill="#54ffac"/><path d="M757.6 1395L830.3 1395A83.6 21.7 0 0 0 997.5 1395L1070.2 1395L1070.2 1330.6L757.6 1330.6Z" fill="#51feb0"/><path d="M757.6 1394L831.2 1394A82.7 21.3 0 0 0 996.6 1394L1070.2 1394L1070.2 1330.6L757.6 1330.6Z" fill="#4dfdb4"/><path d="M757.6 1393L832.1 1393A81.8 21 0 0 0 995.7 1393L1070.2 1393L1070.2 1330.6L757.6 1330.6Z" fill="#4afcb8"/><path d="M757.6 1392L833 1392A80.9 20.7 0 0 0 994.8 1392L1070.2 1392L1070.2 1330.6L757.6 1330.6Z" fill="#47fabc"/><path d="M757.6 1391L833.9 1391A80 20.3 0 0 0 993.9 1391L1070.2 1391L1070.2 1330.6L757.6 1330.6Z" fill="#43f9c0"/><path d="M757.6 1390L834.8 1390A79.1 20 0 0 0 993 1390L1070.2 1390L1070.2 1330.6L757.6 1330.6Z" fill="#40f8c4"/><path d="M850 1380A64.5 23.5 0 0 0 979 1380L979 1376A64.5 23.5 0 0 1 850 1376Z" fill="#f0c000"/><ellipse cx="914.4" cy="1380" rx="63" ry="22" fill="url(#rcd2)"/><ellipse cx="869.2" cy="1387.3" rx="11" ry="5" fill="#100000"/><ellipse cx="900.8" cy="1397" rx="9" ry="5" fill="#100000"/><ellipse cx="945.4" cy="1392.2" rx="20" ry="4.5" fill="#100000"/><ellipse cx="965.7" cy="1375.1" rx="6" ry="3" fill="#100000"/><ellipse cx="866.8" cy="1370.3" rx="5" ry="3" fill="#100000"/><ellipse cx="880" cy="1392" rx="6" ry="3" fill="#100000"/><ellipse cx="928" cy="1396" rx="6" ry="2.5" fill="#100000"/><ellipse cx="958" cy="1386" rx="7" ry="3" fill="#100000"/><ellipse cx="914.4" cy="1372.4" rx="10" ry="5" fill="#e0d040"/><ellipse cx="914" cy="1372.4" rx="7" ry="3.5" fill="#102020"/><ellipse cx="916" cy="1372" rx="3" ry="1.6" fill="#40e0e0"/><path d="M797.6 1593.1C801.3 1553.5 806 1502.7 808.7 1474.3C810.2 1458.4 810.7 1447.5 812.4 1437.1C813.7 1429.4 814.6 1423.4 816.9 1417.1C819.2 1410.9 822.4 1404.9 826.1 1399.7C829.6 1394.6 833.9 1390.2 838.3 1386.1C842.8 1382 847.8 1378.3 852.8 1374.9C857.7 1371.6 862.4 1368.4 867.8 1366.2C873.4 1364 879.2 1362.8 885.9 1361.8C894.2 1360.6 904.6 1360.6 913.9 1360.6C923.2 1360.6 933.6 1360.6 941.9 1361.8C948.6 1362.8 954.4 1364 960 1366.2C965.4 1368.4 970.1 1371.6 975 1374.9C980 1378.3 985 1382 989.5 1386.1C993.9 1390.2 998.2 1394.6 1001.7 1399.7C1005.4 1404.9 1008.6 1410.9 1010.9 1417.1C1013.2 1423.4 1014.1 1429.4 1015.4 1437.1C1017.1 1447.5 1017.6 1458.4 1019.1 1474.3C1021.8 1502.7 1026.5 1553.5 1030.2 1593.1A116.3 40 0 0 1 797.6 1593.1Z" fill="url(#shd2)"/><ellipse cx="894.5" cy="1424.6" rx="20" ry="13" fill="url(#hld2_0)"/></g><path d="M700.3 1593.1L700.3 1239.9M700.3 1593.1L913.5 1666.1M913.5 1666.1L1126.3 1593.1M700.3 1593.1L691.5 1590.1M700.3 1504.8L691.5 1501.8M700.3 1416.5L691.5 1413.5M700.3 1328.2L691.5 1325.2M700.3 1239.9L691.5 1236.9M700.3 1593.1L691.5 1596.1M753.6 1611.3L744.8 1614.4M806.9 1629.6L798.1 1632.6M860.2 1647.8L851.4 1650.9M913.5 1666.1L904.7 1669.1M913.5 1666.1L922.3 1669.1M966.7 1647.8L975.5 1650.9M1019.9 1629.6L1028.7 1632.6M1073.1 1611.3L1081.9 1614.4M1126.3 1593.1L1135.1 1596.1" stroke="#2e2e2e" stroke-width="1.1" fill="none"/><text x="684.8" y="1597.3" font-size="22" text-anchor="end" fill="#262626">0</text><text x="684.8" y="1509" font-size="22" text-anchor="end" fill="#262626">50</text><text x="684.8" y="1420.7" font-size="22" text-anchor="end" fill="#262626">100</text><text x="684.8" y="1332.4" font-size="22" text-anchor="end" fill="#262626">150</text><text x="684.8" y="1244.1" font-size="22" text-anchor="end" fill="#262626">200</text><text x="684.8" y="1620.7" font-size="22" text-anchor="end" fill="#262626">-80</text><text x="738.1" y="1638.9" font-size="22" text-anchor="end" fill="#262626">-40</text><text x="791.4" y="1657.2" font-size="22" text-anchor="end" fill="#262626">0</text><text x="844.7" y="1675.4" font-size="22" text-anchor="end" fill="#262626">40</text><text x="898" y="1693.7" font-size="22" text-anchor="end" fill="#262626">80</text><text x="929" y="1693.6" font-size="22" fill="#262626">-80</text><text x="982.2" y="1675.3" font-size="22" fill="#262626">-40</text><text x="1035.4" y="1657.1" font-size="22" fill="#262626">0</text><text x="1088.6" y="1638.8" font-size="22" fill="#262626">40</text><text x="1141.8" y="1620.6" font-size="22" fill="#262626">80</text><text x="756.8" y="1707.3" font-size="23.2" text-anchor="middle" fill="#262626" textLength="71" lengthAdjust="spacingAndGlyphs">X (nm)</text><text x="1069" y="1707.3" font-size="23.2" text-anchor="middle" fill="#262626" textLength="71" lengthAdjust="spacingAndGlyphs">Y (nm)</text><text transform="translate(638.8 1415.7) rotate(-90)" font-size="23.2" text-anchor="middle" fill="#262626" textLength="71" lengthAdjust="spacingAndGlyphs">Z (nm)</text><path d="M1320.7 1593.1L1533.5 1520.1M1374 1611.3L1586.8 1538.3M1427.3 1629.6L1640.1 1556.6M1480.6 1647.8L1693.4 1574.8M1373.9 1574.8L1587.1 1647.8M1427.1 1556.6L1640.3 1629.6M1480.3 1538.3L1693.5 1611.3M1533.5 1520.1L1746.7 1593.1M1373.9 1574.8L1373.9 1221.6M1427.1 1556.6L1427.1 1203.4M1480.3 1538.3L1480.3 1185.1M1533.5 1520.1L1533.5 1166.9M1320.7 1593.1L1533.5 1520.1M1320.7 1504.8L1533.5 1431.8M1320.7 1416.5L1533.5 1343.5M1320.7 1328.2L1533.5 1255.2M1320.7 1239.9L1533.5 1166.9M1533.5 1520.1L1533.5 1166.9M1586.8 1538.3L1586.8 1185.1M1640.1 1556.6L1640.1 1203.4M1693.4 1574.8L1693.4 1221.6M1746.7 1593.1L1746.7 1239.9M1533.5 1520.1L1746.7 1593.1M1533.5 1431.8L1746.7 1504.8M1533.5 1343.5L1746.7 1416.5M1533.5 1255.2L1746.7 1328.2M1533.5 1166.9L1746.7 1239.9" stroke="#e3e3e3" stroke-width="1" fill="none"/><g mask="url(#cld3)"><path d="M1417.6 1593.1C1421.3 1553.5 1426 1502.7 1428.7 1474.3C1430.2 1458.4 1430.7 1447.5 1432.4 1437.1C1433.7 1429.4 1434.6 1423.4 1436.9 1417.1C1439.2 1410.9 1442.4 1404.9 1446.1 1399.7C1449.6 1394.6 1453.9 1390.2 1458.3 1386.1C1462.8 1382 1467.8 1378.3 1472.8 1374.9C1477.7 1371.6 1482.4 1368.4 1487.8 1366.2C1493.4 1364 1499.2 1362.8 1505.9 1361.8C1514.2 1360.6 1524.6 1360.6 1533.9 1360.6C1543.2 1360.6 1553.6 1360.6 1561.9 1361.8C1568.6 1362.8 1574.4 1364 1580 1366.2C1585.4 1368.4 1590.1 1371.6 1595 1374.9C1600 1378.3 1605 1382 1609.5 1386.1C1613.9 1390.2 1618.2 1394.6 1621.7 1399.7C1625.4 1404.9 1628.6 1410.9 1630.9 1417.1C1633.2 1423.4 1634.1 1429.4 1635.4 1437.1C1637.1 1447.5 1637.6 1458.4 1639.1 1474.3C1641.8 1502.7 1646.5 1553.5 1650.2 1593.1A116.3 40 0 0 1 1417.6 1593.1Z" fill="#000000"/><path d="M1377.6 1573L1419.5 1573A114.4 17 0 0 0 1648.3 1573L1690.2 1573L1690.2 1330.6L1377.6 1330.6Z" fill="#000000"/><path d="M1377.6 1571.8L1419.6 1571.8A114.3 17 0 0 0 1648.2 1571.8L1690.2 1571.8L1690.2 1330.6L1377.6 1330.6Z" fill="#010000"/><path d="M1377.6 1570.6L1419.7 1570.6A114.2 17 0 0 0 1648.1 1570.6L1690.2 1570.6L1690.2 1330.6L1377.6 1330.6Z" fill="#030101"/><path d="M1377.6 1569.4L1419.8 1569.4A114.1 17 0 0 0 1648 1569.4L1690.2 1569.4L1690.2 1330.6L1377.6 1330.6Z" fill="#040201"/><path d="M1377.6 1568.2L1419.9 1568.2A114 17 0 0 0 1647.9 1568.2L1690.2 1568.2L1690.2 1330.6L1377.6 1330.6Z" fill="#060302"/><path d="M1377.6 1567L1420 1567A113.9 17 0 0 0 1647.8 1567L1690.2 1567L1690.2 1330.6L1377.6 1330.6Z" fill="#070403"/><path d="M1377.6 1565.8L1420.2 1565.8A113.7 17 0 0 0 1647.6 1565.8L1690.2 1565.8L1690.2 1330.6L1377.6 1330.6Z" fill="#090503"/><path d="M1377.6 1564.6L1420.3 1564.6A113.6 17 0 0 0 1647.5 1564.6L1690.2 1564.6L1690.2 1330.6L1377.6 1330.6Z" fill="#0b0604"/><path d="M1377.6 1563.4L1420.4 1563.4A113.5 17 0 0 0 1647.4 1563.4L1690.2 1563.4L1690.2 1330.6L1377.6 1330.6Z" fill="#0c0705"/><path d="M1377.6 1562.2L1420.5 1562.2A113.4 17 0 0 0 1647.3 1562.2L1690.2 1562.2L1690.2 1330.6L1377.6 1330.6Z" fill="#0e0805"/><path d="M1377.6 1561L1420.6 1561A113.3 17 0 0 0 1647.2 1561L1690.2 1561L1690.2 1330.6L1377.6 1330.6Z" fill="#0f0906"/><path d="M1377.6 1559.7L1420.7 1559.7A113.2 17 0 0 0 1647.1 1559.7L1690.2 1559.7L1690.2 1330.6L1377.6 1330.6Z" fill="#120b07"/><path d="M1377.6 1558.5L1420.8 1558.5A113.1 17 0 0 0 1647 1558.5L1690.2 1558.5L1690.2 1330.6L1377.6 1330.6Z" fill="#150d08"/><path d="M1377.6 1557.2L1421 1557.2A112.9 17 0 0 0 1646.8 1557.2L1690.2 1557.2L1690.2 1330.6L1377.6 1330.6Z" fill="#180f09"/><path d="M1377.6 1555.9L1421.1 1555.9A112.8 17 0 0 0 1646.7 1555.9L1690.2 1555.9L1690.2 1330.6L1377.6 1330.6Z" fill="#1b110b"/><path d="M1377.6 1554.7L1421.2 1554.7A112.7 17 0 0 0 1646.6 1554.7L1690.2 1554.7L1690.2 1330.6L1377.6 1330.6Z" fill="#1e130c"/><path d="M1377.6 1553.4L1421.3 1553.4A112.6 17 0 0 0 1646.5 1553.4L1690.2 1553.4L1690.2 1330.6L1377.6 1330.6Z" fill="#21150d"/><path d="M1377.6 1552.1L1421.4 1552.1A112.5 17 0 0 0 1646.4 1552.1L1690.2 1552.1L1690.2 1330.6L1377.6 1330.6Z" fill="#24160e"/><path d="M1377.6 1550.9L1421.5 1550.9A112.4 17 0 0 0 1646.3 1550.9L1690.2 1550.9L1690.2 1330.6L1377.6 1330.6Z" fill="#27180f"/><path d="M1377.6 1549.6L1421.7 1549.6A112.2 17 0 0 0 1646.1 1549.6L1690.2 1549.6L1690.2 1330.6L1377.6 1330.6Z" fill="#2a1a10"/><path d="M1377.6 1548.3L1421.8 1548.3A112.1 17 0 0 0 1646 1548.3L1690.2 1548.3L1690.2 1330.6L1377.6 1330.6Z" fill="#2d1c12"/><path d="M1377.6 1547.1L1421.9 1547.1A112 17 0 0 0 1645.9 1547.1L1690.2 1547.1L1690.2 1330.6L1377.6 1330.6Z" fill="#301e13"/><path d="M1377.6 1545.8L1422 1545.8A111.9 17 0 0 0 1645.8 1545.8L1690.2 1545.8L1690.2 1330.6L1377.6 1330.6Z" fill="#332014"/><path d="M1377.6 1544.5L1422.1 1544.5A111.8 17 0 0 0 1645.7 1544.5L1690.2 1544.5L1690.2 1330.6L1377.6 1330.6Z" fill="#362215"/><path d="M1377.6 1543.3L1422.3 1543.3A111.6 17 0 0 0 1645.5 1543.3L1690.2 1543.3L1690.2 1330.6L1377.6 1330.6Z" fill="#392316"/><path d="M1377.6 1542L1422.4 1542A111.5 17 0 0 0 1645.4 1542L1690.2 1542L1690.2 1330.6L1377.6 1330.6Z" fill="#3c2518"/><path d="M1377.6 1540.8L1422.5 1540.8A111.4 17 0 0 0 1645.3 1540.8L1690.2 1540.8L1690.2 1330.6L1377.6 1330.6Z" fill="#3e2618"/><path d="M1377.6 1539.6L1422.6 1539.6A111.3 17 0 0 0 1645.2 1539.6L1690.2 1539.6L1690.2 1330.6L1377.6 1330.6Z" fill="#402819"/><path d="M1377.6 1538.4L1422.7 1538.4A111.2 17 0 0 0 1645.1 1538.4L1690.2 1538.4L1690.2 1330.6L1377.6 1330.6Z" fill="#41291a"/><path d="M1377.6 1537.2L1422.8 1537.2A111.1 17 0 0 0 1645 1537.2L1690.2 1537.2L1690.2 1330.6L1377.6 1330.6Z" fill="#432a1a"/><path d="M1377.6 1536L1422.9 1536A111 17 0 0 0 1644.9 1536L1690.2 1536L1690.2 1330.6L1377.6 1330.6Z" fill="#452b1b"/><path d="M1377.6 1534.8L1423 1534.8A110.9 17 0 0 0 1644.8 1534.8L1690.2 1534.8L1690.2 1330.6L1377.6 1330.6Z" fill="#472c1c"/><path d="M1377.6 1533.6L1423.2 1533.6A110.7 17 0 0 0 1644.6 1533.6L1690.2 1533.6L1690.2 1330.6L1377.6 1330.6Z" fill="#492d1d"/><path d="M1377.6 1532.4L1423.3 1532.4A110.6 17 0 0 0 1644.5 1532.4L1690.2 1532.4L1690.2 1330.6L1377.6 1330.6Z" fill="#4a2e1d"/><path d="M1377.6 1531.2L1423.4 1531.2A110.5 17 0 0 0 1644.4 1531.2L1690.2 1531.2L1690.2 1330.6L1377.6 1330.6Z" fill="#4c2f1e"/><path d="M1377.6 1530L1423.5 1530A110.4 17 0 0 0 1644.3 1530L1690.2 1530L1690.2 1330.6L1377.6 1330.6Z" fill="#4e311f"/><path d="M1377.6 1528.8L1423.6 1528.8A110.3 17 0 0 0 1644.2 1528.8L1690.2 1528.8L1690.2 1330.6L1377.6 1330.6Z" fill="#50321f"/><path d="M1377.6 1527.6L1423.7 1527.6A110.2 17 0 0 0 1644.1 1527.6L1690.2 1527.6L1690.2 1330.6L1377.6 1330.6Z" fill="#513320"/><path d="M1377.6 1526.4L1423.8 1526.4A110.1 17 0 0 0 1644 1526.4L1690.2 1526.4L1690.2 1330.6L1377.6 1330.6Z" fill="#533421"/><path d="M1377.6 1525.2L1423.9 1525.2A110 17 0 0 0 1643.9 1525.2L1690.2 1525.2L1690.2 1330.6L1377.6 1330.6Z" fill="#553522"/><path d="M1377.6 1524L1424.1 1524A109.8 17 0 0 0 1643.7 1524L1690.2 1524L1690.2 1330.6L1377.6 1330.6Z" fill="#573622"/><path d="M1377.6 1522.8L1424.2 1522.8A109.7 17 0 0 0 1643.6 1522.8L1690.2 1522.8L1690.2 1330.6L1377.6 1330.6Z" fill="#593723"/><path d="M1377.6 1521.6L1424.3 1521.6A109.6 17 0 0 0 1643.5 1521.6L1690.2 1521.6L1690.2 1330.6L1377.6 1330.6Z" fill="#5a3824"/><path d="M1377.6 1520.4L1424.4 1520.4A109.5 17 0 0 0 1643.4 1520.4L1690.2 1520.4L1690.2 1330.6L1377.6 1330.6Z" fill="#5c3924"/><path d="M1377.6 1519.2L1424.5 1519.2A109.4 17 0 0 0 1643.3 1519.2L1690.2 1519.2L1690.2 1330.6L1377.6 1330.6Z" fill="#5e3b25"/><path d="M1377.6 1518L1424.6 1518A109.3 17 0 0 0 1643.2 1518L1690.2 1518L1690.2 1330.6L1377.6 1330.6Z" fill="#603c26"/><path d="M1377.6 1516.8L1424.7 1516.8A109.2 17 0 0 0 1643.1 1516.8L1690.2 1516.8L1690.2 1330.6L1377.6 1330.6Z" fill="#623d27"/><path d="M1377.6 1515.6L1424.8 1515.6A109.1 17 0 0 0 1643 1515.6L1690.2 1515.6L1690.2 1330.6L1377.6 1330.6Z" fill="#633e27"/><path d="M1377.6 1514.4L1425 1514.4A108.9 17 0 0 0 1642.8 1514.4L1690.2 1514.4L1690.2 1330.6L1377.6 1330.6Z" fill="#653f28"/><path d="M1377.6 1513.2L1425.1 1513.2A108.8 17 0 0 0 1642.7 1513.2L1690.2 1513.2L1690.2 1330.6L1377.6 1330.6Z" fill="#674029"/><path d="M1377.6 1512L1425.2 1512A108.7 17 0 0 0 1642.6 1512L1690.2 1512L1690.2 1330.6L1377.6 1330.6Z" fill="#694129"/><path d="M1377.6 1510.8L1425.3 1510.8A108.6 17 0 0 0 1642.5 1510.8L1690.2 1510.8L1690.2 1330.6L1377.6 1330.6Z" fill="#6b422a"/><path d="M1377.6 1509.6L1425.4 1509.6A108.5 17 0 0 0 1642.4 1509.6L1690.2 1509.6L1690.2 1330.6L1377.6 1330.6Z" fill="#6d442b"/><path d="M1377.6 1508.4L1425.5 1508.4A108.4 17 0 0 0 1642.3 1508.4L1690.2 1508.4L1690.2 1330.6L1377.6 1330.6Z" fill="#6f452c"/><path d="M1377.6 1507.2L1425.6 1507.2A108.3 17 0 0 0 1642.2 1507.2L1690.2 1507.2L1690.2 1330.6L1377.6 1330.6Z" fill="#71462d"/><path d="M1377.6 1505.9L1425.7 1505.9A108.2 17 0 0 0 1642.1 1505.9L1690.2 1505.9L1690.2 1330.6L1377.6 1330.6Z" fill="#73482d"/><path d="M1377.6 1504.7L1425.9 1504.7A108 17 0 0 0 1641.9 1504.7L1690.2 1504.7L1690.2 1330.6L1377.6 1330.6Z" fill="#75492e"/><path d="M1377.6 1503.5L1426 1503.5A107.9 17 0 0 0 1641.8 1503.5L1690.2 1503.5L1690.2 1330.6L1377.6 1330.6Z" fill="#774a2f"/><path d="M1377.6 1502.3L1426.1 1502.3A107.8 17 0 0 0 1641.7 1502.3L1690.2 1502.3L1690.2 1330.6L1377.6 1330.6Z" fill="#794b30"/><path d="M1377.6 1501.1L1426.2 1501.1A107.7 17 0 0 0 1641.6 1501.1L1690.2 1501.1L1690.2 1330.6L1377.6 1330.6Z" fill="#7b4d31"/><path d="M1377.6 1499.9L1426.3 1499.9A107.6 17 0 0 0 1641.5 1499.9L1690.2 1499.9L1690.2 1330.6L1377.6 1330.6Z" fill="#7d4e31"/><path d="M1377.6 1498.7L1426.4 1498.7A107.5 17 0 0 0 1641.4 1498.7L1690.2 1498.7L1690.2 1330.6L1377.6 1330.6Z" fill="#7f4f32"/><path d="M1377.6 1497.5L1426.5 1497.5A107.4 17 0 0 0 1641.3 1497.5L1690.2 1497.5L1690.2 1330.6L1377.6 1330.6Z" fill="#815033"/><path d="M1377.6 1496.3L1426.6 1496.3A107.3 17 0 0 0 1641.2 1496.3L1690.2 1496.3L1690.2 1330.6L1377.6 1330.6Z" fill="#835234"/><path d="M1377.6 1495.1L1426.8 1495.1A107.1 17 0 0 0 1641 1495.1L1690.2 1495.1L1690.2 1330.6L1377.6 1330.6Z" fill="#855335"/><path d="M1377.6 1493.8L1426.9 1493.8A107 17 0 0 0 1640.9 1493.8L1690.2 1493.8L1690.2 1330.6L1377.6 1330.6Z" fill="#875435"/><path d="M1377.6 1492.6L1427 1492.6A106.9 17 0 0 0 1640.8 1492.6L1690.2 1492.6L1690.2 1330.6L1377.6 1330.6Z" fill="#895536"/><path d="M1377.6 1491.4L1427.1 1491.4A106.8 17 0 0 0 1640.7 1491.4L1690.2 1491.4L1690.2 1330.6L1377.6 1330.6Z" fill="#8b5737"/><path d="M1377.6 1490.2L1427.2 1490.2A106.7 17 0 0 0 1640.6 1490.2L1690.2 1490.2L1690.2 1330.6L1377.6 1330.6Z" fill="#8d5838"/><path d="M1377.6 1489L1427.3 1489A106.6 17 0 0 0 1640.5 1489L1690.2 1489L1690.2 1330.6L1377.6 1330.6Z" fill="#8f5939"/><path d="M1377.6 1487.8L1427.4 1487.8A106.5 17 0 0 0 1640.4 1487.8L1690.2 1487.8L1690.2 1330.6L1377.6 1330.6Z" fill="#935c3a"/><path d="M1377.6 1486.6L1427.6 1486.6A106.3 17 0 0 0 1640.2 1486.6L1690.2 1486.6L1690.2 1330.6L1377.6 1330.6Z" fill="#975e3c"/><path d="M1377.6 1485.4L1427.7 1485.4A106.2 17 0 0 0 1640.1 1485.4L1690.2 1485.4L1690.2 1330.6L1377.6 1330.6Z" fill="#9b603d"/><path d="M1377.6 1484.1L1427.8 1484.1A106.1 17 0 0 0 1640 1484.1L1690.2 1484.1L1690.2 1330.6L1377.6 1330.6Z" fill="#9e633f"/><path d="M1377.6 1482.9L1427.9 1482.9A106 17 0 0 0 1639.9 1482.9L1690.2 1482.9L1690.2 1330.6L1377.6 1330.6Z" fill="#a26540"/><path d="M1377.6 1481.7L1428 1481.7A105.9 17 0 0 0 1639.8 1481.7L1690.2 1481.7L1690.2 1330.6L1377.6 1330.6Z" fill="#a66842"/><path d="M1377.6 1480.5L1428.1 1480.5A105.8 17 0 0 0 1639.7 1480.5L1690.2 1480.5L1690.2 1330.6L1377.6 1330.6Z" fill="#aa6a43"/><path d="M1377.6 1479.3L1428.2 1479.3A105.7 17 0 0 0 1639.6 1479.3L1690.2 1479.3L1690.2 1330.6L1377.6 1330.6Z" fill="#ae6c45"/><path d="M1377.6 1478.1L1428.3 1478.1A105.6 17 0 0 0 1639.5 1478.1L1690.2 1478.1L1690.2 1330.6L1377.6 1330.6Z" fill="#b26f46"/><path d="M1377.6 1476.9L1428.5 1476.9A105.4 17 0 0 0 1639.3 1476.9L1690.2 1476.9L1690.2 1330.6L1377.6 1330.6Z" fill="#b67148"/><path d="M1377.6 1475.6L1428.6 1475.6A105.3 17 0 0 0 1639.2 1475.6L1690.2 1475.6L1690.2 1330.6L1377.6 1330.6Z" fill="#ba744a"/><path d="M1377.6 1474.4L1428.7 1474.4A105.2 17 0 0 0 1639.1 1474.4L1690.2 1474.4L1690.2 1330.6L1377.6 1330.6Z" fill="#bd764b"/><path d="M1377.6 1473.2L1428.8 1473.2A105.1 17 0 0 0 1639 1473.2L1690.2 1473.2L1690.2 1330.6L1377.6 1330.6Z" fill="#c1794d"/><path d="M1377.6 1472L1428.9 1472A105 17 0 0 0 1638.9 1472L1690.2 1472L1690.2 1330.6L1377.6 1330.6Z" fill="#c57b4e"/><path d="M1377.6 1470.8L1429 1470.8A104.9 17 0 0 0 1638.8 1470.8L1690.2 1470.8L1690.2 1330.6L1377.6 1330.6Z" fill="#c87d4f"/><path d="M1377.6 1469.6L1429.2 1469.6A104.7 17 0 0 0 1638.6 1469.6L1690.2 1469.6L1690.2 1330.6L1377.6 1330.6Z" fill="#ca7e50"/><path d="M1377.6 1468.4L1429.3 1468.4A104.6 17 0 0 0 1638.5 1468.4L1690.2 1468.4L1690.2 1330.6L1377.6 1330.6Z" fill="#cd8051"/><path d="M1377.6 1467.2L1429.4 1467.2A104.5 17 0 0 0 1638.4 1467.2L1690.2 1467.2L1690.2 1330.6L1377.6 1330.6Z" fill="#d08252"/><path d="M1377.6 1465.9L1429.5 1465.9A104.4 17 0 0 0 1638.3 1465.9L1690.2 1465.9L1690.2 1330.6L1377.6 1330.6Z" fill="#d38353"/><path d="M1377.6 1464.7L1429.7 1464.7A104.2 17 0 0 0 1638.1 1464.7L1690.2 1464.7L1690.2 1330.6L1377.6 1330.6Z" fill="#d58555"/><path d="M1377.6 1463.5L1429.8 1463.5A104.1 17 0 0 0 1638 1463.5L1690.2 1463.5L1690.2 1330.6L1377.6 1330.6Z" fill="#d88756"/><path d="M1377.6 1462.3L1429.9 1462.3A104 17 0 0 0 1637.9 1462.3L1690.2 1462.3L1690.2 1330.6L1377.6 1330.6Z" fill="#db8857"/><path d="M1377.6 1461.1L1430 1461.1A103.9 17 0 0 0 1637.8 1461.1L1690.2 1461.1L1690.2 1330.6L1377.6 1330.6Z" fill="#dd8a58"/><path d="M1377.6 1459.9L1430.1 1459.9A103.8 17 0 0 0 1637.7 1459.9L1690.2 1459.9L1690.2 1330.6L1377.6 1330.6Z" fill="#e08c59"/><path d="M1377.6 1458.7L1430.3 1458.7A103.6 17 0 0 0 1637.5 1458.7L1690.2 1458.7L1690.2 1330.6L1377.6 1330.6Z" fill="#e38d5a"/><path d="M1377.6 1457.5L1430.4 1457.5A103.5 17 0 0 0 1637.4 1457.5L1690.2 1457.5L1690.2 1330.6L1377.6 1330.6Z" fill="#e58f5b"/><path d="M1377.6 1456.3L1430.5 1456.3A103.4 17 0 0 0 1637.3 1456.3L1690.2 1456.3L1690.2 1330.6L1377.6 1330.6Z" fill="#e8915c"/><path d="M1377.6 1455.1L1430.6 1455.1A103.3 17 0 0 0 1637.2 1455.1L1690.2 1455.1L1690.2 1330.6L1377.6 1330.6Z" fill="#eb925d"/><path d="M1377.6 1453.8L1430.7 1453.8A103.2 17 0 0 0 1637.1 1453.8L1690.2 1453.8L1690.2 1330.6L1377.6 1330.6Z" fill="#ed945e"/><path d="M1377.6 1452.6L1430.9 1452.6A103 17 0 0 0 1636.9 1452.6L1690.2 1452.6L1690.2 1330.6L1377.6 1330.6Z" fill="#f0965f"/><path d="M1377.6 1451.4L1431 1451.4A102.9 17 0 0 0 1636.8 1451.4L1690.2 1451.4L1690.2 1330.6L1377.6 1330.6Z" fill="#f39860"/><path d="M1377.6 1450.2L1431.1 1450.2A102.8 17 0 0 0 1636.7 1450.2L1690.2 1450.2L1690.2 1330.6L1377.6 1330.6Z" fill="#f59961"/><path d="M1377.6 1449L1431.2 1449A102.7 17 0 0 0 1636.6 1449L1690.2 1449L1690.2 1330.6L1377.6 1330.6Z" fill="#f89b62"/><path d="M1377.6 1447.7L1431.3 1447.7A102.6 17 0 0 0 1636.5 1447.7L1690.2 1447.7L1690.2 1330.6L1377.6 1330.6Z" fill="#fc9d64"/><path d="M1377.6 1446.4L1431.5 1446.4A102.4 17 0 0 0 1636.3 1446.4L1690.2 1446.4L1690.2 1330.6L1377.6 1330.6Z" fill="#ffa065"/><path d="M1377.6 1445.1L1431.6 1445.1A102.3 17 0 0 0 1636.2 1445.1L1690.2 1445.1L1690.2 1330.6L1377.6 1330.6Z" fill="#ffa267"/><path d="M1377.6 1443.8L1431.7 1443.8A102.2 17 0 0 0 1636.1 1443.8L1690.2 1443.8L1690.2 1330.6L1377.6 1330.6Z" fill="#ffa469"/><path d="M1377.6 1442.5L1431.9 1442.5A102 17 0 0 0 1635.9 1442.5L1690.2 1442.5L1690.2 1330.6L1377.6 1330.6Z" fill="#ffa76a"/><path d="M1377.6 1441.2L1432 1441.2A101.9 17 0 0 0 1635.8 1441.2L1690.2 1441.2L1690.2 1330.6L1377.6 1330.6Z" fill="#ffa96c"/><path d="M1377.6 1439.9L1432.1 1439.9A101.8 17 0 0 0 1635.7 1439.9L1690.2 1439.9L1690.2 1330.6L1377.6 1330.6Z" fill="#ffac6d"/><path d="M1377.6 1438.6L1432.3 1438.6A101.6 17 0 0 0 1635.5 1438.6L1690.2 1438.6L1690.2 1330.6L1377.6 1330.6Z" fill="#ffae6f"/><path d="M1377.6 1437.3L1432.4 1437.3A101.5 17 0 0 0 1635.4 1437.3L1690.2 1437.3L1690.2 1330.6L1377.6 1330.6Z" fill="#ffb070"/><path d="M1377.6 1436L1432.6 1436A101.3 17 0 0 0 1635.2 1436L1690.2 1436L1690.2 1330.6L1377.6 1330.6Z" fill="#ffb372"/><path d="M1377.6 1434.7L1432.9 1434.7A101 17 0 0 0 1634.9 1434.7L1690.2 1434.7L1690.2 1330.6L1377.6 1330.6Z" fill="#ffb573"/><path d="M1377.6 1433.4L1433.2 1433.4A100.7 17 0 0 0 1634.6 1433.4L1690.2 1433.4L1690.2 1330.6L1377.6 1330.6Z" fill="#ffb674"/><path d="M1377.6 1432.1L1433.5 1432.1A100.4 17 0 0 0 1634.3 1432.1L1690.2 1432.1L1690.2 1330.6L1377.6 1330.6Z" fill="#ffb875"/><path d="M1377.6 1430.8L1433.8 1430.8A100.1 17 0 0 0 1634 1430.8L1690.2 1430.8L1690.2 1330.6L1377.6 1330.6Z" fill="#ffba76"/><path d="M1377.6 1429.5L1434.1 1429.5A99.8 17 0 0 0 1633.7 1429.5L1690.2 1429.5L1690.2 1330.6L1377.6 1330.6Z" fill="#ffbc77"/><path d="M1377.6 1428.2L1434.4 1428.2A99.5 17 0 0 0 1633.4 1428.2L1690.2 1428.2L1690.2 1330.6L1377.6 1330.6Z" fill="#ffbe79"/><path d="M1377.6 1426.9L1434.7 1426.9A99.2 17 0 0 0 1633.1 1426.9L1690.2 1426.9L1690.2 1330.6L1377.6 1330.6Z" fill="#ffbf7a"/><path d="M1377.6 1425.6L1435 1425.6A98.9 17 0 0 0 1632.8 1425.6L1690.2 1425.6L1690.2 1330.6L1377.6 1330.6Z" fill="#ffc17b"/><path d="M1377.6 1424.3L1435.3 1424.3A98.6 17 0 0 0 1632.5 1424.3L1690.2 1424.3L1690.2 1330.6L1377.6 1330.6Z" fill="#ffc37c"/><path d="M1377.6 1423L1435.6 1423A98.3 17 0 0 0 1632.2 1423L1690.2 1423L1690.2 1330.6L1377.6 1330.6Z" fill="#ffc57d"/><ellipse cx="1533.5" cy="1383.5" rx="58" ry="18.5" fill="#cf8558" filter="url(#blur3)"/><path d="M1417.6 1593.1C1421.3 1553.5 1426 1502.7 1428.7 1474.3C1430.2 1458.4 1430.7 1447.5 1432.4 1437.1C1433.7 1429.4 1434.6 1423.4 1436.9 1417.1C1439.2 1410.9 1442.4 1404.9 1446.1 1399.7C1449.6 1394.6 1453.9 1390.2 1458.3 1386.1C1462.8 1382 1467.8 1378.3 1472.8 1374.9C1477.7 1371.6 1482.4 1368.4 1487.8 1366.2C1493.4 1364 1499.2 1362.8 1505.9 1361.8C1514.2 1360.6 1524.6 1360.6 1533.9 1360.6C1543.2 1360.6 1553.6 1360.6 1561.9 1361.8C1568.6 1362.8 1574.4 1364 1580 1366.2C1585.4 1368.4 1590.1 1371.6 1595 1374.9C1600 1378.3 1605 1382 1609.5 1386.1C1613.9 1390.2 1618.2 1394.6 1621.7 1399.7C1625.4 1404.9 1628.6 1410.9 1630.9 1417.1C1633.2 1423.4 1634.1 1429.4 1635.4 1437.1C1637.1 1447.5 1637.6 1458.4 1639.1 1474.3C1641.8 1502.7 1646.5 1553.5 1650.2 1593.1A116.3 40 0 0 1 1417.6 1593.1Z" fill="url(#shd3)"/><ellipse cx="1513" cy="1426.7" rx="27" ry="17" fill="url(#hld3_0)"/></g><path d="M1320.7 1593.1L1320.7 1239.9M1320.7 1593.1L1533.9 1666.1M1533.9 1666.1L1746.7 1593.1M1320.7 1593.1L1311.9 1590.1M1320.7 1504.8L1311.9 1501.8M1320.7 1416.5L1311.9 1413.5M1320.7 1328.2L1311.9 1325.2M1320.7 1239.9L1311.9 1236.9M1320.7 1593.1L1311.9 1596.1M1374 1611.3L1365.2 1614.4M1427.3 1629.6L1418.5 1632.6M1480.6 1647.8L1471.8 1650.9M1533.9 1666.1L1525.1 1669.1M1533.9 1666.1L1542.7 1669.1M1587.1 1647.8L1595.9 1650.9M1640.3 1629.6L1649.1 1632.6M1693.5 1611.3L1702.3 1614.4M1746.7 1593.1L1755.5 1596.1" stroke="#2e2e2e" stroke-width="1.1" fill="none"/><text x="1305.2" y="1597.3" font-size="22" text-anchor="end" fill="#262626">0</text><text x="1305.2" y="1509" font-size="22" text-anchor="end" fill="#262626">50</text><text x="1305.2" y="1420.7" font-size="22" text-anchor="end" fill="#262626">100</text><text x="1305.2" y="1332.4" font-size="22" text-anchor="end" fill="#262626">150</text><text x="1305.2" y="1244.1" font-size="22" text-anchor="end" fill="#262626">200</text><text x="1305.2" y="1620.7" font-size="22" text-anchor="end" fill="#262626">-80</text><text x="1358.5" y="1638.9" font-size="22" text-anchor="end" fill="#262626">-40</text><text x="1411.8" y="1657.2" font-size="22" text-anchor="end" fill="#262626">0</text><text x="1465.1" y="1675.4" font-size="22" text-anchor="end" fill="#262626">40</text><text x="1518.4" y="1693.7" font-size="22" text-anchor="end" fill="#262626">80</text><text x="1549.4" y="1693.6" font-size="22" fill="#262626">-80</text><text x="1602.6" y="1675.3" font-size="22" fill="#262626">-40</text><text x="1655.8" y="1657.1" font-size="22" fill="#262626">0</text><text x="1709" y="1638.8" font-size="22" fill="#262626">40</text><text x="1762.2" y="1620.6" font-size="22" fill="#262626">80</text><text x="1377.2" y="1707.3" font-size="23.2" text-anchor="middle" fill="#262626" textLength="71" lengthAdjust="spacingAndGlyphs">X (nm)</text><text x="1689.4" y="1707.3" font-size="23.2" text-anchor="middle" fill="#262626" textLength="71" lengthAdjust="spacingAndGlyphs">Y (nm)</text><text transform="translate(1259.2 1415.7) rotate(-90)" font-size="23.2" text-anchor="middle" fill="#262626" textLength="71" lengthAdjust="spacingAndGlyphs">Z (nm)</text><rect x="1151" y="661.1" width="24.5" height="352.5" fill="url(#gjet)" stroke="#3a3a3a" stroke-width="1"/><text x="1182" y="669.8" font-size="21.2" fill="#262626">100</text><text x="1182" y="733.9" font-size="21.2" fill="#262626">80</text><text x="1182" y="798" font-size="21.2" fill="#262626">60</text><text x="1182" y="862.1" font-size="21.2" fill="#262626">40</text><text x="1182" y="926.2" font-size="21.2" fill="#262626">20</text><text x="1182" y="990.2" font-size="21.2" fill="#262626">0</text><text x="1182" y="1022.3" font-size="21.2" fill="#262626">-10</text><path d="M1172 725.2L1175.5 725.2M1172 789.3L1175.5 789.3M1172 853.4L1175.5 853.4M1172 917.5L1175.5 917.5M1172 981.6L1175.5 981.6" stroke="#333" stroke-width="1"/><rect x="1151" y="1241.9" width="25.1" height="352.1" fill="url(#gjet)" stroke="#3a3a3a" stroke-width="1"/><text x="1182.6" y="1250.6" font-size="21.2" fill="#262626">100</text><text x="1182.6" y="1314.6" font-size="21.2" fill="#262626">80</text><text x="1182.6" y="1378.6" font-size="21.2" fill="#262626">60</text><text x="1182.6" y="1442.6" font-size="21.2" fill="#262626">40</text><text x="1182.6" y="1506.7" font-size="21.2" fill="#262626">20</text><text x="1182.6" y="1570.7" font-size="21.2" fill="#262626">0</text><text x="1182.6" y="1602.7" font-size="21.2" fill="#262626">-10</text><path d="M1172.6 1305.9L1176.1 1305.9M1172.6 1369.9L1176.1 1369.9M1172.6 1434L1176.1 1434M1172.6 1498L1176.1 1498M1172.6 1562L1176.1 1562" stroke="#333" stroke-width="1"/><rect x="1772.1" y="660.6" width="24.9" height="356.4" fill="url(#gcop)" stroke="#4a3820" stroke-width="1"/><text x="1803.5" y="669.3" font-size="21.2" fill="#262626">40</text><text x="1803.5" y="728.7" font-size="21.2" fill="#262626">35</text><text x="1803.5" y="788.1" font-size="21.2" fill="#262626">30</text><text x="1803.5" y="847.5" font-size="21.2" fill="#262626">25</text><text x="1803.5" y="906.9" font-size="21.2" fill="#262626">20</text><text x="1803.5" y="966.3" font-size="21.2" fill="#262626">15</text><text x="1803.5" y="1025.7" font-size="21.2" fill="#262626">10</text><path d="M1793.5 720L1797 720M1793.5 779.4L1797 779.4M1793.5 838.8L1797 838.8M1793.5 898.2L1797 898.2M1793.5 957.6L1797 957.6" stroke="#333" stroke-width="1"/><rect x="1771.2" y="1242.3" width="24.7" height="345.4" fill="url(#gcop)" stroke="#4a3820" stroke-width="1"/><text x="1802.4" y="1251" font-size="21.2" fill="#262626">40</text><text x="1802.4" y="1308.6" font-size="21.2" fill="#262626">35</text><text x="1802.4" y="1366.1" font-size="21.2" fill="#262626">30</text><text x="1802.4" y="1423.7" font-size="21.2" fill="#262626">25</text><text x="1802.4" y="1481.3" font-size="21.2" fill="#262626">20</text><text x="1802.4" y="1538.8" font-size="21.2" fill="#262626">15</text><text x="1802.4" y="1596.4" font-size="21.2" fill="#262626">10</text><path d="M1792.4 1299.9L1795.9 1299.9M1792.4 1357.4L1795.9 1357.4M1792.4 1415L1795.9 1415M1792.4 1472.6L1795.9 1472.6M1792.4 1530.1L1795.9 1530.1" stroke="#333" stroke-width="1"/><rect x="1085.9" y="73.5" width="73.5" height="390.8" fill="#efefef" stroke="#222" stroke-width="1.4" stroke-dasharray="5 3.2"/><rect x="1336.9" y="242.6" width="62.8" height="232.3" fill="#efefef" stroke="#222" stroke-width="1.4" stroke-dasharray="5 3.2"/><path d="M880 482L1086 231.5L1094.5 207L1114.1 192.3L1119 182.5L1133.7 172.7L1143.5 172.7L1150.9 182.5L1155.8 207L1159.4 231.5L1161.2 280.5L1161.9 329.5L1168 349.1L1182.7 361.4L1197.4 371.2L1229.3 378.6L1244 384.8L1269 399L1282 407L1291 419L1300 432L1310 440L1325.5 447.5L1347.8 454L1359.7 449.1L1369.6 439.2L1377.6 423.3L1382.5 415.4L1387.5 405.5L1392.4 388.7L1397 371.8L1407.3 321.3L1414.2 281.7L1420.2 239.1L1425.1 216.3L1431 188.5L1434 174.7L1437 163.8L1452.8 151.9L1472.7 142L1567 77.6" stroke="#11ee11" stroke-width="2.2" fill="none" stroke-linejoin="round"/><path d="M875.2 482a4.8 4.8 0 1 0 9.6 0a4.8 4.8 0 1 0 -9.6 0zM877.1 479.7a4.8 4.8 0 1 0 9.6 0a4.8 4.8 0 1 0 -9.6 0zM879 477.4a4.8 4.8 0 1 0 9.6 0a4.8 4.8 0 1 0 -9.6 0zM880.9 475.1a4.8 4.8 0 1 0 9.6 0a4.8 4.8 0 1 0 -9.6 0zM882.8 472.7a4.8 4.8 0 1 0 9.6 0a4.8 4.8 0 1 0 -9.6 0zM884.7 470.4a4.8 4.8 0 1 0 9.6 0a4.8 4.8 0 1 0 -9.6 0zM886.6 468.1a4.8 4.8 0 1 0 9.6 0a4.8 4.8 0 1 0 -9.6 0zM895.9 456.8a4.8 4.8 0 1 0 9.6 0a4.8 4.8 0 1 0 -9.6 0zM903.7 447.3a4.8 4.8 0 1 0 9.6 0a4.8 4.8 0 1 0 -9.6 0zM911.4 437.9a4.8 4.8 0 1 0 9.6 0a4.8 4.8 0 1 0 -9.6 0zM919.2 428.5a4.8 4.8 0 1 0 9.6 0a4.8 4.8 0 1 0 -9.6 0zM926.9 419a4.8 4.8 0 1 0 9.6 0a4.8 4.8 0 1 0 -9.6 0zM934.6 409.6a4.8 4.8 0 1 0 9.6 0a4.8 4.8 0 1 0 -9.6 0zM942.4 400.2a4.8 4.8 0 1 0 9.6 0a4.8 4.8 0 1 0 -9.6 0zM950.1 390.7a4.8 4.8 0 1 0 9.6 0a4.8 4.8 0 1 0 -9.6 0zM957.8 381.3a4.8 4.8 0 1 0 9.6 0a4.8 4.8 0 1 0 -9.6 0zM965.6 371.9a4.8 4.8 0 1 0 9.6 0a4.8 4.8 0 1 0 -9.6 0zM973.3 362.5a4.8 4.8 0 1 0 9.6 0a4.8 4.8 0 1 0 -9.6 0zM981.1 353a4.8 4.8 0 1 0 9.6 0a4.8 4.8 0 1 0 -9.6 0zM988.8 343.6a4.8 4.8 0 1 0 9.6 0a4.8 4.8 0 1 0 -9.6 0zM999.3 330.8a4.8 4.8 0 1 0 9.6 0a4.8 4.8 0 1 0 -9.6 0zM1003.5 325.8a4.8 4.8 0 1 0 9.6 0a4.8 4.8 0 1 0 -9.6 0zM1007.6 320.8a4.8 4.8 0 1 0 9.6 0a4.8 4.8 0 1 0 -9.6 0zM1011.7 315.7a4.8 4.8 0 1 0 9.6 0a4.8 4.8 0 1 0 -9.6 0zM1015.9 310.7a4.8 4.8 0 1 0 9.6 0a4.8 4.8 0 1 0 -9.6 0zM1020 305.7a4.8 4.8 0 1 0 9.6 0a4.8 4.8 0 1 0 -9.6 0zM1024.1 300.7a4.8 4.8 0 1 0 9.6 0a4.8 4.8 0 1 0 -9.6 0zM1028.3 295.7a4.8 4.8 0 1 0 9.6 0a4.8 4.8 0 1 0 -9.6 0zM1032.4 290.7a4.8 4.8 0 1 0 9.6 0a4.8 4.8 0 1 0 -9.6 0zM1036.6 285.6a4.8 4.8 0 1 0 9.6 0a4.8 4.8 0 1 0 -9.6 0zM1040.7 280.6a4.8 4.8 0 1 0 9.6 0a4.8 4.8 0 1 0 -9.6 0zM1044.8 275.6a4.8 4.8 0 1 0 9.6 0a4.8 4.8 0 1 0 -9.6 0zM1049 270.6a4.8 4.8 0 1 0 9.6 0a4.8 4.8 0 1 0 -9.6 0zM1053.1 265.6a4.8 4.8 0 1 0 9.6 0a4.8 4.8 0 1 0 -9.6 0zM1057.2 260.6a4.8 4.8 0 1 0 9.6 0a4.8 4.8 0 1 0 -9.6 0zM1061.4 255.6a4.8 4.8 0 1 0 9.6 0a4.8 4.8 0 1 0 -9.6 0zM1065.5 250.5a4.8 4.8 0 1 0 9.6 0a4.8 4.8 0 1 0 -9.6 0zM1069.6 245.5a4.8 4.8 0 1 0 9.6 0a4.8 4.8 0 1 0 -9.6 0zM1073.8 240.5a4.8 4.8 0 1 0 9.6 0a4.8 4.8 0 1 0 -9.6 0zM1077.9 235.5a4.8 4.8 0 1 0 9.6 0a4.8 4.8 0 1 0 -9.6 0zM1082.5 227.7a4.8 4.8 0 1 0 9.6 0a4.8 4.8 0 1 0 -9.6 0zM1083.8 223.9a4.8 4.8 0 1 0 9.6 0a4.8 4.8 0 1 0 -9.6 0zM1085.1 220.2a4.8 4.8 0 1 0 9.6 0a4.8 4.8 0 1 0 -9.6 0zM1086.4 216.4a4.8 4.8 0 1 0 9.6 0a4.8 4.8 0 1 0 -9.6 0zM1087.8 212.6a4.8 4.8 0 1 0 9.6 0a4.8 4.8 0 1 0 -9.6 0zM1089.1 208.8a4.8 4.8 0 1 0 9.6 0a4.8 4.8 0 1 0 -9.6 0zM1091.4 205.8a4.8 4.8 0 1 0 9.6 0a4.8 4.8 0 1 0 -9.6 0zM1094.6 203.4a4.8 4.8 0 1 0 9.6 0a4.8 4.8 0 1 0 -9.6 0zM1097.8 201a4.8 4.8 0 1 0 9.6 0a4.8 4.8 0 1 0 -9.6 0zM1101 198.6a4.8 4.8 0 1 0 9.6 0a4.8 4.8 0 1 0 -9.6 0zM1104.2 196.2a4.8 4.8 0 1 0 9.6 0a4.8 4.8 0 1 0 -9.6 0zM1107.4 193.8a4.8 4.8 0 1 0 9.6 0a4.8 4.8 0 1 0 -9.6 0zM1110 190.9a4.8 4.8 0 1 0 9.6 0a4.8 4.8 0 1 0 -9.6 0zM1111.8 187.3a4.8 4.8 0 1 0 9.6 0a4.8 4.8 0 1 0 -9.6 0zM1113.6 183.7a4.8 4.8 0 1 0 9.6 0a4.8 4.8 0 1 0 -9.6 0zM1116.4 181.1a4.8 4.8 0 1 0 9.6 0a4.8 4.8 0 1 0 -9.6 0zM1119.7 178.8a4.8 4.8 0 1 0 9.6 0a4.8 4.8 0 1 0 -9.6 0zM1123 176.6a4.8 4.8 0 1 0 9.6 0a4.8 4.8 0 1 0 -9.6 0zM1126.4 174.4a4.8 4.8 0 1 0 9.6 0a4.8 4.8 0 1 0 -9.6 0zM1129.8 172.7a4.8 4.8 0 1 0 9.6 0a4.8 4.8 0 1 0 -9.6 0zM1133.8 172.7a4.8 4.8 0 1 0 9.6 0a4.8 4.8 0 1 0 -9.6 0zM1137.8 172.7a4.8 4.8 0 1 0 9.6 0a4.8 4.8 0 1 0 -9.6 0zM1140.6 175.2a4.8 4.8 0 1 0 9.6 0a4.8 4.8 0 1 0 -9.6 0zM1143 178.4a4.8 4.8 0 1 0 9.6 0a4.8 4.8 0 1 0 -9.6 0zM1145.4 181.6a4.8 4.8 0 1 0 9.6 0a4.8 4.8 0 1 0 -9.6 0zM1146.7 185.3a4.8 4.8 0 1 0 9.6 0a4.8 4.8 0 1 0 -9.6 0zM1147.4 189.2a4.8 4.8 0 1 0 9.6 0a4.8 4.8 0 1 0 -9.6 0zM1148.2 193.2a4.8 4.8 0 1 0 9.6 0a4.8 4.8 0 1 0 -9.6 0zM1149 197.1a4.8 4.8 0 1 0 9.6 0a4.8 4.8 0 1 0 -9.6 0zM1149.8 201a4.8 4.8 0 1 0 9.6 0a4.8 4.8 0 1 0 -9.6 0zM1150.6 204.9a4.8 4.8 0 1 0 9.6 0a4.8 4.8 0 1 0 -9.6 0zM1151.3 208.9a4.8 4.8 0 1 0 9.6 0a4.8 4.8 0 1 0 -9.6 0zM1151.9 212.8a4.8 4.8 0 1 0 9.6 0a4.8 4.8 0 1 0 -9.6 0zM1152.4 216.8a4.8 4.8 0 1 0 9.6 0a4.8 4.8 0 1 0 -9.6 0zM1153 220.7a4.8 4.8 0 1 0 9.6 0a4.8 4.8 0 1 0 -9.6 0zM1153.6 224.7a4.8 4.8 0 1 0 9.6 0a4.8 4.8 0 1 0 -9.6 0zM1154.2 228.6a4.8 4.8 0 1 0 9.6 0a4.8 4.8 0 1 0 -9.6 0zM1154.6 232.6a4.8 4.8 0 1 0 9.6 0a4.8 4.8 0 1 0 -9.6 0zM1154.8 236.6a4.8 4.8 0 1 0 9.6 0a4.8 4.8 0 1 0 -9.6 0zM1154.9 240.6a4.8 4.8 0 1 0 9.6 0a4.8 4.8 0 1 0 -9.6 0zM1155.1 244.6a4.8 4.8 0 1 0 9.6 0a4.8 4.8 0 1 0 -9.6 0zM1155.2 248.6a4.8 4.8 0 1 0 9.6 0a4.8 4.8 0 1 0 -9.6 0zM1155.4 252.6a4.8 4.8 0 1 0 9.6 0a4.8 4.8 0 1 0 -9.6 0zM1155.5 256.6a4.8 4.8 0 1 0 9.6 0a4.8 4.8 0 1 0 -9.6 0zM1155.7 260.6a4.8 4.8 0 1 0 9.6 0a4.8 4.8 0 1 0 -9.6 0zM1155.8 264.6a4.8 4.8 0 1 0 9.6 0a4.8 4.8 0 1 0 -9.6 0zM1156 268.6a4.8 4.8 0 1 0 9.6 0a4.8 4.8 0 1 0 -9.6 0zM1156.1 272.6a4.8 4.8 0 1 0 9.6 0a4.8 4.8 0 1 0 -9.6 0zM1156.3 276.6a4.8 4.8 0 1 0 9.6 0a4.8 4.8 0 1 0 -9.6 0zM1156.4 280.6a4.8 4.8 0 1 0 9.6 0a4.8 4.8 0 1 0 -9.6 0zM1156.5 284.6a4.8 4.8 0 1 0 9.6 0a4.8 4.8 0 1 0 -9.6 0zM1156.5 288.6a4.8 4.8 0 1 0 9.6 0a4.8 4.8 0 1 0 -9.6 0zM1156.6 292.6a4.8 4.8 0 1 0 9.6 0a4.8 4.8 0 1 0 -9.6 0zM1156.6 296.6a4.8 4.8 0 1 0 9.6 0a4.8 4.8 0 1 0 -9.6 0zM1156.7 300.6a4.8 4.8 0 1 0 9.6 0a4.8 4.8 0 1 0 -9.6 0zM1156.7 304.6a4.8 4.8 0 1 0 9.6 0a4.8 4.8 0 1 0 -9.6 0zM1156.8 308.6a4.8 4.8 0 1 0 9.6 0a4.8 4.8 0 1 0 -9.6 0zM1156.9 312.6a4.8 4.8 0 1 0 9.6 0a4.8 4.8 0 1 0 -9.6 0zM1156.9 316.6a4.8 4.8 0 1 0 9.6 0a4.8 4.8 0 1 0 -9.6 0zM1157 320.6a4.8 4.8 0 1 0 9.6 0a4.8 4.8 0 1 0 -9.6 0zM1157 324.6a4.8 4.8 0 1 0 9.6 0a4.8 4.8 0 1 0 -9.6 0zM1157.1 328.6a4.8 4.8 0 1 0 9.6 0a4.8 4.8 0 1 0 -9.6 0zM1158 332.4a4.8 4.8 0 1 0 9.6 0a4.8 4.8 0 1 0 -9.6 0zM1159.2 336.3a4.8 4.8 0 1 0 9.6 0a4.8 4.8 0 1 0 -9.6 0zM1160.4 340.1a4.8 4.8 0 1 0 9.6 0a4.8 4.8 0 1 0 -9.6 0zM1161.6 343.9a4.8 4.8 0 1 0 9.6 0a4.8 4.8 0 1 0 -9.6 0zM1162.8 347.7a4.8 4.8 0 1 0 9.6 0a4.8 4.8 0 1 0 -9.6 0zM1165.2 350.7a4.8 4.8 0 1 0 9.6 0a4.8 4.8 0 1 0 -9.6 0zM1168.2 353.3a4.8 4.8 0 1 0 9.6 0a4.8 4.8 0 1 0 -9.6 0zM1171.3 355.9a4.8 4.8 0 1 0 9.6 0a4.8 4.8 0 1 0 -9.6 0zM1174.4 358.4a4.8 4.8 0 1 0 9.6 0a4.8 4.8 0 1 0 -9.6 0zM1177.4 361a4.8 4.8 0 1 0 9.6 0a4.8 4.8 0 1 0 -9.6 0zM1180.7 363.3a4.8 4.8 0 1 0 9.6 0a4.8 4.8 0 1 0 -9.6 0zM1184 365.5a4.8 4.8 0 1 0 9.6 0a4.8 4.8 0 1 0 -9.6 0zM1187.4 367.7a4.8 4.8 0 1 0 9.6 0a4.8 4.8 0 1 0 -9.6 0zM1190.7 369.9a4.8 4.8 0 1 0 9.6 0a4.8 4.8 0 1 0 -9.6 0zM1194.3 371.6a4.8 4.8 0 1 0 9.6 0a4.8 4.8 0 1 0 -9.6 0zM1198.2 372.5a4.8 4.8 0 1 0 9.6 0a4.8 4.8 0 1 0 -9.6 0zM1202.1 373.4a4.8 4.8 0 1 0 9.6 0a4.8 4.8 0 1 0 -9.6 0zM1206 374.3a4.8 4.8 0 1 0 9.6 0a4.8 4.8 0 1 0 -9.6 0zM1209.9 375.2a4.8 4.8 0 1 0 9.6 0a4.8 4.8 0 1 0 -9.6 0zM1213.8 376.1a4.8 4.8 0 1 0 9.6 0a4.8 4.8 0 1 0 -9.6 0zM1217.7 377a4.8 4.8 0 1 0 9.6 0a4.8 4.8 0 1 0 -9.6 0zM1221.5 377.9a4.8 4.8 0 1 0 9.6 0a4.8 4.8 0 1 0 -9.6 0zM1225.4 379a4.8 4.8 0 1 0 9.6 0a4.8 4.8 0 1 0 -9.6 0zM1229.1 380.5a4.8 4.8 0 1 0 9.6 0a4.8 4.8 0 1 0 -9.6 0zM1232.8 382.1a4.8 4.8 0 1 0 9.6 0a4.8 4.8 0 1 0 -9.6 0zM1236.4 383.6a4.8 4.8 0 1 0 9.6 0a4.8 4.8 0 1 0 -9.6 0zM1240.1 385.3a4.8 4.8 0 1 0 9.6 0a4.8 4.8 0 1 0 -9.6 0zM1243.6 387.3a4.8 4.8 0 1 0 9.6 0a4.8 4.8 0 1 0 -9.6 0zM1247 389.3a4.8 4.8 0 1 0 9.6 0a4.8 4.8 0 1 0 -9.6 0zM1250.5 391.2a4.8 4.8 0 1 0 9.6 0a4.8 4.8 0 1 0 -9.6 0zM1254 393.2a4.8 4.8 0 1 0 9.6 0a4.8 4.8 0 1 0 -9.6 0zM1257.5 395.2a4.8 4.8 0 1 0 9.6 0a4.8 4.8 0 1 0 -9.6 0zM1261 397.2a4.8 4.8 0 1 0 9.6 0a4.8 4.8 0 1 0 -9.6 0zM1264.4 399.1a4.8 4.8 0 1 0 9.6 0a4.8 4.8 0 1 0 -9.6 0zM1267.8 401.2a4.8 4.8 0 1 0 9.6 0a4.8 4.8 0 1 0 -9.6 0zM1271.2 403.3a4.8 4.8 0 1 0 9.6 0a4.8 4.8 0 1 0 -9.6 0zM1274.6 405.4a4.8 4.8 0 1 0 9.6 0a4.8 4.8 0 1 0 -9.6 0zM1277.8 407.8a4.8 4.8 0 1 0 9.6 0a4.8 4.8 0 1 0 -9.6 0zM1280.2 411a4.8 4.8 0 1 0 9.6 0a4.8 4.8 0 1 0 -9.6 0zM1282.6 414.2a4.8 4.8 0 1 0 9.6 0a4.8 4.8 0 1 0 -9.6 0zM1285 417.4a4.8 4.8 0 1 0 9.6 0a4.8 4.8 0 1 0 -9.6 0zM1287.3 420.6a4.8 4.8 0 1 0 9.6 0a4.8 4.8 0 1 0 -9.6 0zM1289.6 423.9a4.8 4.8 0 1 0 9.6 0a4.8 4.8 0 1 0 -9.6 0zM1291.9 427.2a4.8 4.8 0 1 0 9.6 0a4.8 4.8 0 1 0 -9.6 0zM1294.2 430.5a4.8 4.8 0 1 0 9.6 0a4.8 4.8 0 1 0 -9.6 0zM1296.9 433.4a4.8 4.8 0 1 0 9.6 0a4.8 4.8 0 1 0 -9.6 0zM1300 435.9a4.8 4.8 0 1 0 9.6 0a4.8 4.8 0 1 0 -9.6 0zM1303.2 438.4a4.8 4.8 0 1 0 9.6 0a4.8 4.8 0 1 0 -9.6 0zM1306.4 440.6a4.8 4.8 0 1 0 9.6 0a4.8 4.8 0 1 0 -9.6 0zM1310 442.3a4.8 4.8 0 1 0 9.6 0a4.8 4.8 0 1 0 -9.6 0zM1313.6 444.1a4.8 4.8 0 1 0 9.6 0a4.8 4.8 0 1 0 -9.6 0zM1317.2 445.8a4.8 4.8 0 1 0 9.6 0a4.8 4.8 0 1 0 -9.6 0zM1320.9 447.5a4.8 4.8 0 1 0 9.6 0a4.8 4.8 0 1 0 -9.6 0zM1324.7 448.7a4.8 4.8 0 1 0 9.6 0a4.8 4.8 0 1 0 -9.6 0zM1328.5 449.8a4.8 4.8 0 1 0 9.6 0a4.8 4.8 0 1 0 -9.6 0zM1332.4 450.9a4.8 4.8 0 1 0 9.6 0a4.8 4.8 0 1 0 -9.6 0zM1336.2 452a4.8 4.8 0 1 0 9.6 0a4.8 4.8 0 1 0 -9.6 0zM1340.1 453.1a4.8 4.8 0 1 0 9.6 0a4.8 4.8 0 1 0 -9.6 0zM1343.9 453.6a4.8 4.8 0 1 0 9.6 0a4.8 4.8 0 1 0 -9.6 0zM1347.6 452.1a4.8 4.8 0 1 0 9.6 0a4.8 4.8 0 1 0 -9.6 0zM1351.3 450.6a4.8 4.8 0 1 0 9.6 0a4.8 4.8 0 1 0 -9.6 0zM1354.9 449.1a4.8 4.8 0 1 0 9.6 0a4.8 4.8 0 1 0 -9.6 0zM1357.8 446.2a4.8 4.8 0 1 0 9.6 0a4.8 4.8 0 1 0 -9.6 0zM1360.6 443.4a4.8 4.8 0 1 0 9.6 0a4.8 4.8 0 1 0 -9.6 0zM1363.4 440.6a4.8 4.8 0 1 0 9.6 0a4.8 4.8 0 1 0 -9.6 0zM1365.7 437.4a4.8 4.8 0 1 0 9.6 0a4.8 4.8 0 1 0 -9.6 0zM1367.5 433.8a4.8 4.8 0 1 0 9.6 0a4.8 4.8 0 1 0 -9.6 0zM1369.3 430.2a4.8 4.8 0 1 0 9.6 0a4.8 4.8 0 1 0 -9.6 0zM1371.1 426.6a4.8 4.8 0 1 0 9.6 0a4.8 4.8 0 1 0 -9.6 0zM1377.7 415.4a4.8 4.8 0 1 0 9.6 0a4.8 4.8 0 1 0 -9.6 0zM1382.7 405.5a4.8 4.8 0 1 0 9.6 0a4.8 4.8 0 1 0 -9.6 0zM1387.6 388.7a4.8 4.8 0 1 0 9.6 0a4.8 4.8 0 1 0 -9.6 0zM1392.2 371.8a4.8 4.8 0 1 0 9.6 0a4.8 4.8 0 1 0 -9.6 0zM1402.5 321.3a4.8 4.8 0 1 0 9.6 0a4.8 4.8 0 1 0 -9.6 0zM1409.4 281.7a4.8 4.8 0 1 0 9.6 0a4.8 4.8 0 1 0 -9.6 0zM1415.4 239.1a4.8 4.8 0 1 0 9.6 0a4.8 4.8 0 1 0 -9.6 0zM1420.3 216.3a4.8 4.8 0 1 0 9.6 0a4.8 4.8 0 1 0 -9.6 0zM1426.2 188.5a4.8 4.8 0 1 0 9.6 0a4.8 4.8 0 1 0 -9.6 0zM1429.2 174.7a4.8 4.8 0 1 0 9.6 0a4.8 4.8 0 1 0 -9.6 0zM1430.4 170.4a4.8 4.8 0 1 0 9.6 0a4.8 4.8 0 1 0 -9.6 0zM1431.6 166a4.8 4.8 0 1 0 9.6 0a4.8 4.8 0 1 0 -9.6 0zM1434 162.5a4.8 4.8 0 1 0 9.6 0a4.8 4.8 0 1 0 -9.6 0zM1437.5 159.8a4.8 4.8 0 1 0 9.6 0a4.8 4.8 0 1 0 -9.6 0zM1441.1 157.1a4.8 4.8 0 1 0 9.6 0a4.8 4.8 0 1 0 -9.6 0zM1444.7 154.4a4.8 4.8 0 1 0 9.6 0a4.8 4.8 0 1 0 -9.6 0zM1448.4 151.7a4.8 4.8 0 1 0 9.6 0a4.8 4.8 0 1 0 -9.6 0zM1452.4 149.7a4.8 4.8 0 1 0 9.6 0a4.8 4.8 0 1 0 -9.6 0zM1456.4 147.7a4.8 4.8 0 1 0 9.6 0a4.8 4.8 0 1 0 -9.6 0zM1460.5 145.7a4.8 4.8 0 1 0 9.6 0a4.8 4.8 0 1 0 -9.6 0zM1464.5 143.7a4.8 4.8 0 1 0 9.6 0a4.8 4.8 0 1 0 -9.6 0zM1468.5 141.6a4.8 4.8 0 1 0 9.6 0a4.8 4.8 0 1 0 -9.6 0zM1472.2 139.1a4.8 4.8 0 1 0 9.6 0a4.8 4.8 0 1 0 -9.6 0zM1475.9 136.5a4.8 4.8 0 1 0 9.6 0a4.8 4.8 0 1 0 -9.6 0zM1479.6 134a4.8 4.8 0 1 0 9.6 0a4.8 4.8 0 1 0 -9.6 0zM1483.3 131.5a4.8 4.8 0 1 0 9.6 0a4.8 4.8 0 1 0 -9.6 0zM1487 128.9a4.8 4.8 0 1 0 9.6 0a4.8 4.8 0 1 0 -9.6 0zM1490.8 126.4a4.8 4.8 0 1 0 9.6 0a4.8 4.8 0 1 0 -9.6 0zM1494.5 123.8a4.8 4.8 0 1 0 9.6 0a4.8 4.8 0 1 0 -9.6 0zM1498.2 121.3a4.8 4.8 0 1 0 9.6 0a4.8 4.8 0 1 0 -9.6 0zM1501.9 118.8a4.8 4.8 0 1 0 9.6 0a4.8 4.8 0 1 0 -9.6 0zM1505.6 116.2a4.8 4.8 0 1 0 9.6 0a4.8 4.8 0 1 0 -9.6 0zM1509.3 113.7a4.8 4.8 0 1 0 9.6 0a4.8 4.8 0 1 0 -9.6 0zM1513.1 111.2a4.8 4.8 0 1 0 9.6 0a4.8 4.8 0 1 0 -9.6 0zM1516.8 108.6a4.8 4.8 0 1 0 9.6 0a4.8 4.8 0 1 0 -9.6 0zM1520.5 106.1a4.8 4.8 0 1 0 9.6 0a4.8 4.8 0 1 0 -9.6 0zM1524.2 103.5a4.8 4.8 0 1 0 9.6 0a4.8 4.8 0 1 0 -9.6 0zM1527.9 101a4.8 4.8 0 1 0 9.6 0a4.8 4.8 0 1 0 -9.6 0zM1531.6 98.5a4.8 4.8 0 1 0 9.6 0a4.8 4.8 0 1 0 -9.6 0zM1535.4 95.9a4.8 4.8 0 1 0 9.6 0a4.8 4.8 0 1 0 -9.6 0zM1539.1 93.4a4.8 4.8 0 1 0 9.6 0a4.8 4.8 0 1 0 -9.6 0zM1542.8 90.9a4.8 4.8 0 1 0 9.6 0a4.8 4.8 0 1 0 -9.6 0zM1546.5 88.3a4.8 4.8 0 1 0 9.6 0a4.8 4.8 0 1 0 -9.6 0zM1550.2 85.8a4.8 4.8 0 1 0 9.6 0a4.8 4.8 0 1 0 -9.6 0zM1553.9 83.2a4.8 4.8 0 1 0 9.6 0a4.8 4.8 0 1 0 -9.6 0zM1557.7 80.7a4.8 4.8 0 1 0 9.6 0a4.8 4.8 0 1 0 -9.6 0zM1561.4 78.2a4.8 4.8 0 1 0 9.6 0a4.8 4.8 0 1 0 -9.6 0z" fill="#11ee11"/><path d="M1089.6 403L1101.9 403L1104.3 383.5L1111.7 378.6L1117.8 388.4L1121.5 427.6L1123.9 447.2L1133.7 442.3L1143.5 434.9L1153.3 420.2L1158.2 390.8L1160.2 342L1168 354L1180.3 361.4L1204.8 366.3L1228.4 372.3L1275.4 381.7L1291 388L1313 397.4L1338 410L1353.8 419.3L1369.6 427L1378.5 437.2L1382.5 443.2L1386.5 450.1L1390.4 457L1393.4 462L1397.4 469.9L1406.3 435.2L1413.2 430.3L1421.1 426.3" stroke="#ee1111" stroke-width="2" fill="none"/><path d="M1085.6 399h8v8h-8zM1088.6 399h8v8h-8zM1091.6 399h8v8h-8zM1094.6 399h8v8h-8zM1097.6 399h8v8h-8zM1098.2 396.3h8v8h-8zM1098.6 393.3h8v8h-8zM1099 390.4h8v8h-8zM1099.3 387.4h8v8h-8zM1099.7 384.4h8v8h-8zM1100.1 381.4h8v8h-8zM1101.2 378.9h8v8h-8zM1103.7 377.3h8v8h-8zM1106.2 375.6h8v8h-8zM1108.3 375.6h8v8h-8zM1109.9 378.1h8v8h-8zM1111.5 380.7h8v8h-8zM1113.1 383.2h8v8h-8zM1114 386h8v8h-8zM1114.2 389h8v8h-8zM1114.5 392h8v8h-8zM1114.8 395h8v8h-8zM1115.1 398h8v8h-8zM1115.4 401h8v8h-8zM1115.6 403.9h8v8h-8zM1115.9 406.9h8v8h-8zM1116.2 409.9h8v8h-8zM1116.5 412.9h8v8h-8zM1116.8 415.9h8v8h-8zM1117.1 418.9h8v8h-8zM1117.3 421.9h8v8h-8zM1117.7 424.9h8v8h-8zM1118 427.8h8v8h-8zM1118.4 430.8h8v8h-8zM1118.7 433.8h8v8h-8zM1119.1 436.8h8v8h-8zM1119.5 439.7h8v8h-8zM1119.8 442.7h8v8h-8zM1122.1 442.1h8v8h-8zM1124.8 440.7h8v8h-8zM1127.5 439.4h8v8h-8zM1130.1 438h8v8h-8zM1132.5 436.2h8v8h-8zM1134.9 434.3h8v8h-8zM1137.3 432.5h8v8h-8zM1139.7 430.7h8v8h-8zM1141.3 428.2h8v8h-8zM1143 425.7h8v8h-8zM1144.6 423.2h8v8h-8zM1146.3 420.7h8v8h-8zM1148 418.2h8v8h-8zM1149.4 415.6h8v8h-8zM1149.9 412.6h8v8h-8zM1150.4 409.7h8v8h-8zM1150.9 406.7h8v8h-8zM1151.4 403.8h8v8h-8zM1151.9 400.8h8v8h-8zM1152.4 397.8h8v8h-8zM1152.9 394.9h8v8h-8zM1153.3 391.9h8v8h-8zM1153.8 389h8v8h-8zM1154.2 386h8v8h-8zM1154.4 383h8v8h-8zM1154.5 380h8v8h-8zM1154.6 377h8v8h-8zM1154.7 374h8v8h-8zM1154.8 371h8v8h-8zM1155 368h8v8h-8zM1155.1 365h8v8h-8zM1155.2 362h8v8h-8zM1155.3 359h8v8h-8zM1155.5 356h8v8h-8zM1155.6 353h8v8h-8zM1155.7 350h8v8h-8zM1155.8 347h8v8h-8zM1156 344h8v8h-8zM1156.1 341h8v8h-8zM1156.2 338h8v8h-8zM1157.8 340.5h8v8h-8zM1159.4 343h8v8h-8zM1161.1 345.5h8v8h-8zM1162.7 348h8v8h-8zM1164.6 350.3h8v8h-8zM1167.1 351.9h8v8h-8zM1169.7 353.4h8v8h-8zM1172.3 355h8v8h-8zM1174.8 356.5h8v8h-8zM1177.6 357.7h8v8h-8zM1180.5 358.2h8v8h-8zM1183.5 358.8h8v8h-8zM1186.4 359.4h8v8h-8zM1189.3 360h8v8h-8zM1192.3 360.6h8v8h-8zM1195.2 361.2h8v8h-8zM1198.2 361.8h8v8h-8zM1201.1 362.4h8v8h-8zM1204 363.1h8v8h-8zM1206.9 363.9h8v8h-8zM1209.8 364.6h8v8h-8zM1212.7 365.3h8v8h-8zM1215.6 366.1h8v8h-8zM1218.5 366.8h8v8h-8zM1221.5 367.6h8v8h-8zM1224.4 368.3h8v8h-8zM1227.3 368.9h8v8h-8zM1230.2 369.5h8v8h-8zM1233.2 370.1h8v8h-8zM1236.1 370.6h8v8h-8zM1239.1 371.2h8v8h-8zM1242 371.8h8v8h-8zM1245 372.4h8v8h-8zM1247.9 373h8v8h-8zM1250.8 373.6h8v8h-8zM1253.8 374.2h8v8h-8zM1256.7 374.8h8v8h-8zM1259.7 375.4h8v8h-8zM1262.6 375.9h8v8h-8zM1265.5 376.5h8v8h-8zM1268.5 377.1h8v8h-8zM1271.4 377.7h8v8h-8zM1274.2 378.8h8v8h-8zM1277 380h8v8h-8zM1279.8 381.1h8v8h-8zM1282.6 382.2h8v8h-8zM1285.3 383.3h8v8h-8zM1288.1 384.5h8v8h-8zM1290.9 385.7h8v8h-8zM1293.6 386.8h8v8h-8zM1296.4 388h8v8h-8zM1299.1 389.2h8v8h-8zM1301.9 390.4h8v8h-8zM1304.7 391.5h8v8h-8zM1307.4 392.7h8v8h-8zM1310.1 394h8v8h-8zM1312.8 395.3h8v8h-8zM1315.5 396.7h8v8h-8zM1318.2 398h8v8h-8zM1320.9 399.4h8v8h-8zM1323.5 400.7h8v8h-8zM1326.2 402.1h8v8h-8zM1328.9 403.4h8v8h-8zM1331.6 404.8h8v8h-8zM1334.2 406.1h8v8h-8zM1336.8 407.7h8v8h-8zM1339.4 409.2h8v8h-8zM1342 410.7h8v8h-8zM1344.6 412.2h8v8h-8zM1347.2 413.8h8v8h-8zM1349.8 415.3h8v8h-8zM1352.5 416.6h8v8h-8zM1355.2 417.9h8v8h-8zM1357.8 419.2h8v8h-8zM1360.5 420.5h8v8h-8zM1363.2 421.9h8v8h-8zM1374.5 433.2h8v8h-8zM1378.5 439.2h8v8h-8zM1382.5 446.1h8v8h-8zM1386.4 453h8v8h-8zM1389.4 458h8v8h-8zM1393.4 465.9h8v8h-8zM1402.3 431.2h8v8h-8zM1409.2 426.3h8v8h-8zM1417.1 422.3h8v8h-8z" fill="#ee1111"/><path d="M880 279.5L920 281.5L960 284.5L1000 287L1040 290L1084.7 294L1094.5 284.2L1105 283.5L1119 282L1126.4 275.6L1138.6 270.7L1146 261L1150.9 246.2L1154.5 231.5L1158 210L1159.4 194.8L1161.2 158L1161.5 72" stroke="#1010f0" stroke-width="2" fill="none"/><path d="M1340.9 348L1342.9 337.1L1346.8 309.4L1349.8 291.6L1352.8 278.7L1355.8 260.9L1359.7 252.9L1362.7 256.9L1366.7 253.9L1369.6 254.9L1372.6 264.8L1377.6 276.7L1380.5 272.8L1384.5 301.5L1387.5 314.4L1392.4 330.2L1396.4 348L1407.3 385.7L1414.2 381.7L1421.1 377.8L1427.1 374.8L1440 373L1480 373.6L1530 376L1570 378.6" stroke="#1010f0" stroke-width="2" fill="none"/><path d="M880 273.8l5.5 9.5h-11zM885 274l5.5 9.5h-11zM890 274.3l5.5 9.5h-11zM895 274.5l5.5 9.5h-11zM900 274.8l5.5 9.5h-11zM905 275l5.5 9.5h-11zM910 275.3l5.5 9.5h-11zM915 275.5l5.5 9.5h-11zM920 275.8l5.5 9.5h-11zM924.9 276.2l5.5 9.5h-11zM929.9 276.5l5.5 9.5h-11zM934.9 276.9l5.5 9.5h-11zM939.9 277.3l5.5 9.5h-11zM944.9 277.7l5.5 9.5h-11zM949.9 278l5.5 9.5h-11zM954.9 278.4l5.5 9.5h-11zM959.8 278.8l5.5 9.5h-11zM964.8 279.1l5.5 9.5h-11zM969.8 279.4l5.5 9.5h-11zM974.8 279.7l5.5 9.5h-11zM979.8 280l5.5 9.5h-11zM984.8 280.3l5.5 9.5h-11zM989.8 280.7l5.5 9.5h-11zM994.8 281l5.5 9.5h-11zM999.8 281.3l5.5 9.5h-11zM1004.7 281.7l5.5 9.5h-11zM1009.7 282l5.5 9.5h-11zM1014.7 282.4l5.5 9.5h-11zM1019.7 282.8l5.5 9.5h-11zM1024.7 283.2l5.5 9.5h-11zM1029.7 283.5l5.5 9.5h-11zM1034.7 283.9l5.5 9.5h-11zM1039.6 284.3l5.5 9.5h-11zM1044.6 284.7l5.5 9.5h-11zM1049.6 285.2l5.5 9.5h-11zM1054.6 285.6l5.5 9.5h-11zM1059.6 286.1l5.5 9.5h-11zM1064.5 286.5l5.5 9.5h-11zM1069.5 286.9l5.5 9.5h-11zM1074.5 287.4l5.5 9.5h-11zM1079.5 287.8l5.5 9.5h-11zM1084.5 288.3l5.5 9.5h-11zM1088.1 284.9l5.5 9.5h-11zM1091.6 281.4l5.5 9.5h-11zM1095.4 278.4l5.5 9.5h-11zM1100.4 278.1l5.5 9.5h-11zM1105.4 277.8l5.5 9.5h-11zM1110.4 277.2l5.5 9.5h-11zM1115.3 276.7l5.5 9.5h-11zM1120 275.4l5.5 9.5h-11zM1123.8 272.2l5.5 9.5h-11zM1127.8 269.3l5.5 9.5h-11zM1132.5 267.5l5.5 9.5h-11zM1137.1 265.6l5.5 9.5h-11zM1140.6 262.3l5.5 9.5h-11zM1143.7 258.3l5.5 9.5h-11zM1146.4 254.2l5.5 9.5h-11zM1147.9 249.4l5.5 9.5h-11zM1149.5 244.7l5.5 9.5h-11zM1151 239.9l5.5 9.5h-11zM1152.2 235.1l5.5 9.5h-11zM1153.4 230.2l5.5 9.5h-11zM1154.6 225.4l5.5 9.5h-11zM1155.4 220.4l5.5 9.5h-11zM1156.2 215.5l5.5 9.5h-11zM1157 210.6l5.5 9.5h-11zM1157.8 205.6l5.5 9.5h-11zM1158.3 200.6l5.5 9.5h-11zM1158.8 195.7l5.5 9.5h-11zM1159.3 190.7l5.5 9.5h-11zM1159.6 185.7l5.5 9.5h-11zM1159.8 180.7l5.5 9.5h-11zM1160.1 175.7l5.5 9.5h-11zM1160.3 170.7l5.5 9.5h-11zM1160.5 165.7l5.5 9.5h-11zM1160.8 160.7l5.5 9.5h-11zM1161 155.7l5.5 9.5h-11zM1161.2 150.7l5.5 9.5h-11zM1161.2 145.7l5.5 9.5h-11zM1161.2 140.7l5.5 9.5h-11zM1161.3 135.7l5.5 9.5h-11zM1161.3 130.7l5.5 9.5h-11zM1161.3 125.7l5.5 9.5h-11zM1161.3 120.7l5.5 9.5h-11zM1161.3 115.7l5.5 9.5h-11zM1161.3 110.7l5.5 9.5h-11zM1161.4 105.7l5.5 9.5h-11zM1161.4 100.7l5.5 9.5h-11zM1161.4 95.7l5.5 9.5h-11zM1161.4 90.7l5.5 9.5h-11zM1161.4 85.7l5.5 9.5h-11zM1161.4 80.7l5.5 9.5h-11zM1161.5 75.7l5.5 9.5h-11zM1161.5 70.7l5.5 9.5h-11zM1340.9 342.3l5.5 9.5h-11zM1342.9 331.4l5.5 9.5h-11zM1346.8 303.7l5.5 9.5h-11zM1349.8 285.9l5.5 9.5h-11zM1352.8 273l5.5 9.5h-11zM1355.8 255.2l5.5 9.5h-11zM1359.7 247.2l5.5 9.5h-11zM1362.7 251.2l5.5 9.5h-11zM1366.7 248.2l5.5 9.5h-11zM1369.6 249.2l5.5 9.5h-11zM1372.6 259.1l5.5 9.5h-11zM1377.6 271l5.5 9.5h-11zM1380.5 267.1l5.5 9.5h-11zM1384.5 295.8l5.5 9.5h-11zM1387.5 308.7l5.5 9.5h-11zM1392.4 324.5l5.5 9.5h-11zM1396.4 342.3l5.5 9.5h-11zM1407.3 380l5.5 9.5h-11zM1414.2 376l5.5 9.5h-11zM1421.1 372.1l5.5 9.5h-11zM1427.1 369.1l5.5 9.5h-11zM1431.6 368.5l5.5 9.5h-11zM1436 367.9l5.5 9.5h-11zM1440.5 367.3l5.5 9.5h-11zM1445 367.4l5.5 9.5h-11zM1449.5 367.4l5.5 9.5h-11zM1454 367.5l5.5 9.5h-11zM1458.5 367.6l5.5 9.5h-11zM1463 367.6l5.5 9.5h-11zM1467.5 367.7l5.5 9.5h-11zM1472 367.8l5.5 9.5h-11zM1476.5 367.8l5.5 9.5h-11zM1481 367.9l5.5 9.5h-11zM1485.5 368.2l5.5 9.5h-11zM1490 368.4l5.5 9.5h-11zM1494.5 368.6l5.5 9.5h-11zM1498.9 368.8l5.5 9.5h-11zM1503.4 369l5.5 9.5h-11zM1507.9 369.2l5.5 9.5h-11zM1512.4 369.5l5.5 9.5h-11zM1516.9 369.7l5.5 9.5h-11zM1521.4 369.9l5.5 9.5h-11zM1525.9 370.1l5.5 9.5h-11zM1530.4 370.3l5.5 9.5h-11zM1534.9 370.6l5.5 9.5h-11zM1539.4 370.9l5.5 9.5h-11zM1543.9 371.2l5.5 9.5h-11zM1548.4 371.5l5.5 9.5h-11zM1552.9 371.8l5.5 9.5h-11zM1557.4 372.1l5.5 9.5h-11zM1561.8 372.4l5.5 9.5h-11zM1566.3 372.7l5.5 9.5h-11z" fill="#1010f0"/><path d="M880 482L893 478L905.5 471L1088 359L1299 241.6L1433 170L1463.5 142L1567 77.6" stroke="#0f7f0f" stroke-width="3" fill="none" stroke-dasharray="14 13"/><path d="M879.5 66.8H1601V482.0H879.5ZM879.5 482.0v8M879.5 66.8v8M939.6 482.0v3.5M939.6 66.8v3.5M999.8 482.0v8M999.8 66.8v8M1059.9 482.0v3.5M1059.9 66.8v3.5M1120 482.0v8M1120 66.8v8M1180.1 482.0v3.5M1180.1 66.8v3.5M1240.2 482.0v8M1240.2 66.8v8M1300.4 482.0v3.5M1300.4 66.8v3.5M1360.5 482.0v8M1360.5 66.8v8M1420.6 482.0v3.5M1420.6 66.8v3.5M1480.8 482.0v8M1480.8 66.8v8M1540.9 482.0v3.5M1540.9 66.8v3.5M1601 482.0v8M1601 66.8v8M879.5 66.8h-8M879.5 108.3h-3.5M879.5 149.8h-8M879.5 191.4h-3.5M879.5 232.9h-8M879.5 274.4h-3.5M879.5 315.9h-8M879.5 357.4h-3.5M879.5 399h-8M879.5 440.5h-3.5M879.5 482h-8M1601 66.8h8M1601 118.7h3.5M1601 170.6h8M1601 222.5h3.5M1601 274.4h8M1601 326.3h3.5M1601 378.2h8M1601 430.1h3.5M1601 482h8" stroke="#1a1a1a" stroke-width="2" fill="none"/><text x="865.4" y="73.8" font-size="18.6" text-anchor="end" fill="#1a1a1a">5,0x10<tspan dy="-7.2" font-size="12.5">-4</tspan></text><text x="865.4" y="156.8" font-size="18.6" text-anchor="end" fill="#1a1a1a">4,5x10<tspan dy="-7.2" font-size="12.5">-4</tspan></text><text x="865.4" y="239.9" font-size="18.6" text-anchor="end" fill="#1a1a1a">4,0x10<tspan dy="-7.2" font-size="12.5">-4</tspan></text><text x="865.4" y="322.9" font-size="18.6" text-anchor="end" fill="#1a1a1a">3,5x10<tspan dy="-7.2" font-size="12.5">-4</tspan></text><text x="865.4" y="406" font-size="18.6" text-anchor="end" fill="#1a1a1a">3,0x10<tspan dy="-7.2" font-size="12.5">-4</tspan></text><text x="865.4" y="489" font-size="18.6" text-anchor="end" fill="#1a1a1a">2,5x10<tspan dy="-7.2" font-size="12.5">-4</tspan></text><text x="1614.3" y="74.8" font-size="18.6" fill="#1a1a1a">7,0x10<tspan dy="-7.2" font-size="12.5">3</tspan></text><text x="1614.3" y="178.6" font-size="18.6" fill="#1a1a1a">6,5x10<tspan dy="-7.2" font-size="12.5">3</tspan></text><text x="1614.3" y="282.4" font-size="18.6" fill="#1a1a1a">6,0x10<tspan dy="-7.2" font-size="12.5">3</tspan></text><text x="1614.3" y="386.2" font-size="18.6" fill="#1a1a1a">5,5x10<tspan dy="-7.2" font-size="12.5">3</tspan></text><text x="1614.3" y="490" font-size="18.6" fill="#1a1a1a">5,0x10<tspan dy="-7.2" font-size="12.5">3</tspan></text><text x="879.5" y="510.8" font-size="18.6" text-anchor="middle" fill="#1a1a1a">0</text><text x="999.8" y="513.5" font-size="18.6" text-anchor="middle" fill="#1a1a1a">1x10<tspan dy="-8" font-size="12.5">7</tspan></text><text x="1120" y="513.5" font-size="18.6" text-anchor="middle" fill="#1a1a1a">2x10<tspan dy="-8" font-size="12.5">7</tspan></text><text x="1240.2" y="513.5" font-size="18.6" text-anchor="middle" fill="#1a1a1a">3x10<tspan dy="-8" font-size="12.5">7</tspan></text><text x="1360.5" y="513.5" font-size="18.6" text-anchor="middle" fill="#1a1a1a">4x10<tspan dy="-8" font-size="12.5">7</tspan></text><text x="1480.8" y="513.5" font-size="18.6" text-anchor="middle" fill="#1a1a1a">5x10<tspan dy="-8" font-size="12.5">7</tspan></text><text x="1601" y="513.5" font-size="18.6" text-anchor="middle" fill="#1a1a1a">6x10<tspan dy="-8" font-size="12.5">7</tspan></text><text x="1240" y="547" font-size="20.5" text-anchor="middle" fill="#1a1a1a" textLength="276.5" lengthAdjust="spacingAndGlyphs">Number of evaporated atoms</text><text transform="translate(766.2 274.8) rotate(-90)" font-size="21.3" text-anchor="middle" fill="#1a1a1a" textLength="200" lengthAdjust="spacingAndGlyphs">Charge density (a.u.)</text><text transform="translate(1706 274.2) rotate(-90)" font-size="21.3" text-anchor="middle" fill="#1a1a1a" textLength="116.8" lengthAdjust="spacingAndGlyphs">Potential (V)</text><text x="1090.7" y="47" font-size="18" fill="#1a1a1a" textLength="30" lengthAdjust="spacingAndGlyphs">ROI</text><circle cx="1139.4" cy="40.5" r="11.8" fill="none" stroke="#1a1a1a" stroke-width="1.3"/><text x="1139.4" y="47" font-size="17" text-anchor="middle" fill="#1a1a1a">1</text><text x="1256.6" y="322.1" font-size="18" fill="#1a1a1a" textLength="28.5" lengthAdjust="spacingAndGlyphs">ROI</text><circle cx="1305.8" cy="314.9" r="11.8" fill="none" stroke="#1a1a1a" stroke-width="1.3"/><text x="1305.8" y="321.4" font-size="17" text-anchor="middle" fill="#1a1a1a">2</text><rect x="902.2" y="88.3" width="131.7" height="154.6" fill="#000"/><rect x="896.3" y="81.6" width="132" height="155.6" fill="#fff" stroke="#8a8a8a" stroke-width="1"/><text x="899.7" y="100" font-size="16.5" font-weight="bold" fill="#111" textLength="125" lengthAdjust="spacingAndGlyphs">Charge density</text><text x="943.6" y="121.9" font-size="16.5" fill="#111" textLength="63.2" lengthAdjust="spacingAndGlyphs">A phase</text><text x="943.6" y="143.4" font-size="16.5" fill="#111" textLength="63.2" lengthAdjust="spacingAndGlyphs">B phase</text><text x="899.7" y="187.2" font-size="16.5" font-weight="bold" fill="#111" textLength="72.4" lengthAdjust="spacingAndGlyphs">Potential</text><text x="943.6" y="209.2" font-size="16.5" fill="#111" textLength="80.1" lengthAdjust="spacingAndGlyphs">Simulation</text><text x="943.6" y="230.6" font-size="16.5" fill="#111" textLength="79.6" lengthAdjust="spacingAndGlyphs">Reference</text><path d="M898.2 116.3H939" stroke="#1010f0" stroke-width="2"/><path d="M918.6 110.6l5.5 9.5h-11z" fill="#1010f0"/><path d="M898.2 137.8H939" stroke="#ee1111" stroke-width="2"/><path d="M915.1 134.3h7v7h-7z" fill="#ee1111"/><path d="M898.2 203.6H939" stroke="#11ee11" stroke-width="2"/><path d="M914.5 203.6a4.1 4.1 0 1 0 8.2 0a4.1 4.1 0 1 0 -8.2 0z" fill="#11ee11"/><path d="M897 225.5H912M926 225.5H939" stroke="#0f7f0f" stroke-width="3"/><text x="0.4" y="55.3" font-size="46" fill="#000" textLength="48.9" lengthAdjust="spacingAndGlyphs">(a)</text><text x="679.7" y="50.1" font-size="46" fill="#000" textLength="51.1" lengthAdjust="spacingAndGlyphs">(b)</text><text x="0.5" y="628.4" font-size="46" fill="#000" textLength="46.1" lengthAdjust="spacingAndGlyphs">(c)</text><text x="0.5" y="1247.6" font-size="46" fill="#000" textLength="51.4" lengthAdjust="spacingAndGlyphs">(d)</text><rect x="501" y="42" width="107.9" height="70.3" rx="8.4" fill="#000" opacity="0.28" filter="url(#blur2)"/><rect x="498.8" y="39.5" width="107.9" height="70.3" rx="8.4" fill="#fff" stroke="#333" stroke-width="1.5"/><text x="517.8" y="68.3" font-size="18.6" font-weight="bold" fill="#0070c0" textLength="69.5" lengthAdjust="spacingAndGlyphs">A phase</text><text x="518.8" y="94" font-size="18.6" font-weight="bold" fill="#e8000e" textLength="68.5" lengthAdjust="spacingAndGlyphs">B phase</text><text x="1159.5" y="1171.8" font-size="25.5" text-anchor="middle" fill="#111" textLength="110.1" lengthAdjust="spacingAndGlyphs">Radius of</text><text x="1162.3" y="1207.5" font-size="25.5" text-anchor="middle" fill="#111" textLength="179.3" lengthAdjust="spacingAndGlyphs">curvature (nm)</text><text x="1776.7" y="1172" font-size="25.5" text-anchor="middle" fill="#111" textLength="86" lengthAdjust="spacingAndGlyphs">Electric</text><text x="1778.5" y="1207.9" font-size="25.5" text-anchor="middle" fill="#111" textLength="142.3" lengthAdjust="spacingAndGlyphs">field (V/nm)</text></svg></body></html>
